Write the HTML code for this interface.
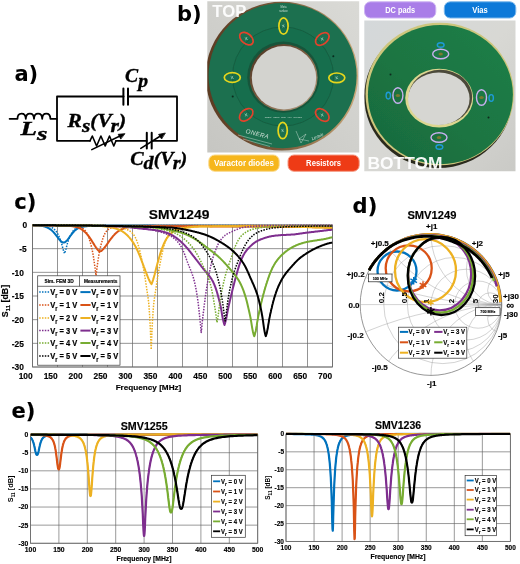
<!DOCTYPE html>
<html><head><meta charset="utf-8"><title>Figure</title>
<style>html,body{margin:0;padding:0;background:#fff}svg{display:block}</style>
</head><body>
<svg width="520" height="564" viewBox="0 0 520 564">
<defs><filter id="gblur" x="0" y="0" width="100%" height="100%" filterUnits="userSpaceOnUse"><feGaussianBlur stdDeviation="0.45"/></filter></defs>
<g filter="url(#gblur)">
<rect x="0" y="0" width="520" height="564" fill="#fff"/>
<defs>
<filter id="b03" x="-5%" y="-5%" width="110%" height="110%"><feGaussianBlur stdDeviation="0.35"/></filter>
<filter id="b06" x="-5%" y="-5%" width="110%" height="110%"><feGaussianBlur stdDeviation="0.6"/></filter>
<filter id="b1" x="-5%" y="-5%" width="110%" height="110%"><feGaussianBlur stdDeviation="1"/></filter>
<filter id="b2" x="-10%" y="-10%" width="120%" height="120%"><feGaussianBlur stdDeviation="2"/></filter>
<clipPath id="clipC"><rect x="32.5" y="224" width="300" height="143"/></clipPath>
<clipPath id="clipE1"><rect x="30.5" y="433" width="227.6" height="110.5"/></clipPath>
<clipPath id="clipE2"><rect x="286" y="432.5" width="224.4" height="109.5"/></clipPath>
<clipPath id="clipP1"><rect x="207.3" y="1.2" width="151.9" height="151.2"/></clipPath>
<clipPath id="clipP2"><rect x="364.3" y="20.5" width="151.2" height="150.8"/></clipPath>
<clipPath id="clipS"><circle cx="431" cy="304.6" r="70.8"/></clipPath>
</defs>
<g id="chartC">
<path d="M32.5,225.0 V367.0 M57.5,225.0 V367.0 M82.5,225.0 V367.0 M107.5,225.0 V367.0 M132.5,225.0 V367.0 M157.5,225.0 V367.0 M182.5,225.0 V367.0 M207.5,225.0 V367.0 M232.5,225.0 V367.0 M257.5,225.0 V367.0 M282.5,225.0 V367.0 M307.5,225.0 V367.0 M332.5,225.0 V367.0 M32.5,225.00 H332.5 M32.5,248.67 H332.5 M32.5,272.33 H332.5 M32.5,296.00 H332.5 M32.5,319.67 H332.5 M32.5,343.33 H332.5 M32.5,367.00 H332.5" stroke="#606060" stroke-width="0.8" fill="none" opacity="0.85"/>
<rect x="32.5" y="225.0" width="300.0" height="142.0" fill="none" stroke="#666" stroke-width="0.75"/>
<g clip-path="url(#clipC)">
<path d="M32.5,225.2 L33.0,225.2 L33.5,225.2 L34.0,225.2 L34.5,225.2 L35.0,225.2 L35.5,225.2 L36.0,225.3 L36.5,225.3 L37.0,225.3 L37.5,225.3 L38.0,225.3 L38.5,225.3 L39.0,225.4 L39.5,225.4 L40.0,225.4 L40.5,225.4 L41.0,225.5 L41.5,225.5 L42.0,225.5 L42.5,225.6 L43.0,225.6 L43.5,225.6 L44.0,225.7 L44.5,225.7 L45.0,225.8 L45.5,225.8 L46.0,225.9 L46.5,225.9 L47.0,226.0 L47.5,226.1 L48.0,226.2 L48.5,226.3 L49.0,226.4 L49.5,226.6 L50.0,226.7 L50.5,226.9 L51.0,227.1 L51.5,227.4 L52.0,227.6 L52.5,227.9 L53.0,228.3 L53.5,228.6 L54.0,229.0 L54.5,229.5 L55.0,230.0 L55.5,230.5 L56.0,231.1 L56.5,231.8 L57.0,232.6 L57.5,233.5 L58.0,234.4 L58.5,235.5 L59.0,236.5 L59.5,237.6 L60.0,238.8 L60.5,240.1 L61.0,241.5 L61.5,243.1 L62.0,245.0 L62.5,247.0 L63.0,248.9 L63.5,250.6 L64.0,252.1 L64.5,253.5 L65.0,252.1 L65.5,250.6 L66.0,248.9 L66.5,247.0 L67.0,245.0 L67.5,243.1 L68.0,241.5 L68.5,240.1 L69.0,238.8 L69.5,237.6 L70.0,236.5 L70.5,235.5 L71.0,234.4 L71.5,233.5 L72.0,232.6 L72.5,231.8 L73.0,231.1 L73.5,230.5 L74.0,230.0 L74.5,229.5 L75.0,229.1 L75.5,228.7 L76.0,228.3 L76.5,228.0 L77.0,227.8 L77.5,227.5 L78.0,227.3 L78.5,227.1 L79.0,227.0 L79.5,226.8 L80.0,226.7 L80.5,226.6 L81.0,226.5 L81.5,226.4 L82.0,226.3 L82.5,226.3 L83.0,226.2 L83.5,226.2 L84.0,226.1 L84.5,226.1 L85.0,226.0 L85.5,226.0 L86.0,226.0 L86.5,225.9 L87.0,225.9 L87.5,225.9 L88.0,225.9 L88.5,225.9 L89.0,225.8 L89.5,225.8 L90.0,225.8 L90.5,225.8 L91.0,225.8 L91.5,225.8 L92.0,225.8 L92.5,225.8 L93.0,225.8 L93.5,225.8 L94.0,225.8 L94.5,225.8 L95.0,225.8 L95.5,225.8 L96.0,225.8 L96.5,225.8 L97.0,225.8 L97.5,225.8 L98.0,225.8 L98.5,225.8 L99.0,225.8 L99.5,225.8 L100.0,225.8 L100.5,225.8 L101.0,225.8 L101.5,225.8 L102.0,225.8 L102.5,225.8 L103.0,225.8 L103.5,225.8 L104.0,225.8 L104.5,225.8 L105.0,225.8 L105.5,225.7 L106.0,225.7 L106.5,225.7 L107.0,225.7 L107.5,225.7 L108.0,225.7 L108.5,225.7 L109.0,225.7 L109.5,225.7 L110.0,225.7 L110.5,225.7 L111.0,225.7 L111.5,225.7 L112.0,225.7 L112.5,225.7 L113.0,225.7 L113.5,225.7 L114.0,225.7 L114.5,225.7 L115.0,225.7 L115.5,225.7 L116.0,225.7 L116.5,225.7 L117.0,225.7 L117.5,225.7 L118.0,225.7 L118.5,225.7 L119.0,225.7 L119.5,225.7 L120.0,225.7 L120.5,225.7 L121.0,225.7 L121.5,225.7 L122.0,225.7 L122.5,225.7 L123.0,225.7 L123.5,225.7 L124.0,225.7 L124.5,225.7 L125.0,225.7 L125.5,225.7 L126.0,225.7 L126.5,225.7 L127.0,225.7 L127.5,225.7 L128.0,225.7 L128.5,225.7 L129.0,225.7 L129.5,225.7 L130.0,225.7 L130.5,225.7 L131.0,225.7 L131.5,225.7 L132.0,225.7 L132.5,225.7 L133.0,225.7 L133.5,225.7 L134.0,225.7 L134.5,225.7 L135.0,225.7 L135.5,225.7 L136.0,225.7 L136.5,225.7 L137.0,225.7 L137.5,225.7 L138.0,225.7 L138.5,225.7 L139.0,225.7 L139.5,225.7 L140.0,225.7 L140.5,225.7 L141.0,225.7 L141.5,225.7 L142.0,225.7 L142.5,225.7 L143.0,225.7 L143.5,225.7 L144.0,225.6 L144.5,225.6 L145.0,225.6 L145.5,225.6 L146.0,225.6 L146.5,225.6 L147.0,225.6 L147.5,225.6 L148.0,225.6 L148.5,225.6 L149.0,225.6 L149.5,225.6 L150.0,225.6 L150.5,225.6 L151.0,225.6 L151.5,225.6 L152.0,225.6 L152.5,225.6 L153.0,225.6 L153.5,225.6 L154.0,225.6 L154.5,225.6 L155.0,225.6 L155.5,225.6 L156.0,225.6 L156.5,225.6 L157.0,225.6 L157.5,225.6 L158.0,225.6 L158.5,225.6 L159.0,225.6 L159.5,225.6 L160.0,225.6 L160.5,225.6 L161.0,225.6 L161.5,225.6 L162.0,225.6 L162.5,225.6 L163.0,225.6 L163.5,225.6 L164.0,225.6 L164.5,225.6 L165.0,225.6 L165.5,225.6 L166.0,225.6 L166.5,225.6 L167.0,225.6 L167.5,225.6 L168.0,225.6 L168.5,225.6 L169.0,225.6 L169.5,225.6 L170.0,225.6 L170.5,225.6 L171.0,225.6 L171.5,225.6 L172.0,225.6 L172.5,225.6 L173.0,225.6 L173.5,225.6 L174.0,225.6 L174.5,225.6 L175.0,225.6 L175.5,225.6 L176.0,225.6 L176.5,225.6 L177.0,225.6 L177.5,225.6 L178.0,225.6 L178.5,225.6 L179.0,225.6 L179.5,225.6 L180.0,225.6 L180.5,225.6 L181.0,225.6 L181.5,225.6 L182.0,225.6 L182.5,225.6 L183.0,225.6 L183.5,225.6 L184.0,225.6 L184.5,225.6 L185.0,225.6 L185.5,225.6 L186.0,225.6 L186.5,225.6 L187.0,225.6 L187.5,225.6 L188.0,225.6 L188.5,225.6 L189.0,225.6 L189.5,225.6 L190.0,225.6 L190.5,225.6 L191.0,225.6 L191.5,225.6 L192.0,225.6 L192.5,225.6 L193.0,225.6 L193.5,225.6 L194.0,225.6 L194.5,225.6 L195.0,225.6 L195.5,225.6 L196.0,225.6 L196.5,225.6 L197.0,225.6 L197.5,225.6 L198.0,225.6 L198.5,225.6 L199.0,225.6 L199.5,225.6 L200.0,225.6 L200.5,225.6 L201.0,225.6 L201.5,225.6 L202.0,225.6 L202.5,225.6 L203.0,225.6 L203.5,225.6 L204.0,225.6 L204.5,225.6 L205.0,225.6 L205.5,225.6 L206.0,225.6 L206.5,225.6 L207.0,225.5 L207.5,225.5 L208.0,225.5 L208.5,225.5 L209.0,225.5 L209.5,225.5 L210.0,225.5 L210.5,225.5 L211.0,225.5 L211.5,225.5 L212.0,225.5 L212.5,225.5 L213.0,225.5 L213.5,225.5 L214.0,225.5 L214.5,225.5 L215.0,225.5 L215.5,225.5 L216.0,225.5 L216.5,225.5 L217.0,225.5 L217.5,225.5 L218.0,225.5 L218.5,225.5 L219.0,225.5 L219.5,225.5 L220.0,225.5 L220.5,225.5 L221.0,225.5 L221.5,225.5 L222.0,225.5 L222.5,225.5 L223.0,225.5 L223.5,225.5 L224.0,225.5 L224.5,225.5 L225.0,225.5 L225.5,225.5 L226.0,225.5 L226.5,225.5 L227.0,225.5 L227.5,225.5 L228.0,225.5 L228.5,225.5 L229.0,225.5 L229.5,225.5 L230.0,225.5 L230.5,225.5 L231.0,225.5 L231.5,225.5 L232.0,225.5 L232.5,225.5 L233.0,225.5 L233.5,225.5 L234.0,225.5 L234.5,225.5 L235.0,225.5 L235.5,225.5 L236.0,225.5 L236.5,225.5 L237.0,225.5 L237.5,225.5 L238.0,225.5 L238.5,225.5 L239.0,225.5 L239.5,225.5 L240.0,225.5 L240.5,225.5 L241.0,225.5 L241.5,225.5 L242.0,225.5 L242.5,225.5 L243.0,225.5 L243.5,225.5 L244.0,225.5 L244.5,225.5 L245.0,225.5 L245.5,225.5 L246.0,225.5 L246.5,225.5 L247.0,225.5 L247.5,225.5 L248.0,225.5 L248.5,225.5 L249.0,225.5 L249.5,225.5 L250.0,225.5 L250.5,225.5 L251.0,225.5 L251.5,225.5 L252.0,225.5 L252.5,225.5 L253.0,225.5 L253.5,225.5 L254.0,225.5 L254.5,225.5 L255.0,225.5 L255.5,225.5 L256.0,225.5 L256.5,225.5 L257.0,225.5 L257.5,225.5 L258.0,225.5 L258.5,225.5 L259.0,225.5 L259.5,225.5 L260.0,225.5 L260.5,225.5 L261.0,225.5 L261.5,225.5 L262.0,225.5 L262.5,225.5 L263.0,225.5 L263.5,225.5 L264.0,225.5 L264.5,225.5 L265.0,225.5 L265.5,225.5 L266.0,225.5 L266.5,225.5 L267.0,225.5 L267.5,225.5 L268.0,225.5 L268.5,225.5 L269.0,225.5 L269.5,225.5 L270.0,225.5 L270.5,225.5 L271.0,225.5 L271.5,225.5 L272.0,225.5 L272.5,225.5 L273.0,225.5 L273.5,225.5 L274.0,225.5 L274.5,225.5 L275.0,225.5 L275.5,225.5 L276.0,225.5 L276.5,225.5 L277.0,225.5 L277.5,225.5 L278.0,225.5 L278.5,225.5 L279.0,225.5 L279.5,225.5 L280.0,225.5 L280.5,225.5 L281.0,225.5 L281.5,225.5 L282.0,225.5 L282.5,225.5 L283.0,225.5 L283.5,225.5 L284.0,225.5 L284.5,225.5 L285.0,225.5 L285.5,225.5 L286.0,225.5 L286.5,225.5 L287.0,225.5 L287.5,225.5 L288.0,225.5 L288.5,225.5 L289.0,225.5 L289.5,225.5 L290.0,225.5 L290.5,225.5 L291.0,225.5 L291.5,225.5 L292.0,225.5 L292.5,225.5 L293.0,225.5 L293.5,225.5 L294.0,225.5 L294.5,225.5 L295.0,225.5 L295.5,225.5 L296.0,225.5 L296.5,225.5 L297.0,225.5 L297.5,225.5 L298.0,225.5 L298.5,225.5 L299.0,225.5 L299.5,225.5 L300.0,225.5 L300.5,225.5 L301.0,225.5 L301.5,225.5 L302.0,225.5 L302.5,225.5 L303.0,225.5 L303.5,225.5 L304.0,225.5 L304.5,225.5 L305.0,225.5 L305.5,225.5 L306.0,225.5 L306.5,225.5 L307.0,225.5 L307.5,225.5 L308.0,225.5 L308.5,225.5 L309.0,225.5 L309.5,225.5 L310.0,225.5 L310.5,225.5 L311.0,225.5 L311.5,225.5 L312.0,225.5 L312.5,225.5 L313.0,225.5 L313.5,225.5 L314.0,225.5 L314.5,225.5 L315.0,225.5 L315.5,225.5 L316.0,225.5 L316.5,225.5 L317.0,225.5 L317.5,225.5 L318.0,225.5 L318.5,225.5 L319.0,225.5 L319.5,225.5 L320.0,225.5 L320.5,225.5 L321.0,225.5 L321.5,225.5 L322.0,225.5 L322.5,225.5 L323.0,225.5 L323.5,225.5 L324.0,225.5 L324.5,225.5 L325.0,225.5 L325.5,225.5 L326.0,225.5 L326.5,225.5 L327.0,225.5 L327.5,225.5 L328.0,225.5 L328.5,225.5 L329.0,225.5 L329.5,225.5 L330.0,225.5 L330.5,225.5 L331.0,225.5 L331.5,225.5 L332.0,225.5 L332.5,225.5" fill="none" stroke="#0072BD" stroke-width="1.5" stroke-linejoin="round" stroke-linecap="butt" stroke-dasharray="1.5 1.3" />
<path d="M32.5,225.3 L33.0,225.3 L33.5,225.3 L34.0,225.3 L34.5,225.3 L35.0,225.4 L35.5,225.4 L36.0,225.4 L36.5,225.4 L37.0,225.5 L37.5,225.5 L38.0,225.5 L38.5,225.6 L39.0,225.6 L39.5,225.7 L40.0,225.7 L40.5,225.8 L41.0,225.8 L41.5,225.9 L42.0,226.0 L42.5,226.0 L43.0,226.1 L43.5,226.2 L44.0,226.3 L44.5,226.5 L45.0,226.6 L45.5,226.8 L46.0,227.0 L46.5,227.2 L47.0,227.4 L47.5,227.7 L48.0,227.9 L48.5,228.2 L49.0,228.5 L49.5,228.8 L50.0,229.1 L50.5,229.4 L51.0,229.8 L51.5,230.2 L52.0,230.6 L52.5,231.1 L53.0,231.6 L53.5,232.2 L54.0,232.7 L54.5,233.3 L55.0,233.9 L55.5,234.5 L56.0,235.1 L56.5,235.8 L57.0,236.4 L57.5,237.1 L58.0,237.8 L58.5,238.5 L59.0,239.2 L59.5,239.8 L60.0,240.3 L60.5,240.9 L61.0,241.3 L61.5,241.7 L62.0,242.1 L62.5,242.3 L63.0,242.5 L63.5,242.6 L64.0,242.6 L64.5,242.4 L65.0,242.2 L65.5,241.8 L66.0,241.4 L66.5,240.9 L67.0,240.4 L67.5,239.8 L68.0,239.2 L68.5,238.5 L69.0,237.8 L69.5,237.1 L70.0,236.4 L70.5,235.7 L71.0,235.1 L71.5,234.4 L72.0,233.8 L72.5,233.2 L73.0,232.6 L73.5,232.0 L74.0,231.4 L74.5,230.9 L75.0,230.4 L75.5,230.0 L76.0,229.6 L76.5,229.3 L77.0,228.9 L77.5,228.6 L78.0,228.3 L78.5,228.1 L79.0,227.8 L79.5,227.6 L80.0,227.4 L80.5,227.3 L81.0,227.1 L81.5,227.0 L82.0,226.8 L82.5,226.7 L83.0,226.7 L83.5,226.6 L84.0,226.5 L84.5,226.4 L85.0,226.4 L85.5,226.3 L86.0,226.3 L86.5,226.2 L87.0,226.2 L87.5,226.1 L88.0,226.1 L88.5,226.1 L89.0,226.0 L89.5,226.0 L90.0,226.0 L90.5,226.0 L91.0,226.0 L91.5,226.0 L92.0,226.0 L92.5,226.0 L93.0,226.0 L93.5,226.0 L94.0,225.9 L94.5,225.9 L95.0,225.9 L95.5,225.9 L96.0,225.9 L96.5,225.9 L97.0,225.9 L97.5,225.9 L98.0,225.9 L98.5,225.9 L99.0,225.9 L99.5,225.9 L100.0,225.9 L100.5,225.9 L101.0,225.9 L101.5,225.9 L102.0,225.9 L102.5,225.9 L103.0,225.9 L103.5,225.9 L104.0,225.9 L104.5,225.8 L105.0,225.8 L105.5,225.8 L106.0,225.8 L106.5,225.8 L107.0,225.8 L107.5,225.8 L108.0,225.8 L108.5,225.8 L109.0,225.8 L109.5,225.8 L110.0,225.8 L110.5,225.8 L111.0,225.8 L111.5,225.8 L112.0,225.8 L112.5,225.8 L113.0,225.8 L113.5,225.8 L114.0,225.8 L114.5,225.8 L115.0,225.8 L115.5,225.8 L116.0,225.8 L116.5,225.8 L117.0,225.8 L117.5,225.8 L118.0,225.8 L118.5,225.8 L119.0,225.8 L119.5,225.8 L120.0,225.8 L120.5,225.8 L121.0,225.8 L121.5,225.8 L122.0,225.8 L122.5,225.8 L123.0,225.8 L123.5,225.8 L124.0,225.8 L124.5,225.8 L125.0,225.8 L125.5,225.8 L126.0,225.8 L126.5,225.8 L127.0,225.8 L127.5,225.8 L128.0,225.8 L128.5,225.8 L129.0,225.8 L129.5,225.8 L130.0,225.8 L130.5,225.8 L131.0,225.8 L131.5,225.8 L132.0,225.8 L132.5,225.8 L133.0,225.8 L133.5,225.8 L134.0,225.8 L134.5,225.8 L135.0,225.8 L135.5,225.8 L136.0,225.8 L136.5,225.8 L137.0,225.8 L137.5,225.8 L138.0,225.8 L138.5,225.8 L139.0,225.8 L139.5,225.8 L140.0,225.8 L140.5,225.8 L141.0,225.8 L141.5,225.8 L142.0,225.8 L142.5,225.8 L143.0,225.8 L143.5,225.8 L144.0,225.8 L144.5,225.8 L145.0,225.8 L145.5,225.8 L146.0,225.8 L146.5,225.8 L147.0,225.8 L147.5,225.8 L148.0,225.8 L148.5,225.8 L149.0,225.8 L149.5,225.8 L150.0,225.8 L150.5,225.8 L151.0,225.8 L151.5,225.8 L152.0,225.8 L152.5,225.8 L153.0,225.8 L153.5,225.8 L154.0,225.8 L154.5,225.8 L155.0,225.9 L155.5,225.9 L156.0,225.9 L156.5,225.9 L157.0,225.9 L157.5,225.9 L158.0,225.9 L158.5,225.9 L159.0,225.9 L159.5,225.9 L160.0,225.9 L160.5,225.9 L161.0,225.9 L161.5,225.9 L162.0,225.9 L162.5,225.9 L163.0,225.9 L163.5,225.9 L164.0,225.9 L164.5,225.9 L165.0,225.9 L165.5,225.9 L166.0,225.9 L166.5,225.9 L167.0,225.9 L167.5,225.9 L168.0,225.9 L168.5,225.9 L169.0,225.9 L169.5,225.9 L170.0,225.9 L170.5,225.9 L171.0,225.9 L171.5,225.9 L172.0,225.9 L172.5,225.9 L173.0,225.9 L173.5,225.9 L174.0,225.9 L174.5,225.9 L175.0,225.9 L175.5,225.9 L176.0,225.9 L176.5,225.9 L177.0,225.9 L177.5,225.9 L178.0,225.9 L178.5,225.9 L179.0,225.9 L179.5,225.9 L180.0,225.9 L180.5,225.9 L181.0,225.9 L181.5,225.9 L182.0,225.9 L182.5,225.9 L183.0,225.9 L183.5,225.9 L184.0,225.9 L184.5,225.9 L185.0,225.9 L185.5,225.9 L186.0,225.9 L186.5,226.0 L187.0,226.0 L187.5,226.0 L188.0,226.0 L188.5,226.0 L189.0,226.0 L189.5,226.0 L190.0,226.0 L190.5,226.0 L191.0,226.0 L191.5,226.0 L192.0,226.0 L192.5,226.0 L193.0,226.0 L193.5,226.0 L194.0,226.0 L194.5,226.0 L195.0,226.0 L195.5,226.0 L196.0,226.0 L196.5,226.0 L197.0,226.0 L197.5,226.0 L198.0,226.0 L198.5,226.0 L199.0,226.0 L199.5,226.0 L200.0,226.0 L200.5,226.0 L201.0,226.0 L201.5,226.0 L202.0,226.0 L202.5,226.0 L203.0,226.0 L203.5,226.0 L204.0,226.0 L204.5,226.0 L205.0,226.0 L205.5,226.0 L206.0,226.0 L206.5,226.0 L207.0,226.0 L207.5,226.0 L208.0,226.0 L208.5,226.0 L209.0,226.0 L209.5,226.0 L210.0,226.0 L210.5,226.0 L211.0,226.0 L211.5,226.0 L212.0,226.0 L212.5,226.1 L213.0,226.1 L213.5,226.1 L214.0,226.1 L214.5,226.1 L215.0,226.1 L215.5,226.1 L216.0,226.1 L216.5,226.1 L217.0,226.1 L217.5,226.1 L218.0,226.1 L218.5,226.1 L219.0,226.1 L219.5,226.1 L220.0,226.1 L220.5,226.1 L221.0,226.1 L221.5,226.1 L222.0,226.1 L222.5,226.1 L223.0,226.1 L223.5,226.1 L224.0,226.1 L224.5,226.1 L225.0,226.1 L225.5,226.1 L226.0,226.1 L226.5,226.1 L227.0,226.1 L227.5,226.1 L228.0,226.1 L228.5,226.1 L229.0,226.1 L229.5,226.1 L230.0,226.1 L230.5,226.1 L231.0,226.1 L231.5,226.1 L232.0,226.2 L232.5,226.2 L233.0,226.2 L233.5,226.2 L234.0,226.2 L234.5,226.2 L235.0,226.2 L235.5,226.2 L236.0,226.2 L236.5,226.2 L237.0,226.2 L237.5,226.2 L238.0,226.2 L238.5,226.2 L239.0,226.2 L239.5,226.2 L240.0,226.2 L240.5,226.2 L241.0,226.2 L241.5,226.2 L242.0,226.2 L242.5,226.2 L243.0,226.2 L243.5,226.2 L244.0,226.2 L244.5,226.2 L245.0,226.2 L245.5,226.2 L246.0,226.2 L246.5,226.2 L247.0,226.2 L247.5,226.2 L248.0,226.3 L248.5,226.3 L249.0,226.3 L249.5,226.3 L250.0,226.3 L250.5,226.3 L251.0,226.3 L251.5,226.3 L252.0,226.3 L252.5,226.3 L253.0,226.3 L253.5,226.3 L254.0,226.3 L254.5,226.3 L255.0,226.3 L255.5,226.3 L256.0,226.3 L256.5,226.3 L257.0,226.3 L257.5,226.3 L258.0,226.3 L258.5,226.3 L259.0,226.3 L259.5,226.3 L260.0,226.3 L260.5,226.3 L261.0,226.3 L261.5,226.3 L262.0,226.4 L262.5,226.4 L263.0,226.4 L263.5,226.4 L264.0,226.4 L264.5,226.4 L265.0,226.4 L265.5,226.4 L266.0,226.4 L266.5,226.4 L267.0,226.4 L267.5,226.4 L268.0,226.4 L268.5,226.4 L269.0,226.4 L269.5,226.4 L270.0,226.4 L270.5,226.4 L271.0,226.4 L271.5,226.4 L272.0,226.4 L272.5,226.4 L273.0,226.4 L273.5,226.4 L274.0,226.4 L274.5,226.4 L275.0,226.5 L275.5,226.5 L276.0,226.5 L276.5,226.5 L277.0,226.5 L277.5,226.5 L278.0,226.5 L278.5,226.5 L279.0,226.5 L279.5,226.5 L280.0,226.5 L280.5,226.5 L281.0,226.5 L281.5,226.5 L282.0,226.5 L282.5,226.5 L283.0,226.5 L283.5,226.5 L284.0,226.5 L284.5,226.5 L285.0,226.5 L285.5,226.5 L286.0,226.5 L286.5,226.6 L287.0,226.6 L287.5,226.6 L288.0,226.6 L288.5,226.6 L289.0,226.6 L289.5,226.6 L290.0,226.6 L290.5,226.6 L291.0,226.6 L291.5,226.6 L292.0,226.6 L292.5,226.6 L293.0,226.6 L293.5,226.6 L294.0,226.6 L294.5,226.6 L295.0,226.6 L295.5,226.6 L296.0,226.6 L296.5,226.6 L297.0,226.6 L297.5,226.6 L298.0,226.7 L298.5,226.7 L299.0,226.7 L299.5,226.7 L300.0,226.7 L300.5,226.7 L301.0,226.7 L301.5,226.7 L302.0,226.7 L302.5,226.7 L303.0,226.7 L303.5,226.7 L304.0,226.7 L304.5,226.7 L305.0,226.7 L305.5,226.7 L306.0,226.7 L306.5,226.7 L307.0,226.7 L307.5,226.7 L308.0,226.7 L308.5,226.8 L309.0,226.8 L309.5,226.8 L310.0,226.8 L310.5,226.8 L311.0,226.8 L311.5,226.8 L312.0,226.8 L312.5,226.8 L313.0,226.8 L313.5,226.8 L314.0,226.8 L314.5,226.8 L315.0,226.8 L315.5,226.8 L316.0,226.8 L316.5,226.8 L317.0,226.8 L317.5,226.8 L318.0,226.8 L318.5,226.9 L319.0,226.9 L319.5,226.9 L320.0,226.9 L320.5,226.9 L321.0,226.9 L321.5,226.9 L322.0,226.9 L322.5,226.9 L323.0,226.9 L323.5,226.9 L324.0,226.9 L324.5,226.9 L325.0,226.9 L325.5,226.9 L326.0,226.9 L326.5,226.9 L327.0,226.9 L327.5,226.9 L328.0,227.0 L328.5,227.0 L329.0,227.0 L329.5,227.0 L330.0,227.0 L330.5,227.0 L331.0,227.0 L331.5,227.0 L332.0,227.0 L332.5,227.0" fill="none" stroke="#0072BD" stroke-width="2.0" stroke-linejoin="round" stroke-linecap="butt" />
<path d="M32.5,225.2 L33.0,225.2 L33.5,225.2 L34.0,225.2 L34.5,225.2 L35.0,225.2 L35.5,225.2 L36.0,225.2 L36.5,225.2 L37.0,225.2 L37.5,225.2 L38.0,225.2 L38.5,225.2 L39.0,225.2 L39.5,225.2 L40.0,225.2 L40.5,225.2 L41.0,225.2 L41.5,225.2 L42.0,225.2 L42.5,225.2 L43.0,225.2 L43.5,225.2 L44.0,225.2 L44.5,225.3 L45.0,225.3 L45.5,225.3 L46.0,225.3 L46.5,225.3 L47.0,225.3 L47.5,225.3 L48.0,225.3 L48.5,225.3 L49.0,225.3 L49.5,225.3 L50.0,225.3 L50.5,225.3 L51.0,225.3 L51.5,225.3 L52.0,225.3 L52.5,225.4 L53.0,225.4 L53.5,225.4 L54.0,225.4 L54.5,225.4 L55.0,225.4 L55.5,225.4 L56.0,225.4 L56.5,225.4 L57.0,225.4 L57.5,225.4 L58.0,225.5 L58.5,225.5 L59.0,225.5 L59.5,225.5 L60.0,225.5 L60.5,225.5 L61.0,225.5 L61.5,225.5 L62.0,225.6 L62.5,225.6 L63.0,225.6 L63.5,225.6 L64.0,225.6 L64.5,225.6 L65.0,225.6 L65.5,225.7 L66.0,225.7 L66.5,225.7 L67.0,225.7 L67.5,225.7 L68.0,225.7 L68.5,225.8 L69.0,225.8 L69.5,225.8 L70.0,225.8 L70.5,225.8 L71.0,225.8 L71.5,225.9 L72.0,225.9 L72.5,225.9 L73.0,225.9 L73.5,226.0 L74.0,226.0 L74.5,226.0 L75.0,226.1 L75.5,226.1 L76.0,226.2 L76.5,226.3 L77.0,226.3 L77.5,226.4 L78.0,226.5 L78.5,226.6 L79.0,226.8 L79.5,226.9 L80.0,227.1 L80.5,227.2 L81.0,227.4 L81.5,227.7 L82.0,227.9 L82.5,228.2 L83.0,228.5 L83.5,228.9 L84.0,229.3 L84.5,229.8 L85.0,230.4 L85.5,231.0 L86.0,231.7 L86.5,232.5 L87.0,233.3 L87.5,234.3 L88.0,235.5 L88.5,236.7 L89.0,238.1 L89.5,239.7 L90.0,241.4 L90.5,243.1 L91.0,244.9 L91.5,246.9 L92.0,249.1 L92.5,251.5 L93.0,254.1 L93.5,257.2 L94.0,260.6 L94.5,264.1 L95.0,267.7 L95.5,271.6 L96.0,275.5 L96.5,271.6 L97.0,267.7 L97.5,264.1 L98.0,260.6 L98.5,257.2 L99.0,254.1 L99.5,251.5 L100.0,249.1 L100.5,246.9 L101.0,244.9 L101.5,243.1 L102.0,241.4 L102.5,239.7 L103.0,238.1 L103.5,236.7 L104.0,235.5 L104.5,234.4 L105.0,233.4 L105.5,232.6 L106.0,231.8 L106.5,231.2 L107.0,230.6 L107.5,230.1 L108.0,229.7 L108.5,229.3 L109.0,229.0 L109.5,228.7 L110.0,228.4 L110.5,228.2 L111.0,227.9 L111.5,227.8 L112.0,227.6 L112.5,227.4 L113.0,227.3 L113.5,227.2 L114.0,227.1 L114.5,227.0 L115.0,226.9 L115.5,226.8 L116.0,226.7 L116.5,226.7 L117.0,226.6 L117.5,226.5 L118.0,226.5 L118.5,226.4 L119.0,226.4 L119.5,226.3 L120.0,226.3 L120.5,226.2 L121.0,226.2 L121.5,226.2 L122.0,226.1 L122.5,226.1 L123.0,226.1 L123.5,226.1 L124.0,226.1 L124.5,226.0 L125.0,226.0 L125.5,226.0 L126.0,226.0 L126.5,226.0 L127.0,226.0 L127.5,226.0 L128.0,226.0 L128.5,226.0 L129.0,226.0 L129.5,226.0 L130.0,226.0 L130.5,226.0 L131.0,226.0 L131.5,226.0 L132.0,226.0 L132.5,226.0 L133.0,226.0 L133.5,226.0 L134.0,226.0 L134.5,226.0 L135.0,225.9 L135.5,225.9 L136.0,225.9 L136.5,225.9 L137.0,225.9 L137.5,225.9 L138.0,225.9 L138.5,225.9 L139.0,225.9 L139.5,225.9 L140.0,225.9 L140.5,225.9 L141.0,225.9 L141.5,225.9 L142.0,225.9 L142.5,225.9 L143.0,225.9 L143.5,225.9 L144.0,225.9 L144.5,225.9 L145.0,225.9 L145.5,225.9 L146.0,225.9 L146.5,225.9 L147.0,225.9 L147.5,225.9 L148.0,225.9 L148.5,225.9 L149.0,225.9 L149.5,225.9 L150.0,225.9 L150.5,225.9 L151.0,225.9 L151.5,225.9 L152.0,225.9 L152.5,225.9 L153.0,225.9 L153.5,225.9 L154.0,225.9 L154.5,225.9 L155.0,225.9 L155.5,225.9 L156.0,225.9 L156.5,225.9 L157.0,225.9 L157.5,225.9 L158.0,225.8 L158.5,225.8 L159.0,225.8 L159.5,225.8 L160.0,225.8 L160.5,225.8 L161.0,225.8 L161.5,225.8 L162.0,225.8 L162.5,225.8 L163.0,225.8 L163.5,225.8 L164.0,225.8 L164.5,225.8 L165.0,225.8 L165.5,225.8 L166.0,225.8 L166.5,225.8 L167.0,225.8 L167.5,225.8 L168.0,225.8 L168.5,225.8 L169.0,225.8 L169.5,225.8 L170.0,225.8 L170.5,225.8 L171.0,225.8 L171.5,225.8 L172.0,225.8 L172.5,225.8 L173.0,225.8 L173.5,225.8 L174.0,225.8 L174.5,225.8 L175.0,225.8 L175.5,225.8 L176.0,225.8 L176.5,225.8 L177.0,225.8 L177.5,225.8 L178.0,225.8 L178.5,225.8 L179.0,225.8 L179.5,225.8 L180.0,225.8 L180.5,225.8 L181.0,225.8 L181.5,225.8 L182.0,225.8 L182.5,225.8 L183.0,225.8 L183.5,225.8 L184.0,225.8 L184.5,225.8 L185.0,225.8 L185.5,225.8 L186.0,225.8 L186.5,225.8 L187.0,225.8 L187.5,225.8 L188.0,225.8 L188.5,225.7 L189.0,225.7 L189.5,225.7 L190.0,225.7 L190.5,225.7 L191.0,225.7 L191.5,225.7 L192.0,225.7 L192.5,225.7 L193.0,225.7 L193.5,225.7 L194.0,225.7 L194.5,225.7 L195.0,225.7 L195.5,225.7 L196.0,225.7 L196.5,225.7 L197.0,225.7 L197.5,225.7 L198.0,225.7 L198.5,225.7 L199.0,225.7 L199.5,225.7 L200.0,225.7 L200.5,225.7 L201.0,225.7 L201.5,225.7 L202.0,225.7 L202.5,225.7 L203.0,225.7 L203.5,225.7 L204.0,225.7 L204.5,225.7 L205.0,225.7 L205.5,225.7 L206.0,225.7 L206.5,225.7 L207.0,225.7 L207.5,225.7 L208.0,225.7 L208.5,225.7 L209.0,225.7 L209.5,225.7 L210.0,225.7 L210.5,225.7 L211.0,225.7 L211.5,225.7 L212.0,225.7 L212.5,225.7 L213.0,225.7 L213.5,225.7 L214.0,225.7 L214.5,225.7 L215.0,225.7 L215.5,225.7 L216.0,225.7 L216.5,225.7 L217.0,225.7 L217.5,225.7 L218.0,225.7 L218.5,225.7 L219.0,225.7 L219.5,225.7 L220.0,225.7 L220.5,225.7 L221.0,225.7 L221.5,225.7 L222.0,225.7 L222.5,225.7 L223.0,225.7 L223.5,225.7 L224.0,225.7 L224.5,225.7 L225.0,225.7 L225.5,225.7 L226.0,225.7 L226.5,225.7 L227.0,225.7 L227.5,225.7 L228.0,225.7 L228.5,225.7 L229.0,225.7 L229.5,225.7 L230.0,225.7 L230.5,225.7 L231.0,225.7 L231.5,225.7 L232.0,225.7 L232.5,225.7 L233.0,225.7 L233.5,225.7 L234.0,225.7 L234.5,225.7 L235.0,225.7 L235.5,225.7 L236.0,225.7 L236.5,225.7 L237.0,225.7 L237.5,225.7 L238.0,225.6 L238.5,225.6 L239.0,225.6 L239.5,225.6 L240.0,225.6 L240.5,225.6 L241.0,225.6 L241.5,225.6 L242.0,225.6 L242.5,225.6 L243.0,225.6 L243.5,225.6 L244.0,225.6 L244.5,225.6 L245.0,225.6 L245.5,225.6 L246.0,225.6 L246.5,225.6 L247.0,225.6 L247.5,225.6 L248.0,225.6 L248.5,225.6 L249.0,225.6 L249.5,225.6 L250.0,225.6 L250.5,225.6 L251.0,225.6 L251.5,225.6 L252.0,225.6 L252.5,225.6 L253.0,225.6 L253.5,225.6 L254.0,225.6 L254.5,225.6 L255.0,225.6 L255.5,225.6 L256.0,225.6 L256.5,225.6 L257.0,225.6 L257.5,225.6 L258.0,225.6 L258.5,225.6 L259.0,225.6 L259.5,225.6 L260.0,225.6 L260.5,225.6 L261.0,225.6 L261.5,225.6 L262.0,225.6 L262.5,225.6 L263.0,225.6 L263.5,225.6 L264.0,225.6 L264.5,225.6 L265.0,225.6 L265.5,225.6 L266.0,225.6 L266.5,225.6 L267.0,225.6 L267.5,225.6 L268.0,225.6 L268.5,225.6 L269.0,225.6 L269.5,225.6 L270.0,225.6 L270.5,225.6 L271.0,225.6 L271.5,225.6 L272.0,225.6 L272.5,225.6 L273.0,225.6 L273.5,225.6 L274.0,225.6 L274.5,225.6 L275.0,225.6 L275.5,225.6 L276.0,225.6 L276.5,225.6 L277.0,225.6 L277.5,225.6 L278.0,225.6 L278.5,225.6 L279.0,225.6 L279.5,225.6 L280.0,225.6 L280.5,225.6 L281.0,225.6 L281.5,225.6 L282.0,225.6 L282.5,225.6 L283.0,225.6 L283.5,225.6 L284.0,225.6 L284.5,225.6 L285.0,225.6 L285.5,225.6 L286.0,225.6 L286.5,225.6 L287.0,225.6 L287.5,225.6 L288.0,225.6 L288.5,225.6 L289.0,225.6 L289.5,225.6 L290.0,225.6 L290.5,225.6 L291.0,225.6 L291.5,225.6 L292.0,225.6 L292.5,225.6 L293.0,225.6 L293.5,225.6 L294.0,225.6 L294.5,225.6 L295.0,225.6 L295.5,225.6 L296.0,225.6 L296.5,225.6 L297.0,225.6 L297.5,225.6 L298.0,225.6 L298.5,225.6 L299.0,225.6 L299.5,225.6 L300.0,225.6 L300.5,225.6 L301.0,225.6 L301.5,225.6 L302.0,225.6 L302.5,225.6 L303.0,225.6 L303.5,225.6 L304.0,225.6 L304.5,225.6 L305.0,225.6 L305.5,225.6 L306.0,225.6 L306.5,225.6 L307.0,225.6 L307.5,225.6 L308.0,225.6 L308.5,225.6 L309.0,225.6 L309.5,225.6 L310.0,225.6 L310.5,225.6 L311.0,225.6 L311.5,225.6 L312.0,225.6 L312.5,225.6 L313.0,225.6 L313.5,225.6 L314.0,225.6 L314.5,225.6 L315.0,225.6 L315.5,225.6 L316.0,225.6 L316.5,225.6 L317.0,225.6 L317.5,225.6 L318.0,225.6 L318.5,225.6 L319.0,225.6 L319.5,225.6 L320.0,225.6 L320.5,225.6 L321.0,225.6 L321.5,225.6 L322.0,225.6 L322.5,225.6 L323.0,225.6 L323.5,225.6 L324.0,225.6 L324.5,225.6 L325.0,225.6 L325.5,225.6 L326.0,225.6 L326.5,225.6 L327.0,225.6 L327.5,225.6 L328.0,225.6 L328.5,225.6 L329.0,225.6 L329.5,225.6 L330.0,225.6 L330.5,225.6 L331.0,225.6 L331.5,225.6 L332.0,225.6 L332.5,225.6" fill="none" stroke="#D95319" stroke-width="1.5" stroke-linejoin="round" stroke-linecap="butt" stroke-dasharray="1.5 1.3" />
<path d="M32.5,225.3 L33.0,225.3 L33.5,225.3 L34.0,225.3 L34.5,225.3 L35.0,225.3 L35.5,225.3 L36.0,225.3 L36.5,225.3 L37.0,225.3 L37.5,225.3 L38.0,225.3 L38.5,225.3 L39.0,225.3 L39.5,225.3 L40.0,225.3 L40.5,225.3 L41.0,225.3 L41.5,225.3 L42.0,225.3 L42.5,225.3 L43.0,225.3 L43.5,225.4 L44.0,225.4 L44.5,225.4 L45.0,225.4 L45.5,225.4 L46.0,225.4 L46.5,225.4 L47.0,225.4 L47.5,225.4 L48.0,225.4 L48.5,225.4 L49.0,225.4 L49.5,225.4 L50.0,225.4 L50.5,225.4 L51.0,225.5 L51.5,225.5 L52.0,225.5 L52.5,225.5 L53.0,225.5 L53.5,225.5 L54.0,225.5 L54.5,225.5 L55.0,225.5 L55.5,225.5 L56.0,225.6 L56.5,225.6 L57.0,225.6 L57.5,225.6 L58.0,225.6 L58.5,225.6 L59.0,225.6 L59.5,225.6 L60.0,225.7 L60.5,225.7 L61.0,225.7 L61.5,225.7 L62.0,225.7 L62.5,225.7 L63.0,225.7 L63.5,225.8 L64.0,225.8 L64.5,225.8 L65.0,225.8 L65.5,225.8 L66.0,225.8 L66.5,225.9 L67.0,225.9 L67.5,225.9 L68.0,225.9 L68.5,225.9 L69.0,226.0 L69.5,226.0 L70.0,226.0 L70.5,226.1 L71.0,226.1 L71.5,226.1 L72.0,226.2 L72.5,226.3 L73.0,226.3 L73.5,226.4 L74.0,226.5 L74.5,226.6 L75.0,226.7 L75.5,226.8 L76.0,227.0 L76.5,227.1 L77.0,227.2 L77.5,227.4 L78.0,227.6 L78.5,227.7 L79.0,227.9 L79.5,228.2 L80.0,228.4 L80.5,228.7 L81.0,229.0 L81.5,229.3 L82.0,229.7 L82.5,230.0 L83.0,230.4 L83.5,230.8 L84.0,231.2 L84.5,231.6 L85.0,232.1 L85.5,232.6 L86.0,233.1 L86.5,233.6 L87.0,234.2 L87.5,234.8 L88.0,235.4 L88.5,236.0 L89.0,236.7 L89.5,237.4 L90.0,238.1 L90.5,238.8 L91.0,239.6 L91.5,240.4 L92.0,241.2 L92.5,242.0 L93.0,242.8 L93.5,243.6 L94.0,244.4 L94.5,245.2 L95.0,246.0 L95.5,246.7 L96.0,247.5 L96.5,248.2 L97.0,248.9 L97.5,249.5 L98.0,250.1 L98.5,250.6 L99.0,251.0 L99.5,251.2 L100.0,251.3 L100.5,251.3 L101.0,251.1 L101.5,250.8 L102.0,250.4 L102.5,249.9 L103.0,249.4 L103.5,248.8 L104.0,248.2 L104.5,247.6 L105.0,247.0 L105.5,246.3 L106.0,245.7 L106.5,245.0 L107.0,244.3 L107.5,243.6 L108.0,242.9 L108.5,242.1 L109.0,241.4 L109.5,240.7 L110.0,240.0 L110.5,239.4 L111.0,238.7 L111.5,238.1 L112.0,237.5 L112.5,236.8 L113.0,236.2 L113.5,235.6 L114.0,235.1 L114.5,234.5 L115.0,234.0 L115.5,233.5 L116.0,233.1 L116.5,232.6 L117.0,232.2 L117.5,231.8 L118.0,231.4 L118.5,231.1 L119.0,230.7 L119.5,230.4 L120.0,230.1 L120.5,229.8 L121.0,229.5 L121.5,229.3 L122.0,229.1 L122.5,228.9 L123.0,228.7 L123.5,228.5 L124.0,228.3 L124.5,228.2 L125.0,228.0 L125.5,227.9 L126.0,227.7 L126.5,227.6 L127.0,227.5 L127.5,227.4 L128.0,227.3 L128.5,227.2 L129.0,227.1 L129.5,227.1 L130.0,227.0 L130.5,227.0 L131.0,226.9 L131.5,226.9 L132.0,226.8 L132.5,226.8 L133.0,226.8 L133.5,226.7 L134.0,226.7 L134.5,226.7 L135.0,226.6 L135.5,226.6 L136.0,226.6 L136.5,226.5 L137.0,226.5 L137.5,226.5 L138.0,226.5 L138.5,226.4 L139.0,226.4 L139.5,226.4 L140.0,226.4 L140.5,226.4 L141.0,226.4 L141.5,226.3 L142.0,226.3 L142.5,226.3 L143.0,226.3 L143.5,226.3 L144.0,226.3 L144.5,226.3 L145.0,226.3 L145.5,226.3 L146.0,226.3 L146.5,226.3 L147.0,226.3 L147.5,226.3 L148.0,226.3 L148.5,226.3 L149.0,226.3 L149.5,226.3 L150.0,226.3 L150.5,226.3 L151.0,226.3 L151.5,226.3 L152.0,226.3 L152.5,226.3 L153.0,226.3 L153.5,226.3 L154.0,226.3 L154.5,226.3 L155.0,226.3 L155.5,226.3 L156.0,226.3 L156.5,226.3 L157.0,226.3 L157.5,226.3 L158.0,226.3 L158.5,226.3 L159.0,226.3 L159.5,226.3 L160.0,226.3 L160.5,226.3 L161.0,226.3 L161.5,226.3 L162.0,226.3 L162.5,226.3 L163.0,226.3 L163.5,226.3 L164.0,226.3 L164.5,226.3 L165.0,226.3 L165.5,226.3 L166.0,226.3 L166.5,226.3 L167.0,226.3 L167.5,226.3 L168.0,226.3 L168.5,226.3 L169.0,226.3 L169.5,226.3 L170.0,226.3 L170.5,226.3 L171.0,226.3 L171.5,226.3 L172.0,226.3 L172.5,226.3 L173.0,226.3 L173.5,226.3 L174.0,226.3 L174.5,226.3 L175.0,226.3 L175.5,226.3 L176.0,226.3 L176.5,226.3 L177.0,226.3 L177.5,226.3 L178.0,226.3 L178.5,226.3 L179.0,226.3 L179.5,226.3 L180.0,226.3 L180.5,226.3 L181.0,226.3 L181.5,226.3 L182.0,226.3 L182.5,226.3 L183.0,226.3 L183.5,226.3 L184.0,226.3 L184.5,226.3 L185.0,226.3 L185.5,226.3 L186.0,226.3 L186.5,226.3 L187.0,226.3 L187.5,226.3 L188.0,226.3 L188.5,226.3 L189.0,226.3 L189.5,226.3 L190.0,226.3 L190.5,226.3 L191.0,226.3 L191.5,226.3 L192.0,226.3 L192.5,226.3 L193.0,226.3 L193.5,226.3 L194.0,226.3 L194.5,226.3 L195.0,226.3 L195.5,226.3 L196.0,226.3 L196.5,226.3 L197.0,226.3 L197.5,226.3 L198.0,226.3 L198.5,226.3 L199.0,226.3 L199.5,226.3 L200.0,226.3 L200.5,226.3 L201.0,226.3 L201.5,226.3 L202.0,226.3 L202.5,226.3 L203.0,226.3 L203.5,226.3 L204.0,226.3 L204.5,226.3 L205.0,226.3 L205.5,226.3 L206.0,226.3 L206.5,226.3 L207.0,226.3 L207.5,226.3 L208.0,226.3 L208.5,226.3 L209.0,226.3 L209.5,226.3 L210.0,226.4 L210.5,226.4 L211.0,226.4 L211.5,226.4 L212.0,226.4 L212.5,226.4 L213.0,226.4 L213.5,226.4 L214.0,226.4 L214.5,226.4 L215.0,226.4 L215.5,226.4 L216.0,226.4 L216.5,226.4 L217.0,226.4 L217.5,226.4 L218.0,226.4 L218.5,226.4 L219.0,226.4 L219.5,226.4 L220.0,226.4 L220.5,226.4 L221.0,226.4 L221.5,226.4 L222.0,226.4 L222.5,226.4 L223.0,226.4 L223.5,226.4 L224.0,226.4 L224.5,226.4 L225.0,226.4 L225.5,226.4 L226.0,226.4 L226.5,226.4 L227.0,226.4 L227.5,226.4 L228.0,226.4 L228.5,226.4 L229.0,226.4 L229.5,226.4 L230.0,226.4 L230.5,226.4 L231.0,226.4 L231.5,226.4 L232.0,226.4 L232.5,226.4 L233.0,226.4 L233.5,226.4 L234.0,226.4 L234.5,226.4 L235.0,226.4 L235.5,226.4 L236.0,226.4 L236.5,226.4 L237.0,226.4 L237.5,226.4 L238.0,226.4 L238.5,226.4 L239.0,226.5 L239.5,226.5 L240.0,226.5 L240.5,226.5 L241.0,226.5 L241.5,226.5 L242.0,226.5 L242.5,226.5 L243.0,226.5 L243.5,226.5 L244.0,226.5 L244.5,226.5 L245.0,226.5 L245.5,226.5 L246.0,226.5 L246.5,226.5 L247.0,226.5 L247.5,226.5 L248.0,226.5 L248.5,226.5 L249.0,226.5 L249.5,226.5 L250.0,226.5 L250.5,226.5 L251.0,226.5 L251.5,226.5 L252.0,226.5 L252.5,226.5 L253.0,226.5 L253.5,226.5 L254.0,226.5 L254.5,226.5 L255.0,226.5 L255.5,226.5 L256.0,226.5 L256.5,226.6 L257.0,226.6 L257.5,226.6 L258.0,226.6 L258.5,226.6 L259.0,226.6 L259.5,226.6 L260.0,226.6 L260.5,226.6 L261.0,226.6 L261.5,226.6 L262.0,226.6 L262.5,226.6 L263.0,226.6 L263.5,226.6 L264.0,226.6 L264.5,226.6 L265.0,226.6 L265.5,226.6 L266.0,226.6 L266.5,226.6 L267.0,226.6 L267.5,226.6 L268.0,226.6 L268.5,226.6 L269.0,226.6 L269.5,226.7 L270.0,226.7 L270.5,226.7 L271.0,226.7 L271.5,226.7 L272.0,226.7 L272.5,226.7 L273.0,226.7 L273.5,226.7 L274.0,226.7 L274.5,226.7 L275.0,226.7 L275.5,226.7 L276.0,226.7 L276.5,226.7 L277.0,226.7 L277.5,226.7 L278.0,226.7 L278.5,226.7 L279.0,226.7 L279.5,226.7 L280.0,226.7 L280.5,226.8 L281.0,226.8 L281.5,226.8 L282.0,226.8 L282.5,226.8 L283.0,226.8 L283.5,226.8 L284.0,226.8 L284.5,226.8 L285.0,226.8 L285.5,226.8 L286.0,226.8 L286.5,226.8 L287.0,226.8 L287.5,226.8 L288.0,226.8 L288.5,226.8 L289.0,226.8 L289.5,226.8 L290.0,226.9 L290.5,226.9 L291.0,226.9 L291.5,226.9 L292.0,226.9 L292.5,226.9 L293.0,226.9 L293.5,226.9 L294.0,226.9 L294.5,226.9 L295.0,226.9 L295.5,226.9 L296.0,226.9 L296.5,226.9 L297.0,226.9 L297.5,226.9 L298.0,227.0 L298.5,227.0 L299.0,227.0 L299.5,227.0 L300.0,227.0 L300.5,227.0 L301.0,227.0 L301.5,227.0 L302.0,227.0 L302.5,227.0 L303.0,227.0 L303.5,227.0 L304.0,227.0 L304.5,227.0 L305.0,227.0 L305.5,227.1 L306.0,227.1 L306.5,227.1 L307.0,227.1 L307.5,227.1 L308.0,227.1 L308.5,227.1 L309.0,227.1 L309.5,227.1 L310.0,227.1 L310.5,227.1 L311.0,227.1 L311.5,227.1 L312.0,227.1 L312.5,227.2 L313.0,227.2 L313.5,227.2 L314.0,227.2 L314.5,227.2 L315.0,227.2 L315.5,227.2 L316.0,227.2 L316.5,227.2 L317.0,227.2 L317.5,227.2 L318.0,227.2 L318.5,227.3 L319.0,227.3 L319.5,227.3 L320.0,227.3 L320.5,227.3 L321.0,227.3 L321.5,227.3 L322.0,227.3 L322.5,227.3 L323.0,227.3 L323.5,227.3 L324.0,227.3 L324.5,227.4 L325.0,227.4 L325.5,227.4 L326.0,227.4 L326.5,227.4 L327.0,227.4 L327.5,227.4 L328.0,227.4 L328.5,227.4 L329.0,227.4 L329.5,227.4 L330.0,227.5 L330.5,227.5 L331.0,227.5 L331.5,227.5 L332.0,227.5 L332.5,227.5" fill="none" stroke="#D95319" stroke-width="2.0" stroke-linejoin="round" stroke-linecap="butt" />
<path d="M32.5,225.2 L33.0,225.2 L33.5,225.2 L34.0,225.2 L34.5,225.2 L35.0,225.2 L35.5,225.2 L36.0,225.2 L36.5,225.2 L37.0,225.2 L37.5,225.2 L38.0,225.2 L38.5,225.2 L39.0,225.2 L39.5,225.2 L40.0,225.2 L40.5,225.2 L41.0,225.2 L41.5,225.2 L42.0,225.2 L42.5,225.2 L43.0,225.2 L43.5,225.2 L44.0,225.2 L44.5,225.2 L45.0,225.2 L45.5,225.2 L46.0,225.2 L46.5,225.2 L47.0,225.2 L47.5,225.2 L48.0,225.2 L48.5,225.2 L49.0,225.2 L49.5,225.2 L50.0,225.2 L50.5,225.2 L51.0,225.2 L51.5,225.2 L52.0,225.2 L52.5,225.2 L53.0,225.2 L53.5,225.2 L54.0,225.2 L54.5,225.3 L55.0,225.3 L55.5,225.3 L56.0,225.3 L56.5,225.3 L57.0,225.3 L57.5,225.3 L58.0,225.3 L58.5,225.3 L59.0,225.3 L59.5,225.3 L60.0,225.3 L60.5,225.3 L61.0,225.3 L61.5,225.3 L62.0,225.3 L62.5,225.3 L63.0,225.3 L63.5,225.3 L64.0,225.3 L64.5,225.3 L65.0,225.3 L65.5,225.3 L66.0,225.3 L66.5,225.3 L67.0,225.3 L67.5,225.3 L68.0,225.3 L68.5,225.3 L69.0,225.3 L69.5,225.4 L70.0,225.4 L70.5,225.4 L71.0,225.4 L71.5,225.4 L72.0,225.4 L72.5,225.4 L73.0,225.4 L73.5,225.4 L74.0,225.4 L74.5,225.4 L75.0,225.4 L75.5,225.4 L76.0,225.4 L76.5,225.4 L77.0,225.4 L77.5,225.4 L78.0,225.4 L78.5,225.4 L79.0,225.5 L79.5,225.5 L80.0,225.5 L80.5,225.5 L81.0,225.5 L81.5,225.5 L82.0,225.5 L82.5,225.5 L83.0,225.5 L83.5,225.5 L84.0,225.5 L84.5,225.5 L85.0,225.5 L85.5,225.5 L86.0,225.5 L86.5,225.6 L87.0,225.6 L87.5,225.6 L88.0,225.6 L88.5,225.6 L89.0,225.6 L89.5,225.6 L90.0,225.6 L90.5,225.6 L91.0,225.6 L91.5,225.6 L92.0,225.6 L92.5,225.6 L93.0,225.7 L93.5,225.7 L94.0,225.7 L94.5,225.7 L95.0,225.7 L95.5,225.7 L96.0,225.7 L96.5,225.7 L97.0,225.7 L97.5,225.7 L98.0,225.7 L98.5,225.8 L99.0,225.8 L99.5,225.8 L100.0,225.8 L100.5,225.8 L101.0,225.8 L101.5,225.8 L102.0,225.8 L102.5,225.8 L103.0,225.8 L103.5,225.9 L104.0,225.9 L104.5,225.9 L105.0,225.9 L105.5,225.9 L106.0,225.9 L106.5,225.9 L107.0,225.9 L107.5,225.9 L108.0,226.0 L108.5,226.0 L109.0,226.0 L109.5,226.0 L110.0,226.0 L110.5,226.1 L111.0,226.1 L111.5,226.1 L112.0,226.1 L112.5,226.2 L113.0,226.2 L113.5,226.3 L114.0,226.3 L114.5,226.4 L115.0,226.4 L115.5,226.5 L116.0,226.5 L116.5,226.6 L117.0,226.7 L117.5,226.7 L118.0,226.8 L118.5,226.9 L119.0,227.0 L119.5,227.1 L120.0,227.2 L120.5,227.3 L121.0,227.4 L121.5,227.5 L122.0,227.6 L122.5,227.8 L123.0,227.9 L123.5,228.1 L124.0,228.2 L124.5,228.4 L125.0,228.6 L125.5,228.8 L126.0,229.0 L126.5,229.2 L127.0,229.5 L127.5,229.7 L128.0,230.0 L128.5,230.3 L129.0,230.6 L129.5,230.9 L130.0,231.2 L130.5,231.6 L131.0,232.0 L131.5,232.4 L132.0,232.8 L132.5,233.3 L133.0,233.9 L133.5,234.5 L134.0,235.2 L134.5,236.0 L135.0,236.9 L135.5,237.8 L136.0,238.9 L136.5,240.1 L137.0,241.4 L137.5,242.8 L138.0,244.3 L138.5,246.0 L139.0,247.8 L139.5,249.7 L140.0,251.8 L140.5,253.9 L141.0,256.2 L141.5,258.5 L142.0,260.9 L142.5,263.4 L143.0,266.0 L143.5,268.7 L144.0,271.5 L144.5,274.4 L145.0,277.5 L145.5,280.7 L146.0,284.0 L146.5,287.3 L147.0,290.7 L147.5,294.0 L148.0,297.3 L148.5,301.1 L149.0,306.3 L149.5,313.7 L150.0,322.3 L150.5,332.6 L151.0,344.5 L151.2,349.6 L151.7,337.0 L152.2,325.9 L152.7,317.5 L153.2,310.0 L153.7,304.1 L154.2,300.0 L154.7,296.6 L155.2,293.4 L155.7,290.1 L156.2,286.8 L156.7,283.4 L157.2,280.2 L157.7,276.9 L158.2,273.9 L158.7,271.0 L159.2,268.2 L159.7,265.5 L160.2,262.9 L160.7,260.3 L161.2,257.9 L161.7,255.5 L162.2,253.2 L162.7,251.0 L163.2,248.9 L163.7,246.9 L164.2,245.1 L164.7,243.4 L165.2,241.8 L165.7,240.4 L166.2,239.1 L166.7,237.9 L167.2,236.8 L167.7,235.8 L168.2,235.0 L168.7,234.2 L169.2,233.5 L169.7,232.9 L170.2,232.4 L170.7,231.9 L171.2,231.5 L171.7,231.1 L172.2,230.8 L172.7,230.5 L173.2,230.2 L173.7,229.9 L174.2,229.7 L174.7,229.5 L175.2,229.3 L175.7,229.1 L176.2,229.0 L176.7,228.8 L177.2,228.7 L177.7,228.6 L178.2,228.4 L178.7,228.3 L179.2,228.2 L179.7,228.1 L180.2,228.0 L180.7,227.9 L181.2,227.9 L181.7,227.8 L182.2,227.7 L182.7,227.6 L183.2,227.6 L183.7,227.5 L184.2,227.4 L184.7,227.4 L185.2,227.3 L185.7,227.3 L186.2,227.2 L186.7,227.1 L187.2,227.1 L187.7,227.0 L188.2,227.0 L188.7,226.9 L189.2,226.9 L189.7,226.8 L190.2,226.8 L190.7,226.8 L191.2,226.7 L191.7,226.7 L192.2,226.6 L192.7,226.6 L193.2,226.6 L193.7,226.5 L194.2,226.5 L194.7,226.5 L195.2,226.5 L195.7,226.4 L196.2,226.4 L196.7,226.4 L197.2,226.4 L197.7,226.4 L198.2,226.4 L198.7,226.3 L199.2,226.3 L199.7,226.3 L200.2,226.3 L200.7,226.3 L201.2,226.3 L201.7,226.3 L202.2,226.3 L202.7,226.3 L203.2,226.3 L203.7,226.3 L204.2,226.3 L204.7,226.3 L205.2,226.3 L205.7,226.2 L206.2,226.2 L206.7,226.2 L207.2,226.2 L207.7,226.2 L208.2,226.2 L208.7,226.2 L209.2,226.2 L209.7,226.2 L210.2,226.2 L210.7,226.2 L211.2,226.2 L211.7,226.2 L212.2,226.2 L212.7,226.2 L213.2,226.2 L213.7,226.2 L214.2,226.2 L214.7,226.2 L215.2,226.2 L215.7,226.2 L216.2,226.2 L216.7,226.2 L217.2,226.2 L217.7,226.2 L218.2,226.1 L218.7,226.1 L219.2,226.1 L219.7,226.1 L220.2,226.1 L220.7,226.1 L221.2,226.1 L221.7,226.1 L222.2,226.1 L222.7,226.1 L223.2,226.1 L223.7,226.1 L224.2,226.1 L224.7,226.1 L225.2,226.1 L225.7,226.1 L226.2,226.1 L226.7,226.1 L227.2,226.1 L227.7,226.1 L228.2,226.1 L228.7,226.1 L229.2,226.1 L229.7,226.1 L230.2,226.1 L230.7,226.1 L231.2,226.1 L231.7,226.1 L232.2,226.1 L232.7,226.1 L233.2,226.0 L233.7,226.0 L234.2,226.0 L234.7,226.0 L235.2,226.0 L235.7,226.0 L236.2,226.0 L236.7,226.0 L237.2,226.0 L237.7,226.0 L238.2,226.0 L238.7,226.0 L239.2,226.0 L239.7,226.0 L240.2,226.0 L240.7,226.0 L241.2,226.0 L241.7,226.0 L242.2,226.0 L242.7,226.0 L243.2,226.0 L243.7,226.0 L244.2,226.0 L244.7,226.0 L245.2,226.0 L245.7,226.0 L246.2,226.0 L246.7,226.0 L247.2,226.0 L247.7,226.0 L248.2,226.0 L248.7,226.0 L249.2,226.0 L249.7,226.0 L250.2,226.0 L250.7,226.0 L251.2,226.0 L251.7,226.0 L252.2,225.9 L252.7,225.9 L253.2,225.9 L253.7,225.9 L254.2,225.9 L254.7,225.9 L255.2,225.9 L255.7,225.9 L256.2,225.9 L256.7,225.9 L257.2,225.9 L257.7,225.9 L258.2,225.9 L258.7,225.9 L259.2,225.9 L259.7,225.9 L260.2,225.9 L260.7,225.9 L261.2,225.9 L261.7,225.9 L262.2,225.9 L262.7,225.9 L263.2,225.9 L263.7,225.9 L264.2,225.9 L264.7,225.9 L265.2,225.9 L265.7,225.9 L266.2,225.9 L266.7,225.9 L267.2,225.9 L267.7,225.9 L268.2,225.9 L268.7,225.9 L269.2,225.9 L269.7,225.9 L270.2,225.9 L270.7,225.9 L271.2,225.9 L271.7,225.9 L272.2,225.9 L272.7,225.9 L273.2,225.9 L273.7,225.9 L274.2,225.9 L274.7,225.9 L275.2,225.9 L275.7,225.9 L276.2,225.9 L276.7,225.9 L277.2,225.9 L277.7,225.9 L278.2,225.9 L278.7,225.9 L279.2,225.9 L279.7,225.9 L280.2,225.9 L280.7,225.9 L281.2,225.9 L281.7,225.9 L282.2,225.9 L282.7,225.9 L283.2,225.8 L283.7,225.8 L284.2,225.8 L284.7,225.8 L285.2,225.8 L285.7,225.8 L286.2,225.8 L286.7,225.8 L287.2,225.8 L287.7,225.8 L288.2,225.8 L288.7,225.8 L289.2,225.8 L289.7,225.8 L290.2,225.8 L290.7,225.8 L291.2,225.8 L291.7,225.8 L292.2,225.8 L292.7,225.8 L293.2,225.8 L293.7,225.8 L294.2,225.8 L294.7,225.8 L295.2,225.8 L295.7,225.8 L296.2,225.8 L296.7,225.8 L297.2,225.8 L297.7,225.8 L298.2,225.8 L298.7,225.8 L299.2,225.8 L299.7,225.8 L300.2,225.8 L300.7,225.8 L301.2,225.8 L301.7,225.8 L302.2,225.8 L302.7,225.8 L303.2,225.8 L303.7,225.8 L304.2,225.8 L304.7,225.8 L305.2,225.8 L305.7,225.8 L306.2,225.8 L306.7,225.8 L307.2,225.8 L307.7,225.8 L308.2,225.8 L308.7,225.8 L309.2,225.8 L309.7,225.8 L310.2,225.8 L310.7,225.8 L311.2,225.8 L311.7,225.8 L312.2,225.8 L312.7,225.8 L313.2,225.8 L313.7,225.8 L314.2,225.8 L314.7,225.8 L315.2,225.8 L315.7,225.8 L316.2,225.8 L316.7,225.8 L317.2,225.8 L317.7,225.8 L318.2,225.8 L318.7,225.8 L319.2,225.8 L319.7,225.8 L320.2,225.8 L320.7,225.8 L321.2,225.8 L321.7,225.8 L322.2,225.8 L322.7,225.8 L323.2,225.8 L323.7,225.8 L324.2,225.8 L324.7,225.8 L325.2,225.8 L325.7,225.8 L326.2,225.8 L326.7,225.8 L327.2,225.8 L327.7,225.8 L328.2,225.8 L328.7,225.8 L329.2,225.8 L329.7,225.8 L330.2,225.8 L330.7,225.8 L331.2,225.8 L331.7,225.8 L332.2,225.8 L332.5,225.8" fill="none" stroke="#EDB120" stroke-width="1.5" stroke-linejoin="round" stroke-linecap="butt" stroke-dasharray="1.5 1.3" />
<path d="M32.5,225.3 L33.0,225.3 L33.5,225.3 L34.0,225.3 L34.5,225.3 L35.0,225.3 L35.5,225.3 L36.0,225.3 L36.5,225.3 L37.0,225.3 L37.5,225.3 L38.0,225.3 L38.5,225.3 L39.0,225.3 L39.5,225.3 L40.0,225.3 L40.5,225.3 L41.0,225.3 L41.5,225.3 L42.0,225.3 L42.5,225.3 L43.0,225.3 L43.5,225.3 L44.0,225.3 L44.5,225.3 L45.0,225.3 L45.5,225.3 L46.0,225.3 L46.5,225.3 L47.0,225.3 L47.5,225.3 L48.0,225.3 L48.5,225.3 L49.0,225.3 L49.5,225.3 L50.0,225.3 L50.5,225.3 L51.0,225.3 L51.5,225.3 L52.0,225.3 L52.5,225.3 L53.0,225.4 L53.5,225.4 L54.0,225.4 L54.5,225.4 L55.0,225.4 L55.5,225.4 L56.0,225.4 L56.5,225.4 L57.0,225.4 L57.5,225.4 L58.0,225.4 L58.5,225.4 L59.0,225.4 L59.5,225.4 L60.0,225.4 L60.5,225.4 L61.0,225.4 L61.5,225.4 L62.0,225.4 L62.5,225.4 L63.0,225.4 L63.5,225.4 L64.0,225.4 L64.5,225.4 L65.0,225.4 L65.5,225.4 L66.0,225.4 L66.5,225.5 L67.0,225.5 L67.5,225.5 L68.0,225.5 L68.5,225.5 L69.0,225.5 L69.5,225.5 L70.0,225.5 L70.5,225.5 L71.0,225.5 L71.5,225.5 L72.0,225.5 L72.5,225.5 L73.0,225.5 L73.5,225.5 L74.0,225.5 L74.5,225.5 L75.0,225.5 L75.5,225.6 L76.0,225.6 L76.5,225.6 L77.0,225.6 L77.5,225.6 L78.0,225.6 L78.5,225.6 L79.0,225.6 L79.5,225.6 L80.0,225.6 L80.5,225.6 L81.0,225.6 L81.5,225.6 L82.0,225.6 L82.5,225.7 L83.0,225.7 L83.5,225.7 L84.0,225.7 L84.5,225.7 L85.0,225.7 L85.5,225.7 L86.0,225.7 L86.5,225.7 L87.0,225.7 L87.5,225.7 L88.0,225.7 L88.5,225.8 L89.0,225.8 L89.5,225.8 L90.0,225.8 L90.5,225.8 L91.0,225.8 L91.5,225.8 L92.0,225.8 L92.5,225.8 L93.0,225.8 L93.5,225.9 L94.0,225.9 L94.5,225.9 L95.0,225.9 L95.5,225.9 L96.0,225.9 L96.5,225.9 L97.0,225.9 L97.5,225.9 L98.0,226.0 L98.5,226.0 L99.0,226.0 L99.5,226.0 L100.0,226.0 L100.5,226.1 L101.0,226.1 L101.5,226.1 L102.0,226.1 L102.5,226.2 L103.0,226.2 L103.5,226.3 L104.0,226.3 L104.5,226.4 L105.0,226.4 L105.5,226.5 L106.0,226.5 L106.5,226.6 L107.0,226.7 L107.5,226.8 L108.0,226.8 L108.5,226.9 L109.0,227.0 L109.5,227.1 L110.0,227.2 L110.5,227.3 L111.0,227.4 L111.5,227.5 L112.0,227.6 L112.5,227.7 L113.0,227.8 L113.5,227.9 L114.0,228.0 L114.5,228.2 L115.0,228.3 L115.5,228.5 L116.0,228.6 L116.5,228.8 L117.0,228.9 L117.5,229.1 L118.0,229.3 L118.5,229.5 L119.0,229.7 L119.5,229.9 L120.0,230.2 L120.5,230.4 L121.0,230.7 L121.5,230.9 L122.0,231.2 L122.5,231.5 L123.0,231.8 L123.5,232.2 L124.0,232.5 L124.5,232.9 L125.0,233.3 L125.5,233.7 L126.0,234.1 L126.5,234.6 L127.0,235.0 L127.5,235.5 L128.0,236.0 L128.5,236.6 L129.0,237.1 L129.5,237.7 L130.0,238.3 L130.5,238.9 L131.0,239.5 L131.5,240.2 L132.0,240.9 L132.5,241.6 L133.0,242.3 L133.5,243.1 L134.0,243.9 L134.5,244.8 L135.0,245.6 L135.5,246.6 L136.0,247.5 L136.5,248.5 L137.0,249.5 L137.5,250.6 L138.0,251.7 L138.5,252.8 L139.0,254.0 L139.5,255.2 L140.0,256.4 L140.5,257.7 L141.0,259.0 L141.5,260.3 L142.0,261.7 L142.5,263.0 L143.0,264.4 L143.5,265.7 L144.0,267.1 L144.5,268.4 L145.0,269.7 L145.5,271.1 L146.0,272.4 L146.5,273.7 L147.0,275.0 L147.5,276.2 L148.0,277.5 L148.5,278.7 L149.0,279.8 L149.5,280.8 L150.0,281.8 L150.5,282.7 L151.0,283.5 L151.5,284.2 L152.0,283.0 L152.5,281.6 L153.0,280.1 L153.5,278.4 L154.0,276.7 L154.5,274.9 L155.0,272.9 L155.5,270.9 L156.0,269.0 L156.5,267.0 L157.0,265.2 L157.5,263.3 L158.0,261.5 L158.5,259.7 L159.0,257.9 L159.5,256.2 L160.0,254.5 L160.5,252.9 L161.0,251.3 L161.5,249.8 L162.0,248.4 L162.5,247.1 L163.0,245.8 L163.5,244.6 L164.0,243.5 L164.5,242.4 L165.0,241.4 L165.5,240.5 L166.0,239.6 L166.5,238.8 L167.0,238.0 L167.5,237.3 L168.0,236.7 L168.5,236.0 L169.0,235.5 L169.5,234.9 L170.0,234.4 L170.5,233.9 L171.0,233.5 L171.5,233.0 L172.0,232.6 L172.5,232.3 L173.0,231.9 L173.5,231.6 L174.0,231.3 L174.5,231.0 L175.0,230.8 L175.5,230.5 L176.0,230.3 L176.5,230.1 L177.0,229.9 L177.5,229.8 L178.0,229.6 L178.5,229.5 L179.0,229.3 L179.5,229.2 L180.0,229.1 L180.5,228.9 L181.0,228.8 L181.5,228.7 L182.0,228.6 L182.5,228.5 L183.0,228.4 L183.5,228.3 L184.0,228.2 L184.5,228.1 L185.0,228.0 L185.5,227.9 L186.0,227.8 L186.5,227.7 L187.0,227.7 L187.5,227.6 L188.0,227.5 L188.5,227.4 L189.0,227.4 L189.5,227.3 L190.0,227.2 L190.5,227.2 L191.0,227.1 L191.5,227.1 L192.0,227.0 L192.5,227.0 L193.0,226.9 L193.5,226.9 L194.0,226.8 L194.5,226.8 L195.0,226.8 L195.5,226.8 L196.0,226.7 L196.5,226.7 L197.0,226.7 L197.5,226.7 L198.0,226.7 L198.5,226.6 L199.0,226.6 L199.5,226.6 L200.0,226.6 L200.5,226.6 L201.0,226.6 L201.5,226.6 L202.0,226.5 L202.5,226.5 L203.0,226.5 L203.5,226.5 L204.0,226.5 L204.5,226.5 L205.0,226.5 L205.5,226.5 L206.0,226.5 L206.5,226.4 L207.0,226.4 L207.5,226.4 L208.0,226.4 L208.5,226.4 L209.0,226.4 L209.5,226.4 L210.0,226.4 L210.5,226.4 L211.0,226.4 L211.5,226.4 L212.0,226.4 L212.5,226.3 L213.0,226.3 L213.5,226.3 L214.0,226.3 L214.5,226.3 L215.0,226.3 L215.5,226.3 L216.0,226.3 L216.5,226.3 L217.0,226.3 L217.5,226.3 L218.0,226.3 L218.5,226.3 L219.0,226.3 L219.5,226.3 L220.0,226.3 L220.5,226.3 L221.0,226.3 L221.5,226.3 L222.0,226.3 L222.5,226.3 L223.0,226.3 L223.5,226.3 L224.0,226.3 L224.5,226.3 L225.0,226.3 L225.5,226.3 L226.0,226.3 L226.5,226.3 L227.0,226.3 L227.5,226.3 L228.0,226.3 L228.5,226.3 L229.0,226.3 L229.5,226.3 L230.0,226.3 L230.5,226.3 L231.0,226.3 L231.5,226.3 L232.0,226.3 L232.5,226.3 L233.0,226.3 L233.5,226.3 L234.0,226.3 L234.5,226.3 L235.0,226.3 L235.5,226.3 L236.0,226.3 L236.5,226.3 L237.0,226.3 L237.5,226.3 L238.0,226.3 L238.5,226.3 L239.0,226.3 L239.5,226.3 L240.0,226.3 L240.5,226.3 L241.0,226.3 L241.5,226.3 L242.0,226.3 L242.5,226.3 L243.0,226.3 L243.5,226.3 L244.0,226.3 L244.5,226.3 L245.0,226.3 L245.5,226.3 L246.0,226.3 L246.5,226.3 L247.0,226.3 L247.5,226.3 L248.0,226.3 L248.5,226.3 L249.0,226.3 L249.5,226.3 L250.0,226.4 L250.5,226.4 L251.0,226.4 L251.5,226.4 L252.0,226.4 L252.5,226.4 L253.0,226.4 L253.5,226.4 L254.0,226.4 L254.5,226.4 L255.0,226.4 L255.5,226.4 L256.0,226.4 L256.5,226.4 L257.0,226.4 L257.5,226.4 L258.0,226.4 L258.5,226.4 L259.0,226.4 L259.5,226.4 L260.0,226.4 L260.5,226.4 L261.0,226.4 L261.5,226.4 L262.0,226.4 L262.5,226.4 L263.0,226.4 L263.5,226.4 L264.0,226.4 L264.5,226.4 L265.0,226.4 L265.5,226.4 L266.0,226.5 L266.5,226.5 L267.0,226.5 L267.5,226.5 L268.0,226.5 L268.5,226.5 L269.0,226.5 L269.5,226.5 L270.0,226.5 L270.5,226.5 L271.0,226.5 L271.5,226.5 L272.0,226.5 L272.5,226.5 L273.0,226.5 L273.5,226.5 L274.0,226.5 L274.5,226.5 L275.0,226.5 L275.5,226.5 L276.0,226.6 L276.5,226.6 L277.0,226.6 L277.5,226.6 L278.0,226.6 L278.5,226.6 L279.0,226.6 L279.5,226.6 L280.0,226.6 L280.5,226.6 L281.0,226.6 L281.5,226.6 L282.0,226.6 L282.5,226.6 L283.0,226.6 L283.5,226.7 L284.0,226.7 L284.5,226.7 L285.0,226.7 L285.5,226.7 L286.0,226.7 L286.5,226.7 L287.0,226.7 L287.5,226.7 L288.0,226.7 L288.5,226.7 L289.0,226.7 L289.5,226.8 L290.0,226.8 L290.5,226.8 L291.0,226.8 L291.5,226.8 L292.0,226.8 L292.5,226.8 L293.0,226.8 L293.5,226.8 L294.0,226.8 L294.5,226.8 L295.0,226.9 L295.5,226.9 L296.0,226.9 L296.5,226.9 L297.0,226.9 L297.5,226.9 L298.0,226.9 L298.5,226.9 L299.0,226.9 L299.5,227.0 L300.0,227.0 L300.5,227.0 L301.0,227.0 L301.5,227.0 L302.0,227.0 L302.5,227.0 L303.0,227.0 L303.5,227.0 L304.0,227.1 L304.5,227.1 L305.0,227.1 L305.5,227.1 L306.0,227.1 L306.5,227.1 L307.0,227.1 L307.5,227.1 L308.0,227.2 L308.5,227.2 L309.0,227.2 L309.5,227.2 L310.0,227.2 L310.5,227.2 L311.0,227.2 L311.5,227.3 L312.0,227.3 L312.5,227.3 L313.0,227.3 L313.5,227.3 L314.0,227.3 L314.5,227.3 L315.0,227.4 L315.5,227.4 L316.0,227.4 L316.5,227.4 L317.0,227.4 L317.5,227.4 L318.0,227.5 L318.5,227.5 L319.0,227.5 L319.5,227.5 L320.0,227.5 L320.5,227.5 L321.0,227.6 L321.5,227.6 L322.0,227.6 L322.5,227.6 L323.0,227.6 L323.5,227.6 L324.0,227.7 L324.5,227.7 L325.0,227.7 L325.5,227.7 L326.0,227.7 L326.5,227.8 L327.0,227.8 L327.5,227.8 L328.0,227.8 L328.5,227.8 L329.0,227.9 L329.5,227.9 L330.0,227.9 L330.5,227.9 L331.0,227.9 L331.5,227.9 L332.0,227.9 L332.5,228.0" fill="none" stroke="#EDB120" stroke-width="2.0" stroke-linejoin="round" stroke-linecap="butt" />
<path d="M32.5,225.2 L33.0,225.2 L33.5,225.2 L34.0,225.2 L34.5,225.2 L35.0,225.2 L35.5,225.2 L36.0,225.2 L36.5,225.2 L37.0,225.2 L37.5,225.2 L38.0,225.2 L38.5,225.2 L39.0,225.2 L39.5,225.2 L40.0,225.2 L40.5,225.2 L41.0,225.2 L41.5,225.2 L42.0,225.2 L42.5,225.2 L43.0,225.2 L43.5,225.2 L44.0,225.2 L44.5,225.2 L45.0,225.2 L45.5,225.2 L46.0,225.2 L46.5,225.2 L47.0,225.2 L47.5,225.2 L48.0,225.2 L48.5,225.2 L49.0,225.2 L49.5,225.2 L50.0,225.2 L50.5,225.2 L51.0,225.2 L51.5,225.2 L52.0,225.2 L52.5,225.2 L53.0,225.2 L53.5,225.2 L54.0,225.3 L54.5,225.3 L55.0,225.3 L55.5,225.3 L56.0,225.3 L56.5,225.3 L57.0,225.3 L57.5,225.3 L58.0,225.3 L58.5,225.3 L59.0,225.3 L59.5,225.3 L60.0,225.3 L60.5,225.3 L61.0,225.3 L61.5,225.3 L62.0,225.3 L62.5,225.3 L63.0,225.3 L63.5,225.3 L64.0,225.3 L64.5,225.3 L65.0,225.3 L65.5,225.3 L66.0,225.3 L66.5,225.3 L67.0,225.3 L67.5,225.3 L68.0,225.3 L68.5,225.4 L69.0,225.4 L69.5,225.4 L70.0,225.4 L70.5,225.4 L71.0,225.4 L71.5,225.4 L72.0,225.4 L72.5,225.4 L73.0,225.4 L73.5,225.4 L74.0,225.4 L74.5,225.4 L75.0,225.4 L75.5,225.4 L76.0,225.4 L76.5,225.4 L77.0,225.4 L77.5,225.4 L78.0,225.4 L78.5,225.5 L79.0,225.5 L79.5,225.5 L80.0,225.5 L80.5,225.5 L81.0,225.5 L81.5,225.5 L82.0,225.5 L82.5,225.5 L83.0,225.5 L83.5,225.5 L84.0,225.5 L84.5,225.5 L85.0,225.5 L85.5,225.5 L86.0,225.5 L86.5,225.6 L87.0,225.6 L87.5,225.6 L88.0,225.6 L88.5,225.6 L89.0,225.6 L89.5,225.6 L90.0,225.6 L90.5,225.6 L91.0,225.6 L91.5,225.6 L92.0,225.6 L92.5,225.6 L93.0,225.7 L93.5,225.7 L94.0,225.7 L94.5,225.7 L95.0,225.7 L95.5,225.7 L96.0,225.7 L96.5,225.7 L97.0,225.7 L97.5,225.7 L98.0,225.7 L98.5,225.7 L99.0,225.8 L99.5,225.8 L100.0,225.8 L100.5,225.8 L101.0,225.8 L101.5,225.8 L102.0,225.8 L102.5,225.8 L103.0,225.8 L103.5,225.8 L104.0,225.9 L104.5,225.9 L105.0,225.9 L105.5,225.9 L106.0,225.9 L106.5,225.9 L107.0,225.9 L107.5,225.9 L108.0,225.9 L108.5,225.9 L109.0,226.0 L109.5,226.0 L110.0,226.0 L110.5,226.0 L111.0,226.0 L111.5,226.0 L112.0,226.0 L112.5,226.0 L113.0,226.0 L113.5,226.1 L114.0,226.1 L114.5,226.1 L115.0,226.1 L115.5,226.1 L116.0,226.1 L116.5,226.1 L117.0,226.1 L117.5,226.2 L118.0,226.2 L118.5,226.2 L119.0,226.2 L119.5,226.2 L120.0,226.2 L120.5,226.2 L121.0,226.2 L121.5,226.3 L122.0,226.3 L122.5,226.3 L123.0,226.3 L123.5,226.3 L124.0,226.3 L124.5,226.3 L125.0,226.4 L125.5,226.4 L126.0,226.4 L126.5,226.4 L127.0,226.4 L127.5,226.4 L128.0,226.4 L128.5,226.5 L129.0,226.5 L129.5,226.5 L130.0,226.5 L130.5,226.6 L131.0,226.6 L131.5,226.6 L132.0,226.6 L132.5,226.7 L133.0,226.7 L133.5,226.8 L134.0,226.8 L134.5,226.9 L135.0,226.9 L135.5,227.0 L136.0,227.0 L136.5,227.1 L137.0,227.2 L137.5,227.2 L138.0,227.3 L138.5,227.4 L139.0,227.4 L139.5,227.5 L140.0,227.6 L140.5,227.7 L141.0,227.8 L141.5,227.9 L142.0,227.9 L142.5,228.0 L143.0,228.1 L143.5,228.2 L144.0,228.3 L144.5,228.4 L145.0,228.5 L145.5,228.6 L146.0,228.7 L146.5,228.8 L147.0,228.9 L147.5,229.0 L148.0,229.1 L148.5,229.2 L149.0,229.3 L149.5,229.4 L150.0,229.5 L150.5,229.6 L151.0,229.7 L151.5,229.8 L152.0,229.9 L152.5,230.0 L153.0,230.1 L153.5,230.2 L154.0,230.3 L154.5,230.5 L155.0,230.6 L155.5,230.7 L156.0,230.8 L156.5,230.9 L157.0,231.0 L157.5,231.2 L158.0,231.3 L158.5,231.4 L159.0,231.6 L159.5,231.7 L160.0,231.8 L160.5,232.0 L161.0,232.1 L161.5,232.3 L162.0,232.4 L162.5,232.6 L163.0,232.8 L163.5,232.9 L164.0,233.1 L164.5,233.3 L165.0,233.5 L165.5,233.6 L166.0,233.8 L166.5,234.0 L167.0,234.2 L167.5,234.5 L168.0,234.7 L168.5,234.9 L169.0,235.1 L169.5,235.4 L170.0,235.7 L170.5,235.9 L171.0,236.2 L171.5,236.5 L172.0,236.8 L172.5,237.2 L173.0,237.5 L173.5,237.9 L174.0,238.3 L174.5,238.7 L175.0,239.1 L175.5,239.5 L176.0,240.0 L176.5,240.5 L177.0,241.0 L177.5,241.6 L178.0,242.2 L178.5,242.8 L179.0,243.4 L179.5,244.1 L180.0,244.8 L180.5,245.6 L181.0,246.4 L181.5,247.3 L182.0,248.3 L182.5,249.3 L183.0,250.4 L183.5,251.6 L184.0,252.8 L184.5,254.1 L185.0,255.4 L185.5,256.7 L186.0,258.1 L186.5,259.5 L187.0,260.8 L187.5,262.2 L188.0,263.5 L188.5,264.8 L189.0,266.0 L189.5,267.3 L190.0,268.5 L190.5,269.7 L191.0,270.9 L191.5,272.2 L192.0,273.5 L192.5,275.0 L193.0,276.5 L193.5,278.2 L194.0,280.0 L194.5,282.1 L195.0,284.3 L195.5,286.6 L196.0,289.0 L196.5,291.8 L197.0,294.8 L197.5,298.1 L198.0,301.8 L198.5,305.8 L199.0,310.3 L199.5,315.1 L200.0,320.0 L200.5,325.0 L201.0,330.0 L201.2,332.5 L201.8,327.2 L202.2,322.2 L202.8,317.7 L203.2,313.5 L203.8,309.5 L204.2,305.5 L204.8,301.5 L205.2,297.6 L205.8,294.0 L206.2,290.5 L206.8,287.3 L207.2,284.3 L207.8,281.3 L208.2,278.3 L208.8,275.6 L209.2,273.0 L209.8,270.6 L210.2,268.3 L210.8,266.1 L211.2,264.0 L211.8,262.1 L212.2,260.2 L212.8,258.4 L213.2,256.7 L213.8,255.1 L214.2,253.6 L214.8,252.2 L215.2,250.8 L215.8,249.5 L216.2,248.3 L216.8,247.1 L217.2,246.0 L217.8,245.0 L218.2,244.0 L218.8,243.1 L219.2,242.3 L219.8,241.4 L220.2,240.7 L220.8,240.0 L221.2,239.3 L221.8,238.6 L222.2,238.0 L222.8,237.5 L223.2,237.0 L223.8,236.5 L224.2,236.0 L224.8,235.6 L225.2,235.2 L225.8,234.9 L226.2,234.5 L226.8,234.2 L227.2,233.9 L227.8,233.6 L228.2,233.4 L228.8,233.1 L229.2,232.9 L229.8,232.6 L230.2,232.4 L230.8,232.2 L231.2,231.9 L231.8,231.7 L232.2,231.5 L232.8,231.2 L233.2,231.0 L233.8,230.8 L234.2,230.6 L234.8,230.3 L235.2,230.1 L235.8,229.9 L236.2,229.7 L236.8,229.5 L237.2,229.3 L237.8,229.1 L238.2,228.9 L238.8,228.7 L239.2,228.5 L239.8,228.3 L240.2,228.2 L240.8,228.0 L241.2,227.9 L241.8,227.7 L242.2,227.6 L242.8,227.5 L243.2,227.4 L243.8,227.3 L244.2,227.2 L244.8,227.1 L245.2,227.1 L245.8,227.0 L246.2,226.9 L246.8,226.9 L247.2,226.8 L247.8,226.8 L248.2,226.7 L248.8,226.7 L249.2,226.7 L249.8,226.6 L250.2,226.6 L250.8,226.6 L251.2,226.5 L251.8,226.5 L252.2,226.4 L252.8,226.4 L253.2,226.4 L253.8,226.4 L254.2,226.3 L254.8,226.3 L255.2,226.3 L255.8,226.2 L256.2,226.2 L256.8,226.2 L257.2,226.2 L257.8,226.1 L258.2,226.1 L258.8,226.1 L259.2,226.1 L259.8,226.1 L260.2,226.0 L260.8,226.0 L261.2,226.0 L261.8,226.0 L262.2,226.0 L262.8,226.0 L263.2,225.9 L263.8,225.9 L264.2,225.9 L264.8,225.9 L265.2,225.9 L265.8,225.9 L266.2,225.9 L266.8,225.9 L267.2,225.8 L267.8,225.8 L268.2,225.8 L268.8,225.8 L269.2,225.8 L269.8,225.8 L270.2,225.8 L270.8,225.8 L271.2,225.8 L271.8,225.8 L272.2,225.8 L272.8,225.8 L273.2,225.8 L273.8,225.8 L274.2,225.8 L274.8,225.8 L275.2,225.8 L275.8,225.7 L276.2,225.7 L276.8,225.7 L277.2,225.7 L277.8,225.7 L278.2,225.7 L278.8,225.7 L279.2,225.7 L279.8,225.7 L280.2,225.7 L280.8,225.7 L281.2,225.7 L281.8,225.7 L282.2,225.7 L282.8,225.7 L283.2,225.7 L283.8,225.7 L284.2,225.7 L284.8,225.7 L285.2,225.7 L285.8,225.7 L286.2,225.7 L286.8,225.7 L287.2,225.7 L287.8,225.7 L288.2,225.6 L288.8,225.6 L289.2,225.6 L289.8,225.6 L290.2,225.6 L290.8,225.6 L291.2,225.6 L291.8,225.6 L292.2,225.6 L292.8,225.6 L293.2,225.6 L293.8,225.6 L294.2,225.6 L294.8,225.6 L295.2,225.6 L295.8,225.6 L296.2,225.6 L296.8,225.6 L297.2,225.6 L297.8,225.6 L298.2,225.6 L298.8,225.6 L299.2,225.6 L299.8,225.6 L300.2,225.6 L300.8,225.6 L301.2,225.6 L301.8,225.6 L302.2,225.6 L302.8,225.6 L303.2,225.6 L303.8,225.6 L304.2,225.6 L304.8,225.6 L305.2,225.6 L305.8,225.6 L306.2,225.6 L306.8,225.5 L307.2,225.5 L307.8,225.5 L308.2,225.5 L308.8,225.5 L309.2,225.5 L309.8,225.5 L310.2,225.5 L310.8,225.5 L311.2,225.5 L311.8,225.5 L312.2,225.5 L312.8,225.5 L313.2,225.5 L313.8,225.5 L314.2,225.5 L314.8,225.5 L315.2,225.5 L315.8,225.5 L316.2,225.5 L316.8,225.5 L317.2,225.5 L317.8,225.5 L318.2,225.5 L318.8,225.5 L319.2,225.5 L319.8,225.5 L320.2,225.5 L320.8,225.5 L321.2,225.5 L321.8,225.5 L322.2,225.5 L322.8,225.5 L323.2,225.5 L323.8,225.5 L324.2,225.5 L324.8,225.5 L325.2,225.5 L325.8,225.5 L326.2,225.5 L326.8,225.5 L327.2,225.5 L327.8,225.5 L328.2,225.5 L328.8,225.5 L329.2,225.5 L329.8,225.5 L330.2,225.5 L330.8,225.5 L331.2,225.5 L331.8,225.5 L332.2,225.5 L332.5,225.5" fill="none" stroke="#7E2F8E" stroke-width="1.5" stroke-linejoin="round" stroke-linecap="butt" stroke-dasharray="1.5 1.3" />
<path d="M32.5,225.3 L33.0,225.3 L33.5,225.3 L34.0,225.3 L34.5,225.3 L35.0,225.3 L35.5,225.3 L36.0,225.3 L36.5,225.3 L37.0,225.3 L37.5,225.3 L38.0,225.3 L38.5,225.3 L39.0,225.3 L39.5,225.3 L40.0,225.3 L40.5,225.3 L41.0,225.3 L41.5,225.3 L42.0,225.3 L42.5,225.3 L43.0,225.3 L43.5,225.3 L44.0,225.3 L44.5,225.3 L45.0,225.3 L45.5,225.3 L46.0,225.3 L46.5,225.3 L47.0,225.3 L47.5,225.3 L48.0,225.3 L48.5,225.3 L49.0,225.3 L49.5,225.3 L50.0,225.3 L50.5,225.3 L51.0,225.4 L51.5,225.4 L52.0,225.4 L52.5,225.4 L53.0,225.4 L53.5,225.4 L54.0,225.4 L54.5,225.4 L55.0,225.4 L55.5,225.4 L56.0,225.4 L56.5,225.4 L57.0,225.4 L57.5,225.4 L58.0,225.4 L58.5,225.4 L59.0,225.4 L59.5,225.4 L60.0,225.4 L60.5,225.4 L61.0,225.4 L61.5,225.4 L62.0,225.4 L62.5,225.4 L63.0,225.4 L63.5,225.4 L64.0,225.4 L64.5,225.5 L65.0,225.5 L65.5,225.5 L66.0,225.5 L66.5,225.5 L67.0,225.5 L67.5,225.5 L68.0,225.5 L68.5,225.5 L69.0,225.5 L69.5,225.5 L70.0,225.5 L70.5,225.5 L71.0,225.5 L71.5,225.5 L72.0,225.5 L72.5,225.5 L73.0,225.5 L73.5,225.6 L74.0,225.6 L74.5,225.6 L75.0,225.6 L75.5,225.6 L76.0,225.6 L76.5,225.6 L77.0,225.6 L77.5,225.6 L78.0,225.6 L78.5,225.6 L79.0,225.6 L79.5,225.6 L80.0,225.6 L80.5,225.6 L81.0,225.7 L81.5,225.7 L82.0,225.7 L82.5,225.7 L83.0,225.7 L83.5,225.7 L84.0,225.7 L84.5,225.7 L85.0,225.7 L85.5,225.7 L86.0,225.7 L86.5,225.7 L87.0,225.8 L87.5,225.8 L88.0,225.8 L88.5,225.8 L89.0,225.8 L89.5,225.8 L90.0,225.8 L90.5,225.8 L91.0,225.8 L91.5,225.8 L92.0,225.8 L92.5,225.8 L93.0,225.9 L93.5,225.9 L94.0,225.9 L94.5,225.9 L95.0,225.9 L95.5,225.9 L96.0,225.9 L96.5,225.9 L97.0,225.9 L97.5,225.9 L98.0,226.0 L98.5,226.0 L99.0,226.0 L99.5,226.0 L100.0,226.0 L100.5,226.0 L101.0,226.0 L101.5,226.0 L102.0,226.0 L102.5,226.1 L103.0,226.1 L103.5,226.1 L104.0,226.1 L104.5,226.1 L105.0,226.1 L105.5,226.1 L106.0,226.1 L106.5,226.1 L107.0,226.2 L107.5,226.2 L108.0,226.2 L108.5,226.2 L109.0,226.2 L109.5,226.2 L110.0,226.2 L110.5,226.2 L111.0,226.3 L111.5,226.3 L112.0,226.3 L112.5,226.3 L113.0,226.3 L113.5,226.3 L114.0,226.3 L114.5,226.3 L115.0,226.4 L115.5,226.4 L116.0,226.4 L116.5,226.4 L117.0,226.4 L117.5,226.4 L118.0,226.4 L118.5,226.5 L119.0,226.5 L119.5,226.5 L120.0,226.5 L120.5,226.5 L121.0,226.6 L121.5,226.6 L122.0,226.6 L122.5,226.6 L123.0,226.7 L123.5,226.7 L124.0,226.7 L124.5,226.8 L125.0,226.8 L125.5,226.9 L126.0,226.9 L126.5,227.0 L127.0,227.0 L127.5,227.0 L128.0,227.1 L128.5,227.2 L129.0,227.2 L129.5,227.3 L130.0,227.3 L130.5,227.4 L131.0,227.4 L131.5,227.5 L132.0,227.5 L132.5,227.6 L133.0,227.7 L133.5,227.7 L134.0,227.8 L134.5,227.9 L135.0,227.9 L135.5,228.0 L136.0,228.0 L136.5,228.1 L137.0,228.1 L137.5,228.2 L138.0,228.3 L138.5,228.3 L139.0,228.4 L139.5,228.4 L140.0,228.5 L140.5,228.5 L141.0,228.6 L141.5,228.6 L142.0,228.7 L142.5,228.7 L143.0,228.8 L143.5,228.9 L144.0,228.9 L144.5,229.0 L145.0,229.0 L145.5,229.0 L146.0,229.1 L146.5,229.1 L147.0,229.2 L147.5,229.3 L148.0,229.3 L148.5,229.4 L149.0,229.4 L149.5,229.5 L150.0,229.5 L150.5,229.6 L151.0,229.6 L151.5,229.7 L152.0,229.7 L152.5,229.8 L153.0,229.9 L153.5,229.9 L154.0,230.0 L154.5,230.1 L155.0,230.1 L155.5,230.2 L156.0,230.3 L156.5,230.4 L157.0,230.5 L157.5,230.5 L158.0,230.6 L158.5,230.7 L159.0,230.8 L159.5,230.9 L160.0,231.0 L160.5,231.1 L161.0,231.2 L161.5,231.4 L162.0,231.5 L162.5,231.6 L163.0,231.7 L163.5,231.9 L164.0,232.0 L164.5,232.2 L165.0,232.3 L165.5,232.5 L166.0,232.6 L166.5,232.8 L167.0,233.0 L167.5,233.1 L168.0,233.3 L168.5,233.5 L169.0,233.7 L169.5,233.9 L170.0,234.1 L170.5,234.4 L171.0,234.6 L171.5,234.9 L172.0,235.1 L172.5,235.4 L173.0,235.7 L173.5,236.0 L174.0,236.3 L174.5,236.6 L175.0,237.0 L175.5,237.3 L176.0,237.7 L176.5,238.0 L177.0,238.4 L177.5,238.8 L178.0,239.2 L178.5,239.6 L179.0,240.0 L179.5,240.4 L180.0,240.9 L180.5,241.3 L181.0,241.7 L181.5,242.2 L182.0,242.7 L182.5,243.1 L183.0,243.6 L183.5,244.1 L184.0,244.6 L184.5,245.1 L185.0,245.7 L185.5,246.2 L186.0,246.8 L186.5,247.4 L187.0,247.9 L187.5,248.5 L188.0,249.1 L188.5,249.7 L189.0,250.3 L189.5,251.0 L190.0,251.6 L190.5,252.2 L191.0,252.9 L191.5,253.5 L192.0,254.1 L192.5,254.8 L193.0,255.4 L193.5,256.1 L194.0,256.7 L194.5,257.4 L195.0,258.0 L195.5,258.6 L196.0,259.3 L196.5,259.9 L197.0,260.6 L197.5,261.2 L198.0,261.9 L198.5,262.5 L199.0,263.2 L199.5,263.8 L200.0,264.5 L200.5,265.2 L201.0,265.8 L201.5,266.5 L202.0,267.1 L202.5,267.7 L203.0,268.4 L203.5,269.0 L204.0,269.6 L204.5,270.2 L205.0,270.8 L205.5,271.4 L206.0,272.0 L206.5,272.6 L207.0,273.2 L207.5,273.8 L208.0,274.4 L208.5,275.0 L209.0,275.6 L209.5,276.2 L210.0,276.9 L210.5,277.6 L211.0,278.3 L211.5,279.1 L212.0,280.0 L212.5,280.8 L213.0,281.8 L213.5,282.8 L214.0,283.9 L214.5,285.1 L215.0,286.3 L215.5,287.6 L216.0,289.1 L216.5,290.6 L217.0,292.2 L217.5,293.9 L218.0,295.8 L218.5,297.7 L219.0,299.6 L219.5,301.6 L220.0,303.6 L220.5,305.8 L221.0,308.3 L221.5,311.2 L222.0,314.3 L222.5,317.1 L223.0,319.6 L223.5,321.8 L224.0,323.6 L224.5,325.0 L225.0,323.4 L225.5,321.6 L226.0,319.5 L226.5,317.2 L227.0,314.6 L227.5,311.9 L228.0,309.2 L228.5,306.7 L229.0,304.5 L229.5,302.4 L230.0,300.3 L230.5,298.2 L231.0,296.0 L231.5,293.9 L232.0,291.9 L232.5,289.8 L233.0,287.8 L233.5,285.9 L234.0,283.9 L234.5,282.0 L235.0,280.1 L235.5,278.2 L236.0,276.4 L236.5,274.5 L237.0,272.7 L237.5,271.0 L238.0,269.3 L238.5,267.6 L239.0,266.0 L239.5,264.5 L240.0,263.1 L240.5,261.7 L241.0,260.4 L241.5,259.2 L242.0,258.1 L242.5,257.0 L243.0,256.0 L243.5,255.0 L244.0,254.2 L244.5,253.3 L245.0,252.5 L245.5,251.8 L246.0,251.1 L246.5,250.5 L247.0,249.8 L247.5,249.2 L248.0,248.7 L248.5,248.1 L249.0,247.6 L249.5,247.1 L250.0,246.6 L250.5,246.1 L251.0,245.6 L251.5,245.2 L252.0,244.7 L252.5,244.3 L253.0,243.9 L253.5,243.5 L254.0,243.1 L254.5,242.7 L255.0,242.4 L255.5,242.1 L256.0,241.7 L256.5,241.4 L257.0,241.2 L257.5,240.9 L258.0,240.6 L258.5,240.4 L259.0,240.2 L259.5,239.9 L260.0,239.7 L260.5,239.5 L261.0,239.3 L261.5,239.1 L262.0,238.9 L262.5,238.8 L263.0,238.6 L263.5,238.4 L264.0,238.2 L264.5,238.1 L265.0,237.9 L265.5,237.7 L266.0,237.6 L266.5,237.4 L267.0,237.3 L267.5,237.1 L268.0,237.0 L268.5,236.9 L269.0,236.7 L269.5,236.6 L270.0,236.5 L270.5,236.4 L271.0,236.3 L271.5,236.2 L272.0,236.1 L272.5,236.0 L273.0,236.0 L273.5,235.9 L274.0,235.8 L274.5,235.8 L275.0,235.7 L275.5,235.6 L276.0,235.6 L276.5,235.5 L277.0,235.5 L277.5,235.4 L278.0,235.4 L278.5,235.3 L279.0,235.3 L279.5,235.3 L280.0,235.2 L280.5,235.2 L281.0,235.1 L281.5,235.1 L282.0,235.1 L282.5,235.0 L283.0,235.0 L283.5,235.0 L284.0,235.0 L284.5,234.9 L285.0,234.9 L285.5,234.9 L286.0,234.9 L286.5,234.8 L287.0,234.8 L287.5,234.8 L288.0,234.8 L288.5,234.7 L289.0,234.7 L289.5,234.7 L290.0,234.7 L290.5,234.7 L291.0,234.6 L291.5,234.6 L292.0,234.6 L292.5,234.5 L293.0,234.5 L293.5,234.4 L294.0,234.4 L294.5,234.4 L295.0,234.3 L295.5,234.2 L296.0,234.2 L296.5,234.1 L297.0,234.1 L297.5,234.0 L298.0,233.9 L298.5,233.8 L299.0,233.8 L299.5,233.7 L300.0,233.6 L300.5,233.5 L301.0,233.5 L301.5,233.4 L302.0,233.3 L302.5,233.2 L303.0,233.2 L303.5,233.1 L304.0,233.0 L304.5,233.0 L305.0,232.9 L305.5,232.8 L306.0,232.8 L306.5,232.7 L307.0,232.6 L307.5,232.6 L308.0,232.5 L308.5,232.5 L309.0,232.4 L309.5,232.3 L310.0,232.3 L310.5,232.2 L311.0,232.2 L311.5,232.1 L312.0,232.1 L312.5,232.0 L313.0,231.9 L313.5,231.9 L314.0,231.8 L314.5,231.8 L315.0,231.7 L315.5,231.6 L316.0,231.6 L316.5,231.5 L317.0,231.5 L317.5,231.4 L318.0,231.3 L318.5,231.3 L319.0,231.2 L319.5,231.2 L320.0,231.1 L320.5,231.0 L321.0,231.0 L321.5,230.9 L322.0,230.9 L322.5,230.8 L323.0,230.7 L323.5,230.7 L324.0,230.6 L324.5,230.6 L325.0,230.5 L325.5,230.4 L326.0,230.4 L326.5,230.3 L327.0,230.3 L327.5,230.2 L328.0,230.1 L328.5,230.1 L329.0,230.0 L329.5,230.0 L330.0,229.9 L330.5,229.9 L331.0,229.8 L331.5,229.8 L332.0,229.8 L332.5,229.7" fill="none" stroke="#7E2F8E" stroke-width="2.0" stroke-linejoin="round" stroke-linecap="butt" />
<path d="M32.5,225.2 L33.0,225.2 L33.5,225.2 L34.0,225.2 L34.5,225.2 L35.0,225.2 L35.5,225.2 L36.0,225.2 L36.5,225.2 L37.0,225.2 L37.5,225.2 L38.0,225.2 L38.5,225.2 L39.0,225.2 L39.5,225.2 L40.0,225.2 L40.5,225.2 L41.0,225.2 L41.5,225.2 L42.0,225.2 L42.5,225.2 L43.0,225.2 L43.5,225.2 L44.0,225.2 L44.5,225.2 L45.0,225.2 L45.5,225.2 L46.0,225.2 L46.5,225.2 L47.0,225.2 L47.5,225.2 L48.0,225.2 L48.5,225.2 L49.0,225.2 L49.5,225.2 L50.0,225.2 L50.5,225.2 L51.0,225.2 L51.5,225.2 L52.0,225.2 L52.5,225.2 L53.0,225.2 L53.5,225.2 L54.0,225.2 L54.5,225.2 L55.0,225.2 L55.5,225.2 L56.0,225.3 L56.5,225.3 L57.0,225.3 L57.5,225.3 L58.0,225.3 L58.5,225.3 L59.0,225.3 L59.5,225.3 L60.0,225.3 L60.5,225.3 L61.0,225.3 L61.5,225.3 L62.0,225.3 L62.5,225.3 L63.0,225.3 L63.5,225.3 L64.0,225.3 L64.5,225.3 L65.0,225.3 L65.5,225.3 L66.0,225.3 L66.5,225.3 L67.0,225.3 L67.5,225.3 L68.0,225.3 L68.5,225.3 L69.0,225.3 L69.5,225.3 L70.0,225.3 L70.5,225.3 L71.0,225.3 L71.5,225.3 L72.0,225.3 L72.5,225.4 L73.0,225.4 L73.5,225.4 L74.0,225.4 L74.5,225.4 L75.0,225.4 L75.5,225.4 L76.0,225.4 L76.5,225.4 L77.0,225.4 L77.5,225.4 L78.0,225.4 L78.5,225.4 L79.0,225.4 L79.5,225.4 L80.0,225.4 L80.5,225.4 L81.0,225.4 L81.5,225.4 L82.0,225.4 L82.5,225.4 L83.0,225.5 L83.5,225.5 L84.0,225.5 L84.5,225.5 L85.0,225.5 L85.5,225.5 L86.0,225.5 L86.5,225.5 L87.0,225.5 L87.5,225.5 L88.0,225.5 L88.5,225.5 L89.0,225.5 L89.5,225.5 L90.0,225.5 L90.5,225.5 L91.0,225.5 L91.5,225.5 L92.0,225.6 L92.5,225.6 L93.0,225.6 L93.5,225.6 L94.0,225.6 L94.5,225.6 L95.0,225.6 L95.5,225.6 L96.0,225.6 L96.5,225.6 L97.0,225.6 L97.5,225.6 L98.0,225.6 L98.5,225.6 L99.0,225.7 L99.5,225.7 L100.0,225.7 L100.5,225.7 L101.0,225.7 L101.5,225.7 L102.0,225.7 L102.5,225.7 L103.0,225.7 L103.5,225.7 L104.0,225.7 L104.5,225.7 L105.0,225.7 L105.5,225.8 L106.0,225.8 L106.5,225.8 L107.0,225.8 L107.5,225.8 L108.0,225.8 L108.5,225.8 L109.0,225.8 L109.5,225.8 L110.0,225.8 L110.5,225.8 L111.0,225.8 L111.5,225.9 L112.0,225.9 L112.5,225.9 L113.0,225.9 L113.5,225.9 L114.0,225.9 L114.5,225.9 L115.0,225.9 L115.5,225.9 L116.0,225.9 L116.5,226.0 L117.0,226.0 L117.5,226.0 L118.0,226.0 L118.5,226.0 L119.0,226.0 L119.5,226.0 L120.0,226.0 L120.5,226.0 L121.0,226.0 L121.5,226.1 L122.0,226.1 L122.5,226.1 L123.0,226.1 L123.5,226.1 L124.0,226.1 L124.5,226.1 L125.0,226.1 L125.5,226.1 L126.0,226.2 L126.5,226.2 L127.0,226.2 L127.5,226.2 L128.0,226.2 L128.5,226.2 L129.0,226.2 L129.5,226.2 L130.0,226.2 L130.5,226.3 L131.0,226.3 L131.5,226.3 L132.0,226.3 L132.5,226.3 L133.0,226.3 L133.5,226.3 L134.0,226.3 L134.5,226.4 L135.0,226.4 L135.5,226.4 L136.0,226.4 L136.5,226.4 L137.0,226.4 L137.5,226.4 L138.0,226.5 L138.5,226.5 L139.0,226.5 L139.5,226.5 L140.0,226.5 L140.5,226.5 L141.0,226.6 L141.5,226.6 L142.0,226.6 L142.5,226.6 L143.0,226.7 L143.5,226.7 L144.0,226.8 L144.5,226.8 L145.0,226.8 L145.5,226.9 L146.0,226.9 L146.5,227.0 L147.0,227.0 L147.5,227.1 L148.0,227.2 L148.5,227.2 L149.0,227.3 L149.5,227.3 L150.0,227.4 L150.5,227.5 L151.0,227.5 L151.5,227.6 L152.0,227.7 L152.5,227.8 L153.0,227.8 L153.5,227.9 L154.0,228.0 L154.5,228.1 L155.0,228.2 L155.5,228.2 L156.0,228.3 L156.5,228.4 L157.0,228.5 L157.5,228.6 L158.0,228.7 L158.5,228.7 L159.0,228.8 L159.5,228.9 L160.0,229.0 L160.5,229.1 L161.0,229.2 L161.5,229.3 L162.0,229.4 L162.5,229.5 L163.0,229.6 L163.5,229.7 L164.0,229.8 L164.5,229.9 L165.0,230.0 L165.5,230.1 L166.0,230.3 L166.5,230.4 L167.0,230.5 L167.5,230.6 L168.0,230.8 L168.5,230.9 L169.0,231.0 L169.5,231.2 L170.0,231.3 L170.5,231.5 L171.0,231.7 L171.5,231.8 L172.0,232.0 L172.5,232.2 L173.0,232.3 L173.5,232.5 L174.0,232.7 L174.5,232.9 L175.0,233.1 L175.5,233.4 L176.0,233.6 L176.5,233.8 L177.0,234.1 L177.5,234.3 L178.0,234.6 L178.5,234.9 L179.0,235.2 L179.5,235.5 L180.0,235.8 L180.5,236.2 L181.0,236.5 L181.5,236.9 L182.0,237.2 L182.5,237.6 L183.0,238.0 L183.5,238.4 L184.0,238.8 L184.5,239.2 L185.0,239.6 L185.5,240.0 L186.0,240.5 L186.5,240.9 L187.0,241.4 L187.5,241.9 L188.0,242.4 L188.5,242.9 L189.0,243.4 L189.5,243.9 L190.0,244.4 L190.5,245.0 L191.0,245.6 L191.5,246.2 L192.0,246.8 L192.5,247.4 L193.0,248.1 L193.5,248.7 L194.0,249.4 L194.5,250.1 L195.0,250.9 L195.5,251.6 L196.0,252.4 L196.5,253.2 L197.0,254.1 L197.5,255.0 L198.0,255.9 L198.5,256.8 L199.0,257.8 L199.5,258.7 L200.0,259.7 L200.5,260.7 L201.0,261.7 L201.5,262.7 L202.0,263.7 L202.5,264.8 L203.0,265.8 L203.5,266.8 L204.0,267.8 L204.5,268.8 L205.0,269.8 L205.5,270.8 L206.0,271.9 L206.5,272.9 L207.0,274.1 L207.5,275.3 L208.0,276.5 L208.5,277.9 L209.0,279.4 L209.5,281.0 L210.0,282.8 L210.5,284.8 L211.0,286.9 L211.5,289.0 L212.0,291.2 L212.5,293.7 L213.0,296.4 L213.5,299.2 L214.0,302.2 L214.5,305.3 L215.0,308.5 L215.5,311.7 L216.0,315.0 L216.5,318.7 L217.0,322.5 L217.5,319.8 L218.0,316.7 L218.5,313.1 L219.0,309.0 L219.5,305.2 L220.0,301.7 L220.5,298.4 L221.0,295.4 L221.5,292.6 L222.0,290.1 L222.5,287.7 L223.0,285.4 L223.5,283.0 L224.0,280.8 L224.5,278.8 L225.0,276.8 L225.5,275.0 L226.0,273.3 L226.5,271.6 L227.0,270.1 L227.5,268.6 L228.0,267.1 L228.5,265.6 L229.0,264.2 L229.5,262.8 L230.0,261.3 L230.5,259.9 L231.0,258.4 L231.5,256.9 L232.0,255.4 L232.5,253.9 L233.0,252.5 L233.5,251.1 L234.0,249.7 L234.5,248.3 L235.0,247.0 L235.5,245.8 L236.0,244.6 L236.5,243.6 L237.0,242.5 L237.5,241.6 L238.0,240.7 L238.5,239.8 L239.0,239.0 L239.5,238.3 L240.0,237.6 L240.5,236.9 L241.0,236.3 L241.5,235.8 L242.0,235.3 L242.5,234.8 L243.0,234.3 L243.5,233.9 L244.0,233.5 L244.5,233.1 L245.0,232.8 L245.5,232.4 L246.0,232.1 L246.5,231.8 L247.0,231.5 L247.5,231.3 L248.0,231.0 L248.5,230.8 L249.0,230.6 L249.5,230.4 L250.0,230.2 L250.5,230.0 L251.0,229.8 L251.5,229.7 L252.0,229.5 L252.5,229.3 L253.0,229.2 L253.5,229.1 L254.0,228.9 L254.5,228.8 L255.0,228.7 L255.5,228.6 L256.0,228.5 L256.5,228.4 L257.0,228.3 L257.5,228.2 L258.0,228.1 L258.5,228.0 L259.0,227.9 L259.5,227.8 L260.0,227.8 L260.5,227.7 L261.0,227.6 L261.5,227.6 L262.0,227.5 L262.5,227.4 L263.0,227.4 L263.5,227.3 L264.0,227.3 L264.5,227.2 L265.0,227.2 L265.5,227.1 L266.0,227.1 L266.5,227.0 L267.0,227.0 L267.5,227.0 L268.0,226.9 L268.5,226.9 L269.0,226.8 L269.5,226.8 L270.0,226.8 L270.5,226.7 L271.0,226.7 L271.5,226.7 L272.0,226.6 L272.5,226.6 L273.0,226.6 L273.5,226.5 L274.0,226.5 L274.5,226.5 L275.0,226.5 L275.5,226.4 L276.0,226.4 L276.5,226.4 L277.0,226.4 L277.5,226.4 L278.0,226.4 L278.5,226.3 L279.0,226.3 L279.5,226.3 L280.0,226.3 L280.5,226.3 L281.0,226.3 L281.5,226.3 L282.0,226.3 L282.5,226.3 L283.0,226.3 L283.5,226.3 L284.0,226.3 L284.5,226.2 L285.0,226.2 L285.5,226.2 L286.0,226.2 L286.5,226.2 L287.0,226.2 L287.5,226.2 L288.0,226.2 L288.5,226.2 L289.0,226.2 L289.5,226.2 L290.0,226.2 L290.5,226.2 L291.0,226.2 L291.5,226.2 L292.0,226.2 L292.5,226.2 L293.0,226.2 L293.5,226.2 L294.0,226.2 L294.5,226.2 L295.0,226.1 L295.5,226.1 L296.0,226.1 L296.5,226.1 L297.0,226.1 L297.5,226.1 L298.0,226.1 L298.5,226.1 L299.0,226.1 L299.5,226.1 L300.0,226.1 L300.5,226.1 L301.0,226.1 L301.5,226.1 L302.0,226.1 L302.5,226.1 L303.0,226.1 L303.5,226.1 L304.0,226.1 L304.5,226.1 L305.0,226.1 L305.5,226.1 L306.0,226.1 L306.5,226.1 L307.0,226.1 L307.5,226.1 L308.0,226.1 L308.5,226.1 L309.0,226.1 L309.5,226.1 L310.0,226.1 L310.5,226.0 L311.0,226.0 L311.5,226.0 L312.0,226.0 L312.5,226.0 L313.0,226.0 L313.5,226.0 L314.0,226.0 L314.5,226.0 L315.0,226.0 L315.5,226.0 L316.0,226.0 L316.5,226.0 L317.0,226.0 L317.5,226.0 L318.0,226.0 L318.5,226.0 L319.0,226.0 L319.5,226.0 L320.0,226.0 L320.5,226.0 L321.0,226.0 L321.5,226.0 L322.0,226.0 L322.5,226.0 L323.0,226.0 L323.5,226.0 L324.0,226.0 L324.5,226.0 L325.0,226.0 L325.5,226.0 L326.0,226.0 L326.5,226.0 L327.0,226.0 L327.5,226.0 L328.0,226.0 L328.5,226.0 L329.0,226.0 L329.5,226.0 L330.0,226.0 L330.5,226.0 L331.0,226.0 L331.5,226.0 L332.0,226.0 L332.5,226.0" fill="none" stroke="#77AC30" stroke-width="1.5" stroke-linejoin="round" stroke-linecap="butt" stroke-dasharray="1.5 1.3" />
<path d="M32.5,225.3 L33.0,225.3 L33.5,225.3 L34.0,225.3 L34.5,225.3 L35.0,225.3 L35.5,225.3 L36.0,225.3 L36.5,225.3 L37.0,225.3 L37.5,225.3 L38.0,225.3 L38.5,225.3 L39.0,225.3 L39.5,225.3 L40.0,225.3 L40.5,225.3 L41.0,225.3 L41.5,225.3 L42.0,225.3 L42.5,225.3 L43.0,225.3 L43.5,225.3 L44.0,225.3 L44.5,225.3 L45.0,225.3 L45.5,225.3 L46.0,225.3 L46.5,225.3 L47.0,225.3 L47.5,225.3 L48.0,225.3 L48.5,225.3 L49.0,225.3 L49.5,225.3 L50.0,225.3 L50.5,225.3 L51.0,225.3 L51.5,225.3 L52.0,225.3 L52.5,225.3 L53.0,225.3 L53.5,225.3 L54.0,225.3 L54.5,225.3 L55.0,225.3 L55.5,225.4 L56.0,225.4 L56.5,225.4 L57.0,225.4 L57.5,225.4 L58.0,225.4 L58.5,225.4 L59.0,225.4 L59.5,225.4 L60.0,225.4 L60.5,225.4 L61.0,225.4 L61.5,225.4 L62.0,225.4 L62.5,225.4 L63.0,225.4 L63.5,225.4 L64.0,225.4 L64.5,225.4 L65.0,225.4 L65.5,225.4 L66.0,225.4 L66.5,225.4 L67.0,225.4 L67.5,225.4 L68.0,225.4 L68.5,225.4 L69.0,225.4 L69.5,225.4 L70.0,225.4 L70.5,225.4 L71.0,225.5 L71.5,225.5 L72.0,225.5 L72.5,225.5 L73.0,225.5 L73.5,225.5 L74.0,225.5 L74.5,225.5 L75.0,225.5 L75.5,225.5 L76.0,225.5 L76.5,225.5 L77.0,225.5 L77.5,225.5 L78.0,225.5 L78.5,225.5 L79.0,225.5 L79.5,225.5 L80.0,225.5 L80.5,225.5 L81.0,225.5 L81.5,225.6 L82.0,225.6 L82.5,225.6 L83.0,225.6 L83.5,225.6 L84.0,225.6 L84.5,225.6 L85.0,225.6 L85.5,225.6 L86.0,225.6 L86.5,225.6 L87.0,225.6 L87.5,225.6 L88.0,225.6 L88.5,225.6 L89.0,225.6 L89.5,225.6 L90.0,225.7 L90.5,225.7 L91.0,225.7 L91.5,225.7 L92.0,225.7 L92.5,225.7 L93.0,225.7 L93.5,225.7 L94.0,225.7 L94.5,225.7 L95.0,225.7 L95.5,225.7 L96.0,225.7 L96.5,225.7 L97.0,225.8 L97.5,225.8 L98.0,225.8 L98.5,225.8 L99.0,225.8 L99.5,225.8 L100.0,225.8 L100.5,225.8 L101.0,225.8 L101.5,225.8 L102.0,225.8 L102.5,225.8 L103.0,225.8 L103.5,225.9 L104.0,225.9 L104.5,225.9 L105.0,225.9 L105.5,225.9 L106.0,225.9 L106.5,225.9 L107.0,225.9 L107.5,225.9 L108.0,225.9 L108.5,225.9 L109.0,226.0 L109.5,226.0 L110.0,226.0 L110.5,226.0 L111.0,226.0 L111.5,226.0 L112.0,226.0 L112.5,226.0 L113.0,226.0 L113.5,226.0 L114.0,226.1 L114.5,226.1 L115.0,226.1 L115.5,226.1 L116.0,226.1 L116.5,226.1 L117.0,226.1 L117.5,226.1 L118.0,226.1 L118.5,226.1 L119.0,226.2 L119.5,226.2 L120.0,226.2 L120.5,226.2 L121.0,226.2 L121.5,226.2 L122.0,226.2 L122.5,226.2 L123.0,226.2 L123.5,226.3 L124.0,226.3 L124.5,226.3 L125.0,226.3 L125.5,226.3 L126.0,226.3 L126.5,226.3 L127.0,226.3 L127.5,226.4 L128.0,226.4 L128.5,226.4 L129.0,226.4 L129.5,226.4 L130.0,226.4 L130.5,226.4 L131.0,226.4 L131.5,226.5 L132.0,226.5 L132.5,226.5 L133.0,226.5 L133.5,226.5 L134.0,226.5 L134.5,226.5 L135.0,226.6 L135.5,226.6 L136.0,226.6 L136.5,226.6 L137.0,226.6 L137.5,226.6 L138.0,226.6 L138.5,226.6 L139.0,226.7 L139.5,226.7 L140.0,226.7 L140.5,226.7 L141.0,226.7 L141.5,226.7 L142.0,226.8 L142.5,226.8 L143.0,226.8 L143.5,226.8 L144.0,226.8 L144.5,226.8 L145.0,226.8 L145.5,226.9 L146.0,226.9 L146.5,226.9 L147.0,226.9 L147.5,226.9 L148.0,226.9 L148.5,227.0 L149.0,227.0 L149.5,227.0 L150.0,227.0 L150.5,227.1 L151.0,227.1 L151.5,227.1 L152.0,227.1 L152.5,227.2 L153.0,227.2 L153.5,227.3 L154.0,227.3 L154.5,227.4 L155.0,227.4 L155.5,227.5 L156.0,227.5 L156.5,227.6 L157.0,227.7 L157.5,227.7 L158.0,227.8 L158.5,227.9 L159.0,228.0 L159.5,228.1 L160.0,228.1 L160.5,228.2 L161.0,228.3 L161.5,228.4 L162.0,228.5 L162.5,228.6 L163.0,228.7 L163.5,228.8 L164.0,228.9 L164.5,228.9 L165.0,229.0 L165.5,229.1 L166.0,229.2 L166.5,229.3 L167.0,229.4 L167.5,229.5 L168.0,229.6 L168.5,229.7 L169.0,229.8 L169.5,229.9 L170.0,230.0 L170.5,230.1 L171.0,230.2 L171.5,230.3 L172.0,230.4 L172.5,230.5 L173.0,230.6 L173.5,230.7 L174.0,230.8 L174.5,230.9 L175.0,231.0 L175.5,231.2 L176.0,231.3 L176.5,231.4 L177.0,231.5 L177.5,231.6 L178.0,231.8 L178.5,231.9 L179.0,232.0 L179.5,232.2 L180.0,232.3 L180.5,232.4 L181.0,232.6 L181.5,232.8 L182.0,232.9 L182.5,233.1 L183.0,233.2 L183.5,233.4 L184.0,233.6 L184.5,233.8 L185.0,234.0 L185.5,234.2 L186.0,234.4 L186.5,234.6 L187.0,234.8 L187.5,235.1 L188.0,235.3 L188.5,235.5 L189.0,235.8 L189.5,236.0 L190.0,236.3 L190.5,236.5 L191.0,236.8 L191.5,237.1 L192.0,237.4 L192.5,237.6 L193.0,237.9 L193.5,238.2 L194.0,238.5 L194.5,238.8 L195.0,239.1 L195.5,239.4 L196.0,239.7 L196.5,240.0 L197.0,240.3 L197.5,240.6 L198.0,241.0 L198.5,241.3 L199.0,241.7 L199.5,242.0 L200.0,242.4 L200.5,242.7 L201.0,243.1 L201.5,243.4 L202.0,243.8 L202.5,244.2 L203.0,244.6 L203.5,244.9 L204.0,245.3 L204.5,245.7 L205.0,246.1 L205.5,246.5 L206.0,246.8 L206.5,247.2 L207.0,247.6 L207.5,248.0 L208.0,248.4 L208.5,248.7 L209.0,249.1 L209.5,249.5 L210.0,249.9 L210.5,250.3 L211.0,250.6 L211.5,251.0 L212.0,251.4 L212.5,251.8 L213.0,252.2 L213.5,252.6 L214.0,253.0 L214.5,253.4 L215.0,253.8 L215.5,254.2 L216.0,254.6 L216.5,255.0 L217.0,255.4 L217.5,255.9 L218.0,256.3 L218.5,256.7 L219.0,257.2 L219.5,257.6 L220.0,258.1 L220.5,258.6 L221.0,259.1 L221.5,259.6 L222.0,260.1 L222.5,260.6 L223.0,261.1 L223.5,261.6 L224.0,262.2 L224.5,262.7 L225.0,263.2 L225.5,263.8 L226.0,264.4 L226.5,264.9 L227.0,265.5 L227.5,266.1 L228.0,266.7 L228.5,267.2 L229.0,267.8 L229.5,268.4 L230.0,269.0 L230.5,269.6 L231.0,270.2 L231.5,270.8 L232.0,271.4 L232.5,272.0 L233.0,272.6 L233.5,273.2 L234.0,273.8 L234.5,274.4 L235.0,275.1 L235.5,275.7 L236.0,276.4 L236.5,277.1 L237.0,277.8 L237.5,278.5 L238.0,279.3 L238.5,280.1 L239.0,280.9 L239.5,281.8 L240.0,282.7 L240.5,283.7 L241.0,284.7 L241.5,285.8 L242.0,286.9 L242.5,288.1 L243.0,289.4 L243.5,290.7 L244.0,292.1 L244.5,293.6 L245.0,295.1 L245.5,296.8 L246.0,298.5 L246.5,300.3 L247.0,302.3 L247.5,304.3 L248.0,306.4 L248.5,308.6 L249.0,310.7 L249.5,313.0 L250.0,315.4 L250.5,317.8 L251.0,320.6 L251.5,323.6 L252.0,326.8 L252.5,329.6 L253.0,332.0 L253.5,334.1 L254.0,335.6 L254.2,336.3 L254.8,334.9 L255.2,333.1 L255.8,330.9 L256.2,328.3 L256.8,325.2 L257.2,322.1 L257.8,319.2 L258.2,316.6 L258.8,314.1 L259.2,311.8 L259.8,309.5 L260.2,307.3 L260.8,305.1 L261.2,302.9 L261.8,300.8 L262.2,298.7 L262.8,296.8 L263.2,294.9 L263.8,293.0 L264.2,291.2 L264.8,289.4 L265.2,287.7 L265.8,286.0 L266.2,284.4 L266.8,282.8 L267.2,281.3 L267.8,279.8 L268.2,278.3 L268.8,276.9 L269.2,275.5 L269.8,274.2 L270.2,272.9 L270.8,271.7 L271.2,270.5 L271.8,269.4 L272.2,268.3 L272.8,267.3 L273.2,266.4 L273.8,265.4 L274.2,264.6 L274.8,263.7 L275.2,262.9 L275.8,262.2 L276.2,261.5 L276.8,260.8 L277.2,260.1 L277.8,259.5 L278.2,258.9 L278.8,258.3 L279.2,257.7 L279.8,257.1 L280.2,256.6 L280.8,256.1 L281.2,255.6 L281.8,255.1 L282.2,254.6 L282.8,254.2 L283.2,253.7 L283.8,253.3 L284.2,252.8 L284.8,252.4 L285.2,252.0 L285.8,251.6 L286.2,251.2 L286.8,250.8 L287.2,250.5 L287.8,250.1 L288.2,249.7 L288.8,249.4 L289.2,249.1 L289.8,248.7 L290.2,248.4 L290.8,248.1 L291.2,247.8 L291.8,247.5 L292.2,247.3 L292.8,247.0 L293.2,246.7 L293.8,246.5 L294.2,246.2 L294.8,246.0 L295.2,245.8 L295.8,245.5 L296.2,245.3 L296.8,245.1 L297.2,244.9 L297.8,244.7 L298.2,244.5 L298.8,244.3 L299.2,244.1 L299.8,244.0 L300.2,243.8 L300.8,243.6 L301.2,243.5 L301.8,243.3 L302.2,243.2 L302.8,243.0 L303.2,242.9 L303.8,242.7 L304.2,242.6 L304.8,242.5 L305.2,242.4 L305.8,242.2 L306.2,242.1 L306.8,242.0 L307.2,241.9 L307.8,241.8 L308.2,241.7 L308.8,241.6 L309.2,241.5 L309.8,241.4 L310.2,241.3 L310.8,241.3 L311.2,241.2 L311.8,241.1 L312.2,241.0 L312.8,240.9 L313.2,240.8 L313.8,240.8 L314.2,240.7 L314.8,240.6 L315.2,240.5 L315.8,240.4 L316.2,240.4 L316.8,240.3 L317.2,240.2 L317.8,240.1 L318.2,240.1 L318.8,240.0 L319.2,239.9 L319.8,239.8 L320.2,239.8 L320.8,239.7 L321.2,239.6 L321.8,239.5 L322.2,239.4 L322.8,239.4 L323.2,239.3 L323.8,239.2 L324.2,239.1 L324.8,239.0 L325.2,238.9 L325.8,238.8 L326.2,238.7 L326.8,238.6 L327.2,238.4 L327.8,238.3 L328.2,238.2 L328.8,238.1 L329.2,238.0 L329.8,237.8 L330.2,237.7 L330.8,237.6 L331.2,237.5 L331.8,237.4 L332.2,237.3 L332.5,237.3" fill="none" stroke="#77AC30" stroke-width="2.0" stroke-linejoin="round" stroke-linecap="butt" />
<path d="M32.5,225.2 L33.0,225.2 L33.5,225.2 L34.0,225.2 L34.5,225.2 L35.0,225.2 L35.5,225.2 L36.0,225.2 L36.5,225.2 L37.0,225.2 L37.5,225.2 L38.0,225.2 L38.5,225.2 L39.0,225.2 L39.5,225.2 L40.0,225.2 L40.5,225.2 L41.0,225.2 L41.5,225.2 L42.0,225.2 L42.5,225.2 L43.0,225.2 L43.5,225.2 L44.0,225.2 L44.5,225.2 L45.0,225.2 L45.5,225.2 L46.0,225.2 L46.5,225.2 L47.0,225.2 L47.5,225.2 L48.0,225.2 L48.5,225.2 L49.0,225.2 L49.5,225.2 L50.0,225.2 L50.5,225.2 L51.0,225.2 L51.5,225.2 L52.0,225.2 L52.5,225.2 L53.0,225.2 L53.5,225.2 L54.0,225.2 L54.5,225.2 L55.0,225.2 L55.5,225.2 L56.0,225.2 L56.5,225.2 L57.0,225.2 L57.5,225.2 L58.0,225.2 L58.5,225.2 L59.0,225.3 L59.5,225.3 L60.0,225.3 L60.5,225.3 L61.0,225.3 L61.5,225.3 L62.0,225.3 L62.5,225.3 L63.0,225.3 L63.5,225.3 L64.0,225.3 L64.5,225.3 L65.0,225.3 L65.5,225.3 L66.0,225.3 L66.5,225.3 L67.0,225.3 L67.5,225.3 L68.0,225.3 L68.5,225.3 L69.0,225.3 L69.5,225.3 L70.0,225.3 L70.5,225.3 L71.0,225.3 L71.5,225.3 L72.0,225.3 L72.5,225.3 L73.0,225.3 L73.5,225.3 L74.0,225.3 L74.5,225.3 L75.0,225.3 L75.5,225.3 L76.0,225.3 L76.5,225.3 L77.0,225.4 L77.5,225.4 L78.0,225.4 L78.5,225.4 L79.0,225.4 L79.5,225.4 L80.0,225.4 L80.5,225.4 L81.0,225.4 L81.5,225.4 L82.0,225.4 L82.5,225.4 L83.0,225.4 L83.5,225.4 L84.0,225.4 L84.5,225.4 L85.0,225.4 L85.5,225.4 L86.0,225.4 L86.5,225.4 L87.0,225.4 L87.5,225.4 L88.0,225.4 L88.5,225.5 L89.0,225.5 L89.5,225.5 L90.0,225.5 L90.5,225.5 L91.0,225.5 L91.5,225.5 L92.0,225.5 L92.5,225.5 L93.0,225.5 L93.5,225.5 L94.0,225.5 L94.5,225.5 L95.0,225.5 L95.5,225.5 L96.0,225.5 L96.5,225.5 L97.0,225.5 L97.5,225.5 L98.0,225.6 L98.5,225.6 L99.0,225.6 L99.5,225.6 L100.0,225.6 L100.5,225.6 L101.0,225.6 L101.5,225.6 L102.0,225.6 L102.5,225.6 L103.0,225.6 L103.5,225.6 L104.0,225.6 L104.5,225.6 L105.0,225.6 L105.5,225.6 L106.0,225.7 L106.5,225.7 L107.0,225.7 L107.5,225.7 L108.0,225.7 L108.5,225.7 L109.0,225.7 L109.5,225.7 L110.0,225.7 L110.5,225.7 L111.0,225.7 L111.5,225.7 L112.0,225.7 L112.5,225.7 L113.0,225.8 L113.5,225.8 L114.0,225.8 L114.5,225.8 L115.0,225.8 L115.5,225.8 L116.0,225.8 L116.5,225.8 L117.0,225.8 L117.5,225.8 L118.0,225.8 L118.5,225.8 L119.0,225.9 L119.5,225.9 L120.0,225.9 L120.5,225.9 L121.0,225.9 L121.5,225.9 L122.0,225.9 L122.5,225.9 L123.0,225.9 L123.5,225.9 L124.0,225.9 L124.5,225.9 L125.0,226.0 L125.5,226.0 L126.0,226.0 L126.5,226.0 L127.0,226.0 L127.5,226.0 L128.0,226.0 L128.5,226.0 L129.0,226.0 L129.5,226.0 L130.0,226.1 L130.5,226.1 L131.0,226.1 L131.5,226.1 L132.0,226.1 L132.5,226.1 L133.0,226.1 L133.5,226.1 L134.0,226.1 L134.5,226.1 L135.0,226.2 L135.5,226.2 L136.0,226.2 L136.5,226.2 L137.0,226.2 L137.5,226.2 L138.0,226.2 L138.5,226.2 L139.0,226.2 L139.5,226.3 L140.0,226.3 L140.5,226.3 L141.0,226.3 L141.5,226.3 L142.0,226.3 L142.5,226.3 L143.0,226.3 L143.5,226.3 L144.0,226.4 L144.5,226.4 L145.0,226.4 L145.5,226.4 L146.0,226.4 L146.5,226.4 L147.0,226.4 L147.5,226.4 L148.0,226.5 L148.5,226.5 L149.0,226.5 L149.5,226.5 L150.0,226.5 L150.5,226.5 L151.0,226.6 L151.5,226.6 L152.0,226.6 L152.5,226.7 L153.0,226.7 L153.5,226.7 L154.0,226.8 L154.5,226.8 L155.0,226.8 L155.5,226.9 L156.0,226.9 L156.5,227.0 L157.0,227.1 L157.5,227.1 L158.0,227.2 L158.5,227.2 L159.0,227.3 L159.5,227.4 L160.0,227.4 L160.5,227.5 L161.0,227.6 L161.5,227.6 L162.0,227.7 L162.5,227.8 L163.0,227.9 L163.5,227.9 L164.0,228.0 L164.5,228.1 L165.0,228.2 L165.5,228.3 L166.0,228.3 L166.5,228.4 L167.0,228.5 L167.5,228.6 L168.0,228.7 L168.5,228.8 L169.0,228.8 L169.5,228.9 L170.0,229.0 L170.5,229.1 L171.0,229.2 L171.5,229.3 L172.0,229.4 L172.5,229.4 L173.0,229.5 L173.5,229.6 L174.0,229.7 L174.5,229.8 L175.0,229.9 L175.5,230.0 L176.0,230.1 L176.5,230.2 L177.0,230.4 L177.5,230.5 L178.0,230.6 L178.5,230.7 L179.0,230.8 L179.5,231.0 L180.0,231.1 L180.5,231.2 L181.0,231.4 L181.5,231.5 L182.0,231.7 L182.5,231.8 L183.0,232.0 L183.5,232.2 L184.0,232.3 L184.5,232.5 L185.0,232.7 L185.5,232.9 L186.0,233.1 L186.5,233.3 L187.0,233.5 L187.5,233.8 L188.0,234.0 L188.5,234.2 L189.0,234.5 L189.5,234.7 L190.0,235.0 L190.5,235.3 L191.0,235.6 L191.5,235.8 L192.0,236.2 L192.5,236.5 L193.0,236.8 L193.5,237.1 L194.0,237.5 L194.5,237.8 L195.0,238.2 L195.5,238.6 L196.0,239.0 L196.5,239.4 L197.0,239.9 L197.5,240.3 L198.0,240.8 L198.5,241.3 L199.0,241.8 L199.5,242.4 L200.0,242.9 L200.5,243.5 L201.0,244.1 L201.5,244.7 L202.0,245.4 L202.5,246.0 L203.0,246.7 L203.5,247.3 L204.0,248.0 L204.5,248.7 L205.0,249.4 L205.5,250.2 L206.0,250.9 L206.5,251.7 L207.0,252.4 L207.5,253.2 L208.0,254.1 L208.5,254.9 L209.0,255.8 L209.5,256.6 L210.0,257.6 L210.5,258.5 L211.0,259.5 L211.5,260.5 L212.0,261.5 L212.5,262.6 L213.0,263.8 L213.5,264.9 L214.0,266.2 L214.5,267.5 L215.0,268.8 L215.5,270.2 L216.0,271.8 L216.5,273.4 L217.0,275.1 L217.5,276.9 L218.0,278.8 L218.5,280.9 L219.0,283.1 L219.5,285.2 L220.0,287.5 L220.5,290.0 L221.0,292.5 L221.5,295.3 L222.0,298.4 L222.5,301.8 L223.0,305.3 L223.5,309.0 L224.0,313.0 L224.5,317.0 L225.0,321.0 L225.5,318.2 L226.0,315.0 L226.5,311.1 L227.0,307.0 L227.5,303.3 L228.0,299.9 L228.5,296.7 L229.0,293.7 L229.5,290.9 L230.0,288.4 L230.5,286.0 L231.0,283.8 L231.5,281.6 L232.0,279.4 L232.5,277.5 L233.0,275.7 L233.5,274.0 L234.0,272.4 L234.5,270.8 L235.0,269.4 L235.5,268.0 L236.0,266.6 L236.5,265.3 L237.0,264.0 L237.5,262.7 L238.0,261.4 L238.5,260.1 L239.0,258.8 L239.5,257.6 L240.0,256.3 L240.5,255.1 L241.0,253.9 L241.5,252.7 L242.0,251.6 L242.5,250.5 L243.0,249.4 L243.5,248.3 L244.0,247.3 L244.5,246.3 L245.0,245.4 L245.5,244.5 L246.0,243.7 L246.5,242.9 L247.0,242.1 L247.5,241.4 L248.0,240.7 L248.5,240.0 L249.0,239.4 L249.5,238.8 L250.0,238.3 L250.5,237.7 L251.0,237.2 L251.5,236.7 L252.0,236.3 L252.5,235.8 L253.0,235.4 L253.5,235.0 L254.0,234.6 L254.5,234.2 L255.0,233.9 L255.5,233.6 L256.0,233.3 L256.5,233.0 L257.0,232.7 L257.5,232.4 L258.0,232.2 L258.5,232.0 L259.0,231.8 L259.5,231.6 L260.0,231.4 L260.5,231.2 L261.0,231.0 L261.5,230.8 L262.0,230.6 L262.5,230.5 L263.0,230.3 L263.5,230.2 L264.0,230.0 L264.5,229.8 L265.0,229.7 L265.5,229.6 L266.0,229.4 L266.5,229.3 L267.0,229.1 L267.5,229.0 L268.0,228.9 L268.5,228.8 L269.0,228.7 L269.5,228.6 L270.0,228.5 L270.5,228.4 L271.0,228.3 L271.5,228.2 L272.0,228.1 L272.5,228.0 L273.0,228.0 L273.5,227.9 L274.0,227.8 L274.5,227.8 L275.0,227.7 L275.5,227.7 L276.0,227.6 L276.5,227.6 L277.0,227.5 L277.5,227.5 L278.0,227.4 L278.5,227.4 L279.0,227.3 L279.5,227.3 L280.0,227.2 L280.5,227.2 L281.0,227.2 L281.5,227.1 L282.0,227.1 L282.5,227.0 L283.0,227.0 L283.5,227.0 L284.0,226.9 L284.5,226.9 L285.0,226.9 L285.5,226.8 L286.0,226.8 L286.5,226.8 L287.0,226.8 L287.5,226.7 L288.0,226.7 L288.5,226.7 L289.0,226.7 L289.5,226.6 L290.0,226.6 L290.5,226.6 L291.0,226.6 L291.5,226.6 L292.0,226.6 L292.5,226.5 L293.0,226.5 L293.5,226.5 L294.0,226.5 L294.5,226.5 L295.0,226.5 L295.5,226.5 L296.0,226.4 L296.5,226.4 L297.0,226.4 L297.5,226.4 L298.0,226.4 L298.5,226.4 L299.0,226.4 L299.5,226.4 L300.0,226.4 L300.5,226.3 L301.0,226.3 L301.5,226.3 L302.0,226.3 L302.5,226.3 L303.0,226.3 L303.5,226.3 L304.0,226.3 L304.5,226.3 L305.0,226.3 L305.5,226.3 L306.0,226.2 L306.5,226.2 L307.0,226.2 L307.5,226.2 L308.0,226.2 L308.5,226.2 L309.0,226.2 L309.5,226.2 L310.0,226.2 L310.5,226.2 L311.0,226.2 L311.5,226.2 L312.0,226.2 L312.5,226.1 L313.0,226.1 L313.5,226.1 L314.0,226.1 L314.5,226.1 L315.0,226.1 L315.5,226.1 L316.0,226.1 L316.5,226.1 L317.0,226.1 L317.5,226.1 L318.0,226.1 L318.5,226.1 L319.0,226.1 L319.5,226.1 L320.0,226.1 L320.5,226.1 L321.0,226.1 L321.5,226.0 L322.0,226.0 L322.5,226.0 L323.0,226.0 L323.5,226.0 L324.0,226.0 L324.5,226.0 L325.0,226.0 L325.5,226.0 L326.0,226.0 L326.5,226.0 L327.0,226.0 L327.5,226.0 L328.0,226.0 L328.5,226.0 L329.0,226.0 L329.5,226.0 L330.0,226.0 L330.5,226.0 L331.0,226.0 L331.5,226.0 L332.0,226.0 L332.5,226.0" fill="none" stroke="#000000" stroke-width="1.5" stroke-linejoin="round" stroke-linecap="butt" stroke-dasharray="1.5 1.3" />
<path d="M32.5,225.3 L33.0,225.3 L33.5,225.3 L34.0,225.3 L34.5,225.3 L35.0,225.3 L35.5,225.3 L36.0,225.3 L36.5,225.3 L37.0,225.3 L37.5,225.3 L38.0,225.3 L38.5,225.3 L39.0,225.3 L39.5,225.3 L40.0,225.3 L40.5,225.3 L41.0,225.3 L41.5,225.3 L42.0,225.3 L42.5,225.3 L43.0,225.3 L43.5,225.3 L44.0,225.3 L44.5,225.3 L45.0,225.3 L45.5,225.3 L46.0,225.3 L46.5,225.3 L47.0,225.3 L47.5,225.3 L48.0,225.3 L48.5,225.3 L49.0,225.3 L49.5,225.3 L50.0,225.3 L50.5,225.3 L51.0,225.3 L51.5,225.3 L52.0,225.3 L52.5,225.3 L53.0,225.3 L53.5,225.3 L54.0,225.3 L54.5,225.3 L55.0,225.3 L55.5,225.3 L56.0,225.4 L56.5,225.4 L57.0,225.4 L57.5,225.4 L58.0,225.4 L58.5,225.4 L59.0,225.4 L59.5,225.4 L60.0,225.4 L60.5,225.4 L61.0,225.4 L61.5,225.4 L62.0,225.4 L62.5,225.4 L63.0,225.4 L63.5,225.4 L64.0,225.4 L64.5,225.4 L65.0,225.4 L65.5,225.4 L66.0,225.4 L66.5,225.4 L67.0,225.4 L67.5,225.4 L68.0,225.4 L68.5,225.4 L69.0,225.4 L69.5,225.4 L70.0,225.4 L70.5,225.4 L71.0,225.4 L71.5,225.4 L72.0,225.4 L72.5,225.5 L73.0,225.5 L73.5,225.5 L74.0,225.5 L74.5,225.5 L75.0,225.5 L75.5,225.5 L76.0,225.5 L76.5,225.5 L77.0,225.5 L77.5,225.5 L78.0,225.5 L78.5,225.5 L79.0,225.5 L79.5,225.5 L80.0,225.5 L80.5,225.5 L81.0,225.5 L81.5,225.5 L82.0,225.5 L82.5,225.5 L83.0,225.5 L83.5,225.6 L84.0,225.6 L84.5,225.6 L85.0,225.6 L85.5,225.6 L86.0,225.6 L86.5,225.6 L87.0,225.6 L87.5,225.6 L88.0,225.6 L88.5,225.6 L89.0,225.6 L89.5,225.6 L90.0,225.6 L90.5,225.6 L91.0,225.6 L91.5,225.6 L92.0,225.7 L92.5,225.7 L93.0,225.7 L93.5,225.7 L94.0,225.7 L94.5,225.7 L95.0,225.7 L95.5,225.7 L96.0,225.7 L96.5,225.7 L97.0,225.7 L97.5,225.7 L98.0,225.7 L98.5,225.7 L99.0,225.7 L99.5,225.8 L100.0,225.8 L100.5,225.8 L101.0,225.8 L101.5,225.8 L102.0,225.8 L102.5,225.8 L103.0,225.8 L103.5,225.8 L104.0,225.8 L104.5,225.8 L105.0,225.8 L105.5,225.8 L106.0,225.9 L106.5,225.9 L107.0,225.9 L107.5,225.9 L108.0,225.9 L108.5,225.9 L109.0,225.9 L109.5,225.9 L110.0,225.9 L110.5,225.9 L111.0,225.9 L111.5,225.9 L112.0,226.0 L112.5,226.0 L113.0,226.0 L113.5,226.0 L114.0,226.0 L114.5,226.0 L115.0,226.0 L115.5,226.0 L116.0,226.0 L116.5,226.0 L117.0,226.0 L117.5,226.1 L118.0,226.1 L118.5,226.1 L119.0,226.1 L119.5,226.1 L120.0,226.1 L120.5,226.1 L121.0,226.1 L121.5,226.1 L122.0,226.1 L122.5,226.2 L123.0,226.2 L123.5,226.2 L124.0,226.2 L124.5,226.2 L125.0,226.2 L125.5,226.2 L126.0,226.2 L126.5,226.2 L127.0,226.3 L127.5,226.3 L128.0,226.3 L128.5,226.3 L129.0,226.3 L129.5,226.3 L130.0,226.3 L130.5,226.3 L131.0,226.3 L131.5,226.4 L132.0,226.4 L132.5,226.4 L133.0,226.4 L133.5,226.4 L134.0,226.4 L134.5,226.4 L135.0,226.4 L135.5,226.5 L136.0,226.5 L136.5,226.5 L137.0,226.5 L137.5,226.5 L138.0,226.5 L138.5,226.5 L139.0,226.5 L139.5,226.6 L140.0,226.6 L140.5,226.6 L141.0,226.6 L141.5,226.6 L142.0,226.6 L142.5,226.6 L143.0,226.6 L143.5,226.7 L144.0,226.7 L144.5,226.7 L145.0,226.7 L145.5,226.7 L146.0,226.7 L146.5,226.7 L147.0,226.8 L147.5,226.8 L148.0,226.8 L148.5,226.8 L149.0,226.8 L149.5,226.8 L150.0,226.8 L150.5,226.9 L151.0,226.9 L151.5,226.9 L152.0,226.9 L152.5,226.9 L153.0,226.9 L153.5,227.0 L154.0,227.0 L154.5,227.0 L155.0,227.0 L155.5,227.0 L156.0,227.0 L156.5,227.0 L157.0,227.1 L157.5,227.1 L158.0,227.1 L158.5,227.1 L159.0,227.1 L159.5,227.1 L160.0,227.2 L160.5,227.2 L161.0,227.2 L161.5,227.2 L162.0,227.2 L162.5,227.2 L163.0,227.3 L163.5,227.3 L164.0,227.3 L164.5,227.3 L165.0,227.3 L165.5,227.3 L166.0,227.4 L166.5,227.4 L167.0,227.4 L167.5,227.4 L168.0,227.4 L168.5,227.5 L169.0,227.5 L169.5,227.5 L170.0,227.5 L170.5,227.6 L171.0,227.6 L171.5,227.6 L172.0,227.6 L172.5,227.7 L173.0,227.7 L173.5,227.8 L174.0,227.8 L174.5,227.9 L175.0,227.9 L175.5,228.0 L176.0,228.0 L176.5,228.1 L177.0,228.2 L177.5,228.2 L178.0,228.3 L178.5,228.4 L179.0,228.5 L179.5,228.5 L180.0,228.6 L180.5,228.7 L181.0,228.8 L181.5,228.9 L182.0,229.0 L182.5,229.1 L183.0,229.2 L183.5,229.3 L184.0,229.4 L184.5,229.5 L185.0,229.6 L185.5,229.7 L186.0,229.8 L186.5,229.9 L187.0,230.0 L187.5,230.1 L188.0,230.2 L188.5,230.3 L189.0,230.4 L189.5,230.5 L190.0,230.6 L190.5,230.7 L191.0,230.8 L191.5,231.0 L192.0,231.1 L192.5,231.2 L193.0,231.3 L193.5,231.4 L194.0,231.5 L194.5,231.6 L195.0,231.8 L195.5,231.9 L196.0,232.0 L196.5,232.1 L197.0,232.3 L197.5,232.4 L198.0,232.5 L198.5,232.6 L199.0,232.8 L199.5,232.9 L200.0,233.1 L200.5,233.2 L201.0,233.4 L201.5,233.5 L202.0,233.7 L202.5,233.8 L203.0,234.0 L203.5,234.1 L204.0,234.3 L204.5,234.5 L205.0,234.6 L205.5,234.8 L206.0,235.0 L206.5,235.2 L207.0,235.4 L207.5,235.6 L208.0,235.8 L208.5,236.0 L209.0,236.2 L209.5,236.4 L210.0,236.6 L210.5,236.8 L211.0,237.0 L211.5,237.3 L212.0,237.5 L212.5,237.7 L213.0,238.0 L213.5,238.2 L214.0,238.5 L214.5,238.7 L215.0,239.0 L215.5,239.3 L216.0,239.5 L216.5,239.8 L217.0,240.1 L217.5,240.4 L218.0,240.6 L218.5,240.9 L219.0,241.2 L219.5,241.5 L220.0,241.8 L220.5,242.1 L221.0,242.4 L221.5,242.7 L222.0,243.0 L222.5,243.3 L223.0,243.6 L223.5,243.9 L224.0,244.2 L224.5,244.6 L225.0,244.9 L225.5,245.2 L226.0,245.6 L226.5,245.9 L227.0,246.3 L227.5,246.6 L228.0,247.0 L228.5,247.4 L229.0,247.7 L229.5,248.1 L230.0,248.5 L230.5,248.9 L231.0,249.3 L231.5,249.7 L232.0,250.2 L232.5,250.6 L233.0,251.1 L233.5,251.5 L234.0,252.0 L234.5,252.5 L235.0,253.0 L235.5,253.5 L236.0,254.0 L236.5,254.5 L237.0,255.0 L237.5,255.6 L238.0,256.1 L238.5,256.7 L239.0,257.3 L239.5,257.9 L240.0,258.5 L240.5,259.2 L241.0,259.8 L241.5,260.5 L242.0,261.2 L242.5,262.0 L243.0,262.7 L243.5,263.5 L244.0,264.3 L244.5,265.2 L245.0,266.1 L245.5,267.0 L246.0,268.0 L246.5,269.0 L247.0,270.1 L247.5,271.2 L248.0,272.3 L248.5,273.4 L249.0,274.5 L249.5,275.7 L250.0,276.8 L250.5,278.0 L251.0,279.1 L251.5,280.2 L252.0,281.4 L252.5,282.5 L253.0,283.6 L253.5,284.7 L254.0,285.9 L254.5,287.1 L255.0,288.3 L255.5,289.5 L256.0,290.9 L256.5,292.3 L257.0,293.7 L257.5,295.3 L258.0,297.0 L258.5,298.8 L259.0,300.8 L259.5,302.9 L260.0,305.0 L260.5,307.1 L261.0,309.4 L261.5,311.9 L262.0,314.7 L262.5,317.7 L263.0,320.9 L263.5,324.6 L264.0,328.1 L264.5,331.1 L265.0,333.6 L265.5,335.5 L265.8,336.2 L266.2,334.9 L266.8,333.1 L267.2,330.9 L267.8,328.3 L268.2,325.3 L268.8,322.1 L269.2,319.2 L269.8,316.6 L270.2,314.2 L270.8,311.9 L271.2,309.7 L271.8,307.7 L272.2,305.6 L272.8,303.5 L273.2,301.6 L273.8,299.8 L274.2,298.0 L274.8,296.4 L275.2,294.8 L275.8,293.3 L276.2,291.8 L276.8,290.5 L277.2,289.2 L277.8,287.9 L278.2,286.7 L278.8,285.6 L279.2,284.5 L279.8,283.4 L280.2,282.4 L280.8,281.4 L281.2,280.5 L281.8,279.6 L282.2,278.7 L282.8,277.9 L283.2,277.1 L283.8,276.3 L284.2,275.6 L284.8,274.9 L285.2,274.2 L285.8,273.5 L286.2,272.8 L286.8,272.2 L287.2,271.6 L287.8,271.0 L288.2,270.4 L288.8,269.8 L289.2,269.2 L289.8,268.6 L290.2,268.0 L290.8,267.5 L291.2,266.9 L291.8,266.4 L292.2,265.8 L292.8,265.3 L293.2,264.7 L293.8,264.2 L294.2,263.6 L294.8,263.1 L295.2,262.5 L295.8,262.0 L296.2,261.5 L296.8,261.0 L297.2,260.5 L297.8,260.0 L298.2,259.5 L298.8,259.1 L299.2,258.6 L299.8,258.2 L300.2,257.8 L300.8,257.4 L301.2,257.0 L301.8,256.6 L302.2,256.3 L302.8,255.9 L303.2,255.6 L303.8,255.2 L304.2,254.9 L304.8,254.5 L305.2,254.2 L305.8,253.9 L306.2,253.6 L306.8,253.2 L307.2,252.9 L307.8,252.6 L308.2,252.3 L308.8,252.0 L309.2,251.7 L309.8,251.4 L310.2,251.1 L310.8,250.8 L311.2,250.5 L311.8,250.3 L312.2,250.0 L312.8,249.7 L313.2,249.4 L313.8,249.2 L314.2,248.9 L314.8,248.7 L315.2,248.4 L315.8,248.2 L316.2,248.0 L316.8,247.7 L317.2,247.5 L317.8,247.3 L318.2,247.1 L318.8,246.8 L319.2,246.6 L319.8,246.4 L320.2,246.2 L320.8,246.0 L321.2,245.8 L321.8,245.6 L322.2,245.4 L322.8,245.2 L323.2,245.1 L323.8,244.9 L324.2,244.7 L324.8,244.5 L325.2,244.4 L325.8,244.2 L326.2,244.0 L326.8,243.9 L327.2,243.7 L327.8,243.6 L328.2,243.4 L328.8,243.3 L329.2,243.2 L329.8,243.1 L330.2,242.9 L330.8,242.8 L331.2,242.7 L331.8,242.7 L332.2,242.6 L332.5,242.5" fill="none" stroke="#000000" stroke-width="2.0" stroke-linejoin="round" stroke-linecap="butt" />
</g>
<text x="25.70" y="378.50" font-size="8.4" font-weight="bold" fill="#000" text-anchor="middle" font-family="Liberation Sans, sans-serif" stroke="#000" stroke-width="0.15" >100</text>
<text x="50.65" y="378.50" font-size="8.4" font-weight="bold" fill="#000" text-anchor="middle" font-family="Liberation Sans, sans-serif" stroke="#000" stroke-width="0.15" >150</text>
<text x="75.60" y="378.50" font-size="8.4" font-weight="bold" fill="#000" text-anchor="middle" font-family="Liberation Sans, sans-serif" stroke="#000" stroke-width="0.15" >200</text>
<text x="100.55" y="378.50" font-size="8.4" font-weight="bold" fill="#000" text-anchor="middle" font-family="Liberation Sans, sans-serif" stroke="#000" stroke-width="0.15" >250</text>
<text x="125.50" y="378.50" font-size="8.4" font-weight="bold" fill="#000" text-anchor="middle" font-family="Liberation Sans, sans-serif" stroke="#000" stroke-width="0.15" >300</text>
<text x="150.45" y="378.50" font-size="8.4" font-weight="bold" fill="#000" text-anchor="middle" font-family="Liberation Sans, sans-serif" stroke="#000" stroke-width="0.15" >350</text>
<text x="175.40" y="378.50" font-size="8.4" font-weight="bold" fill="#000" text-anchor="middle" font-family="Liberation Sans, sans-serif" stroke="#000" stroke-width="0.15" >400</text>
<text x="200.35" y="378.50" font-size="8.4" font-weight="bold" fill="#000" text-anchor="middle" font-family="Liberation Sans, sans-serif" stroke="#000" stroke-width="0.15" >450</text>
<text x="225.30" y="378.50" font-size="8.4" font-weight="bold" fill="#000" text-anchor="middle" font-family="Liberation Sans, sans-serif" stroke="#000" stroke-width="0.15" >500</text>
<text x="250.25" y="378.50" font-size="8.4" font-weight="bold" fill="#000" text-anchor="middle" font-family="Liberation Sans, sans-serif" stroke="#000" stroke-width="0.15" >550</text>
<text x="275.20" y="378.50" font-size="8.4" font-weight="bold" fill="#000" text-anchor="middle" font-family="Liberation Sans, sans-serif" stroke="#000" stroke-width="0.15" >600</text>
<text x="300.15" y="378.50" font-size="8.4" font-weight="bold" fill="#000" text-anchor="middle" font-family="Liberation Sans, sans-serif" stroke="#000" stroke-width="0.15" >650</text>
<text x="325.10" y="378.50" font-size="8.4" font-weight="bold" fill="#000" text-anchor="middle" font-family="Liberation Sans, sans-serif" stroke="#000" stroke-width="0.15" >700</text>
<text x="27.10" y="228.45" font-size="8.4" font-weight="bold" fill="#000" text-anchor="end" font-family="Liberation Sans, sans-serif" stroke="#000" stroke-width="0.15" >0</text>
<text x="26.70" y="252.12" font-size="8.4" font-weight="bold" fill="#000" text-anchor="end" font-family="Liberation Sans, sans-serif" stroke="#000" stroke-width="0.15" >-5</text>
<text x="23.90" y="275.78" font-size="8.4" font-weight="bold" fill="#000" text-anchor="end" font-family="Liberation Sans, sans-serif" stroke="#000" stroke-width="0.15" >-10</text>
<text x="23.90" y="299.45" font-size="8.4" font-weight="bold" fill="#000" text-anchor="end" font-family="Liberation Sans, sans-serif" stroke="#000" stroke-width="0.15" >-15</text>
<text x="23.90" y="323.12" font-size="8.4" font-weight="bold" fill="#000" text-anchor="end" font-family="Liberation Sans, sans-serif" stroke="#000" stroke-width="0.15" >-20</text>
<text x="23.90" y="346.78" font-size="8.4" font-weight="bold" fill="#000" text-anchor="end" font-family="Liberation Sans, sans-serif" stroke="#000" stroke-width="0.15" >-25</text>
<text x="23.90" y="370.45" font-size="8.4" font-weight="bold" fill="#000" text-anchor="end" font-family="Liberation Sans, sans-serif" stroke="#000" stroke-width="0.15" >-30</text>
<text x="148.50" y="389.80" font-size="8" font-weight="bold" fill="#000" text-anchor="middle" font-family="Liberation Sans, sans-serif" stroke="#000" stroke-width="0.15" textLength="65.7" lengthAdjust="spacingAndGlyphs" >Frequency [MHz]</text>
<text transform="translate(7.7,301) rotate(-90)" font-size="8.8" font-weight="bold" text-anchor="middle" font-family="Liberation Sans, sans-serif" stroke="#000" stroke-width="0.15">S<tspan font-size="6" dy="2.6">11</tspan><tspan dy="-2.6"> [dB]</tspan></text>
<text x="179.10" y="219.00" font-size="13" font-weight="bold" fill="#000" text-anchor="middle" font-family="Liberation Sans, sans-serif" stroke="#000" stroke-width="0.15" textLength="60.6" lengthAdjust="spacingAndGlyphs" >SMV1249</text>
<text x="14.20" y="209.30" font-size="21" font-weight="bold" fill="#000" text-anchor="start" font-family="DejaVu Sans, Liberation Sans, sans-serif" stroke="#000" stroke-width="0.15" >c)</text>
<rect x="37.7" y="275.8" width="82.3" height="89.4" fill="#fff" stroke="#333" stroke-width="0.7"/>
<path d="M37.7,286.3 H120 M79.5,275.8 V286.3" stroke="#333" stroke-width="0.7" fill="none"/>
<text x="59.10" y="282.90" font-size="5" font-weight="bold" fill="#000" text-anchor="middle" font-family="Liberation Sans, sans-serif" stroke="#000" stroke-width="0.15" textLength="29.4" lengthAdjust="spacingAndGlyphs" >Sim. FEM 3D</text>
<text x="100.70" y="282.90" font-size="5" font-weight="bold" fill="#000" text-anchor="middle" font-family="Liberation Sans, sans-serif" stroke="#000" stroke-width="0.15" textLength="33.6" lengthAdjust="spacingAndGlyphs" >Measurements</text>
<path d="M39.2,292.1 H49.4" stroke="#0072BD" stroke-width="1.5" stroke-dasharray="1.5 1.3"/>
<path d="M80.4,292.1 H90.6" stroke="#0072BD" stroke-width="2"/>
<text x="50.2" y="295.2" font-size="8.6" font-weight="bold" font-family="Liberation Sans, sans-serif" textLength="27" lengthAdjust="spacingAndGlyphs" stroke="#000" stroke-width="0.2">V<tspan font-size="6.4" dy="2.6">r</tspan><tspan dy="-2.6"> = 0 V</tspan></text>
<text x="91.3" y="295.2" font-size="8.6" font-weight="bold" font-family="Liberation Sans, sans-serif" textLength="27" lengthAdjust="spacingAndGlyphs" stroke="#000" stroke-width="0.2">V<tspan font-size="6.4" dy="2.6">r</tspan><tspan dy="-2.6"> = 0 V</tspan></text>
<path d="M39.2,305 H49.4" stroke="#D95319" stroke-width="1.5" stroke-dasharray="1.5 1.3"/>
<path d="M80.4,305 H90.6" stroke="#D95319" stroke-width="2"/>
<text x="50.2" y="308.1" font-size="8.6" font-weight="bold" font-family="Liberation Sans, sans-serif" textLength="27" lengthAdjust="spacingAndGlyphs" stroke="#000" stroke-width="0.2">V<tspan font-size="6.4" dy="2.6">r</tspan><tspan dy="-2.6"> = 1 V</tspan></text>
<text x="91.3" y="308.1" font-size="8.6" font-weight="bold" font-family="Liberation Sans, sans-serif" textLength="27" lengthAdjust="spacingAndGlyphs" stroke="#000" stroke-width="0.2">V<tspan font-size="6.4" dy="2.6">r</tspan><tspan dy="-2.6"> = 1 V</tspan></text>
<path d="M39.2,318 H49.4" stroke="#EDB120" stroke-width="1.5" stroke-dasharray="1.5 1.3"/>
<path d="M80.4,318 H90.6" stroke="#EDB120" stroke-width="2"/>
<text x="50.2" y="321.1" font-size="8.6" font-weight="bold" font-family="Liberation Sans, sans-serif" textLength="27" lengthAdjust="spacingAndGlyphs" stroke="#000" stroke-width="0.2">V<tspan font-size="6.4" dy="2.6">r</tspan><tspan dy="-2.6"> = 2 V</tspan></text>
<text x="91.3" y="321.1" font-size="8.6" font-weight="bold" font-family="Liberation Sans, sans-serif" textLength="27" lengthAdjust="spacingAndGlyphs" stroke="#000" stroke-width="0.2">V<tspan font-size="6.4" dy="2.6">r</tspan><tspan dy="-2.6"> = 2 V</tspan></text>
<path d="M39.2,330.6 H49.4" stroke="#7E2F8E" stroke-width="1.5" stroke-dasharray="1.5 1.3"/>
<path d="M80.4,330.6 H90.6" stroke="#7E2F8E" stroke-width="2"/>
<text x="50.2" y="333.7" font-size="8.6" font-weight="bold" font-family="Liberation Sans, sans-serif" textLength="27" lengthAdjust="spacingAndGlyphs" stroke="#000" stroke-width="0.2">V<tspan font-size="6.4" dy="2.6">r</tspan><tspan dy="-2.6"> = 3 V</tspan></text>
<text x="91.3" y="333.7" font-size="8.6" font-weight="bold" font-family="Liberation Sans, sans-serif" textLength="27" lengthAdjust="spacingAndGlyphs" stroke="#000" stroke-width="0.2">V<tspan font-size="6.4" dy="2.6">r</tspan><tspan dy="-2.6"> = 3 V</tspan></text>
<path d="M39.2,343 H49.4" stroke="#77AC30" stroke-width="1.5" stroke-dasharray="1.5 1.3"/>
<path d="M80.4,343 H90.6" stroke="#77AC30" stroke-width="2"/>
<text x="50.2" y="346.1" font-size="8.6" font-weight="bold" font-family="Liberation Sans, sans-serif" textLength="27" lengthAdjust="spacingAndGlyphs" stroke="#000" stroke-width="0.2">V<tspan font-size="6.4" dy="2.6">r</tspan><tspan dy="-2.6"> = 4 V</tspan></text>
<text x="91.3" y="346.1" font-size="8.6" font-weight="bold" font-family="Liberation Sans, sans-serif" textLength="27" lengthAdjust="spacingAndGlyphs" stroke="#000" stroke-width="0.2">V<tspan font-size="6.4" dy="2.6">r</tspan><tspan dy="-2.6"> = 4 V</tspan></text>
<path d="M39.2,356 H49.4" stroke="#000000" stroke-width="1.5" stroke-dasharray="1.5 1.3"/>
<path d="M80.4,356 H90.6" stroke="#000000" stroke-width="2"/>
<text x="50.2" y="359.1" font-size="8.6" font-weight="bold" font-family="Liberation Sans, sans-serif" textLength="27" lengthAdjust="spacingAndGlyphs" stroke="#000" stroke-width="0.2">V<tspan font-size="6.4" dy="2.6">r</tspan><tspan dy="-2.6"> = 5 V</tspan></text>
<text x="91.3" y="359.1" font-size="8.6" font-weight="bold" font-family="Liberation Sans, sans-serif" textLength="27" lengthAdjust="spacingAndGlyphs" stroke="#000" stroke-width="0.2">V<tspan font-size="6.4" dy="2.6">r</tspan><tspan dy="-2.6"> = 5 V</tspan></text>
</g>
<g id="chartE1">
<path d="M30.50,434.6 V543.26 M58.90,434.6 V543.26 M87.30,434.6 V543.26 M115.70,434.6 V543.26 M144.10,434.6 V543.26 M172.50,434.6 V543.26 M200.90,434.6 V543.26 M229.30,434.6 V543.26 M257.70,434.6 V543.26 M30.5,434.60 H257.70 M30.5,452.71 H257.70 M30.5,470.82 H257.70 M30.5,488.93 H257.70 M30.5,507.04 H257.70 M30.5,525.15 H257.70 M30.5,543.26 H257.70" stroke="#606060" stroke-width="0.75" fill="none" opacity="0.85"/>
<rect x="30.5" y="434.6" width="227.20" height="108.66" fill="none" stroke="#666" stroke-width="0.75"/>
<g clip-path="url(#clipE1)">
<path d="M30.5,437.4 L30.8,437.6 L31.0,437.9 L31.2,438.1 L31.5,438.5 L31.8,438.8 L32.0,439.2 L32.2,439.7 L32.5,440.2 L32.8,440.8 L33.0,441.4 L33.2,442.1 L33.5,442.9 L33.8,443.8 L34.0,444.7 L34.2,445.8 L34.5,446.9 L34.8,448.1 L35.0,449.3 L35.2,450.5 L35.5,451.6 L35.8,452.6 L36.0,453.5 L36.2,454.2 L36.5,454.6 L36.8,454.8 L37.0,454.9 L37.2,454.8 L37.5,454.6 L37.8,454.2 L38.0,453.5 L38.2,452.6 L38.5,451.6 L38.8,450.5 L39.0,449.3 L39.2,448.1 L39.5,446.9 L39.8,445.8 L40.0,444.7 L40.2,443.8 L40.5,442.9 L40.8,442.1 L41.0,441.4 L41.2,440.8 L41.5,440.2 L41.8,439.7 L42.0,439.2 L42.2,438.8 L42.5,438.5 L42.8,438.1 L43.0,437.9 L43.2,437.6 L43.5,437.4 L43.8,437.2 L44.0,437.0 L44.2,436.8 L44.5,436.6 L44.8,436.5 L45.0,436.4 L45.2,436.3 L45.5,436.1 L45.8,436.0 L46.0,436.0 L46.2,435.9 L46.5,435.8 L46.8,435.7 L47.0,435.7 L47.2,435.6 L47.5,435.6 L47.8,435.5 L48.0,435.5 L48.2,435.4 L48.5,435.4 L48.8,435.3 L49.0,435.3 L49.2,435.3 L49.5,435.2 L49.8,435.2 L50.0,435.2 L50.2,435.2 L50.5,435.1 L50.8,435.1 L51.0,435.1 L51.2,435.1 L51.5,435.0 L51.8,435.0 L52.0,435.0 L52.2,435.0 L52.5,435.0 L52.8,435.0 L53.0,435.0 L53.2,434.9 L53.5,434.9 L53.8,434.9 L54.0,434.9 L54.2,434.9 L54.5,434.9 L54.8,434.9 L55.0,434.9 L55.2,434.9 L55.5,434.8 L55.8,434.8 L56.0,434.8 L56.2,434.8 L56.5,434.8 L56.8,434.8 L57.0,434.8 L57.2,434.8 L57.5,434.8 L57.8,434.8 L58.0,434.8 L58.2,434.8 L58.5,434.8 L58.8,434.8 L59.0,434.8 L59.2,434.8 L59.5,434.8 L59.8,434.8 L60.0,434.7 L60.2,434.7 L60.5,434.7 L60.8,434.7 L61.0,434.7 L61.2,434.7 L61.5,434.7 L61.8,434.7 L62.0,434.7 L62.2,434.7 L62.5,434.7 L62.8,434.7 L63.0,434.7 L63.2,434.7 L63.5,434.7 L63.8,434.7 L64.0,434.7 L64.2,434.7 L64.5,434.7 L64.8,434.7 L65.0,434.7 L65.2,434.7 L65.5,434.7 L65.8,434.7 L66.0,434.7 L66.2,434.7 L66.5,434.7 L66.8,434.7 L68.5,434.7 L70.5,434.7 L72.5,434.7 L74.5,434.6 L76.5,434.6 L78.5,434.6 L80.5,434.6 L82.5,434.6 L84.5,434.6 L86.5,434.6 L88.5,434.6 L90.5,434.6 L92.5,434.6 L94.5,434.6 L96.5,434.6 L98.5,434.6 L100.5,434.6 L102.5,434.6 L104.5,434.6 L106.5,434.6 L108.5,434.6 L110.5,434.6 L112.5,434.6 L114.5,434.6 L116.5,434.6 L118.5,434.6 L120.5,434.6 L122.5,434.6 L124.5,434.6 L126.5,434.6 L128.5,434.6 L130.5,434.6 L132.5,434.6 L134.5,434.6 L136.5,434.6 L138.5,434.6 L140.5,434.6 L142.5,434.6 L144.5,434.6 L146.5,434.6 L148.5,434.6 L150.5,434.6 L152.5,434.6 L154.5,434.6 L156.5,434.6 L158.5,434.6 L160.5,434.6 L162.5,434.6 L164.5,434.6 L166.5,434.6 L168.5,434.6 L170.5,434.6 L172.5,434.6 L174.5,434.6 L176.5,434.6 L178.5,434.6 L180.5,434.6 L182.5,434.6 L184.5,434.6 L186.5,434.6 L188.5,434.6 L190.5,434.6 L192.5,434.6 L194.5,434.6 L196.5,434.6 L198.5,434.6 L200.5,434.6 L202.5,434.6 L204.5,434.6 L206.5,434.6 L208.5,434.6 L210.5,434.6 L212.5,434.6 L214.5,434.6 L216.5,434.6 L218.5,434.6 L220.5,434.6 L222.5,434.6 L224.5,434.6 L226.5,434.6 L228.5,434.6 L230.5,434.6 L232.5,434.6 L234.5,434.6 L236.5,434.6 L238.5,434.6 L240.5,434.6 L242.5,434.6 L244.5,434.6 L246.5,434.6 L248.5,434.6 L250.5,434.6 L252.5,434.6 L254.5,434.6 L256.5,434.6 L257.5,434.6" fill="none" stroke="#0072BD" stroke-width="2.2" stroke-linejoin="round" stroke-linecap="butt" />
<path d="M30.5,434.8 L30.8,434.8 L31.0,434.8 L31.2,434.8 L31.5,434.8 L31.8,434.8 L32.0,434.8 L32.2,434.8 L32.5,434.8 L32.8,434.8 L33.0,434.8 L33.2,434.8 L33.5,434.8 L33.8,434.8 L34.0,434.8 L34.2,434.8 L34.5,434.8 L34.8,434.8 L35.0,434.8 L35.2,434.8 L35.5,434.8 L35.8,434.9 L36.0,434.9 L36.2,434.9 L36.5,434.9 L36.8,434.9 L37.0,434.9 L37.2,434.9 L37.5,434.9 L37.8,434.9 L38.0,434.9 L38.2,434.9 L38.5,434.9 L38.8,435.0 L39.0,435.0 L39.2,435.0 L39.5,435.0 L39.8,435.0 L40.0,435.0 L40.2,435.0 L40.5,435.0 L40.8,435.1 L41.0,435.1 L41.2,435.1 L41.5,435.1 L41.8,435.1 L42.0,435.1 L42.2,435.2 L42.5,435.2 L42.8,435.2 L43.0,435.2 L43.2,435.3 L43.5,435.3 L43.8,435.3 L44.0,435.3 L44.2,435.4 L44.5,435.4 L44.8,435.4 L45.0,435.5 L45.2,435.5 L45.5,435.6 L45.8,435.6 L46.0,435.6 L46.2,435.7 L46.5,435.7 L46.8,435.8 L47.0,435.9 L47.2,435.9 L47.5,436.0 L47.8,436.1 L48.0,436.2 L48.2,436.2 L48.5,436.3 L48.8,436.4 L49.0,436.5 L49.2,436.7 L49.5,436.8 L49.8,436.9 L50.0,437.1 L50.2,437.2 L50.5,437.4 L50.8,437.6 L51.0,437.8 L51.2,438.1 L51.5,438.3 L51.8,438.6 L52.0,438.9 L52.2,439.3 L52.5,439.7 L52.8,440.1 L53.0,440.6 L53.2,441.1 L53.5,441.7 L53.8,442.3 L54.0,443.1 L54.2,443.9 L54.5,444.8 L54.8,445.8 L55.0,446.9 L55.2,448.2 L55.5,449.6 L55.8,451.1 L56.0,452.8 L56.2,454.6 L56.5,456.6 L56.8,458.6 L57.0,460.7 L57.2,462.8 L57.5,464.8 L57.8,466.5 L58.0,467.9 L58.2,468.8 L58.5,469.3 L58.8,469.4 L59.0,469.3 L59.2,468.8 L59.5,467.9 L59.8,466.5 L60.0,464.8 L60.2,462.8 L60.5,460.7 L60.8,458.6 L61.0,456.6 L61.2,454.6 L61.5,452.8 L61.8,451.1 L62.0,449.6 L62.2,448.2 L62.5,446.9 L62.8,445.8 L63.0,444.8 L63.2,443.9 L63.5,443.1 L63.8,442.3 L64.0,441.7 L64.2,441.1 L64.5,440.6 L64.8,440.1 L65.0,439.7 L65.2,439.3 L65.5,438.9 L65.8,438.6 L66.0,438.3 L66.2,438.1 L66.5,437.8 L66.8,437.6 L67.0,437.4 L67.2,437.2 L67.5,437.1 L67.8,436.9 L68.0,436.8 L68.2,436.7 L68.5,436.5 L68.8,436.4 L69.0,436.3 L69.2,436.2 L69.5,436.2 L69.8,436.1 L70.0,436.0 L70.2,435.9 L70.5,435.9 L70.8,435.8 L71.0,435.7 L71.2,435.7 L71.5,435.6 L71.8,435.6 L72.0,435.6 L72.2,435.5 L72.5,435.5 L72.8,435.4 L73.0,435.4 L73.2,435.4 L73.5,435.3 L73.8,435.3 L74.0,435.3 L74.2,435.3 L74.5,435.2 L74.8,435.2 L75.0,435.2 L75.2,435.2 L75.5,435.1 L75.8,435.1 L76.0,435.1 L76.2,435.1 L76.5,435.1 L76.8,435.1 L77.0,435.0 L77.2,435.0 L77.5,435.0 L77.8,435.0 L78.0,435.0 L78.2,435.0 L78.5,435.0 L78.8,435.0 L79.0,434.9 L79.2,434.9 L79.5,434.9 L79.8,434.9 L80.0,434.9 L80.2,434.9 L80.5,434.9 L80.8,434.9 L81.0,434.9 L81.2,434.9 L81.5,434.9 L81.8,434.9 L82.0,434.8 L82.2,434.8 L82.5,434.8 L82.8,434.8 L83.0,434.8 L83.2,434.8 L83.5,434.8 L83.8,434.8 L84.0,434.8 L84.2,434.8 L84.5,434.8 L84.8,434.8 L85.0,434.8 L85.2,434.8 L85.5,434.8 L85.8,434.8 L86.0,434.8 L86.2,434.8 L86.5,434.8 L86.8,434.8 L87.0,434.8 L87.2,434.8 L87.5,434.7 L87.8,434.7 L88.0,434.7 L88.2,434.7 L88.5,434.7 L90.5,434.7 L92.5,434.7 L94.5,434.7 L96.5,434.7 L98.5,434.7 L100.5,434.7 L102.5,434.7 L104.5,434.6 L106.5,434.6 L108.5,434.6 L110.5,434.6 L112.5,434.6 L114.5,434.6 L116.5,434.6 L118.5,434.6 L120.5,434.6 L122.5,434.6 L124.5,434.6 L126.5,434.6 L128.5,434.6 L130.5,434.6 L132.5,434.6 L134.5,434.6 L136.5,434.6 L138.5,434.6 L140.5,434.6 L142.5,434.6 L144.5,434.6 L146.5,434.6 L148.5,434.6 L150.5,434.6 L152.5,434.6 L154.5,434.6 L156.5,434.6 L158.5,434.6 L160.5,434.6 L162.5,434.6 L164.5,434.6 L166.5,434.6 L168.5,434.6 L170.5,434.6 L172.5,434.6 L174.5,434.6 L176.5,434.6 L178.5,434.6 L180.5,434.6 L182.5,434.6 L184.5,434.6 L186.5,434.6 L188.5,434.6 L190.5,434.6 L192.5,434.6 L194.5,434.6 L196.5,434.6 L198.5,434.6 L200.5,434.6 L202.5,434.6 L204.5,434.6 L206.5,434.6 L208.5,434.6 L210.5,434.6 L212.5,434.6 L214.5,434.6 L216.5,434.6 L218.5,434.6 L220.5,434.6 L222.5,434.6 L224.5,434.6 L226.5,434.6 L228.5,434.6 L230.5,434.6 L232.5,434.6 L234.5,434.6 L236.5,434.6 L238.5,434.6 L240.5,434.6 L242.5,434.6 L244.5,434.6 L246.5,434.6 L248.5,434.6 L250.5,434.6 L252.5,434.6 L254.5,434.6 L256.5,434.6 L257.5,434.6" fill="none" stroke="#D95319" stroke-width="2.2" stroke-linejoin="round" stroke-linecap="butt" />
<path d="M30.5,434.5 L32.5,434.5 L34.5,434.5 L36.5,434.5 L38.5,434.5 L40.5,434.5 L42.5,434.5 L44.5,434.5 L46.5,434.5 L48.5,434.5 L50.5,434.6 L52.5,434.6 L54.5,434.6 L56.5,434.6 L58.5,434.7 L60.5,434.7 L60.8,434.7 L61.0,434.7 L61.2,434.8 L61.5,434.8 L61.8,434.8 L62.0,434.8 L62.2,434.8 L62.5,434.8 L62.8,434.8 L63.0,434.8 L63.2,434.8 L63.5,434.8 L63.8,434.8 L64.0,434.8 L64.2,434.9 L64.5,434.9 L64.8,434.9 L65.0,434.9 L65.2,434.9 L65.5,434.9 L65.8,434.9 L66.0,434.9 L66.2,435.0 L66.5,435.0 L66.8,435.0 L67.0,435.0 L67.2,435.0 L67.5,435.0 L67.8,435.0 L68.0,435.1 L68.2,435.1 L68.5,435.1 L68.8,435.1 L69.0,435.1 L69.2,435.2 L69.5,435.2 L69.8,435.2 L70.0,435.2 L70.2,435.3 L70.5,435.3 L70.8,435.3 L71.0,435.3 L71.2,435.4 L71.5,435.4 L71.8,435.4 L72.0,435.5 L72.2,435.5 L72.5,435.5 L72.8,435.6 L73.0,435.6 L73.2,435.7 L73.5,435.7 L73.8,435.7 L74.0,435.8 L74.2,435.8 L74.5,435.9 L74.8,436.0 L75.0,436.0 L75.2,436.1 L75.5,436.1 L75.8,436.2 L76.0,436.3 L76.2,436.4 L76.5,436.4 L76.8,436.5 L77.0,436.6 L77.2,436.7 L77.5,436.8 L77.8,436.9 L78.0,437.0 L78.2,437.2 L78.5,437.3 L78.8,437.4 L79.0,437.6 L79.2,437.7 L79.5,437.9 L79.8,438.1 L80.0,438.3 L80.2,438.5 L80.5,438.7 L80.8,438.9 L81.0,439.2 L81.2,439.5 L81.5,439.8 L81.8,440.1 L82.0,440.4 L82.2,440.8 L82.5,441.2 L82.8,441.6 L83.0,442.1 L83.2,442.6 L83.5,443.2 L83.8,443.8 L84.0,444.4 L84.2,445.1 L84.5,445.9 L84.8,446.8 L85.0,447.7 L85.2,448.7 L85.5,449.8 L85.8,451.1 L86.0,452.4 L86.2,453.8 L86.5,455.4 L86.8,457.2 L87.0,459.1 L87.2,461.2 L87.5,463.5 L87.8,466.1 L88.0,468.8 L88.2,471.8 L88.5,475.0 L88.8,478.5 L89.0,482.1 L89.2,485.7 L89.5,489.2 L89.8,492.3 L90.0,494.5 L90.2,495.7 L90.5,496.0 L90.8,495.7 L91.0,494.5 L91.2,492.3 L91.5,489.2 L91.8,485.7 L92.0,482.1 L92.2,478.5 L92.5,475.0 L92.8,471.8 L93.0,468.8 L93.2,466.1 L93.5,463.5 L93.8,461.2 L94.0,459.1 L94.2,457.2 L94.5,455.4 L94.8,453.8 L95.0,452.4 L95.2,451.1 L95.5,449.8 L95.8,448.7 L96.0,447.7 L96.2,446.8 L96.5,445.9 L96.8,445.1 L97.0,444.4 L97.2,443.8 L97.5,443.2 L97.8,442.6 L98.0,442.1 L98.2,441.6 L98.5,441.2 L98.8,440.8 L99.0,440.4 L99.2,440.1 L99.5,439.8 L99.8,439.5 L100.0,439.2 L100.2,438.9 L100.5,438.7 L100.8,438.5 L101.0,438.3 L101.2,438.1 L101.5,437.9 L101.8,437.7 L102.0,437.6 L102.2,437.4 L102.5,437.3 L102.8,437.2 L103.0,437.0 L103.2,436.9 L103.5,436.8 L103.8,436.7 L104.0,436.6 L104.2,436.5 L104.5,436.4 L104.8,436.4 L105.0,436.3 L105.2,436.2 L105.5,436.1 L105.8,436.1 L106.0,436.0 L106.2,436.0 L106.5,435.9 L106.8,435.8 L107.0,435.8 L107.2,435.7 L107.5,435.7 L107.8,435.7 L108.0,435.6 L108.2,435.6 L108.5,435.5 L108.8,435.5 L109.0,435.5 L109.2,435.4 L109.5,435.4 L109.8,435.4 L110.0,435.3 L110.2,435.3 L110.5,435.3 L110.8,435.3 L111.0,435.2 L111.2,435.2 L111.5,435.2 L111.8,435.2 L112.0,435.1 L112.2,435.1 L112.5,435.1 L112.8,435.1 L113.0,435.1 L113.2,435.0 L113.5,435.0 L113.8,435.0 L114.0,435.0 L114.2,435.0 L114.5,435.0 L114.8,435.0 L115.0,434.9 L115.2,434.9 L115.5,434.9 L115.8,434.9 L116.0,434.9 L116.2,434.9 L116.5,434.9 L116.8,434.9 L117.0,434.8 L117.2,434.8 L117.5,434.8 L117.8,434.8 L118.0,434.8 L118.2,434.8 L118.5,434.8 L118.8,434.8 L119.0,434.8 L119.2,434.8 L119.5,434.8 L119.8,434.8 L120.0,434.7 L120.2,434.7 L120.5,434.7 L122.5,434.7 L124.5,434.6 L126.5,434.6 L128.5,434.6 L130.5,434.6 L132.5,434.5 L134.5,434.5 L136.5,434.5 L138.5,434.5 L140.5,434.5 L142.5,434.5 L144.5,434.5 L146.5,434.5 L148.5,434.5 L150.5,434.5 L152.5,434.5 L154.5,434.5 L156.5,434.4 L158.5,434.4 L160.5,434.4 L162.5,434.4 L164.5,434.4 L166.5,434.4 L168.5,434.4 L170.5,434.4 L172.5,434.4 L174.5,434.4 L176.5,434.4 L178.5,434.4 L180.5,434.4 L182.5,434.4 L184.5,434.4 L186.5,434.4 L188.5,434.4 L190.5,434.4 L192.5,434.4 L194.5,434.4 L196.5,434.4 L198.5,434.4 L200.5,434.4 L202.5,434.4 L204.5,434.4 L206.5,434.4 L208.5,434.4 L210.5,434.4 L212.5,434.4 L214.5,434.4 L216.5,434.4 L218.5,434.4 L220.5,434.4 L222.5,434.4 L224.5,434.4 L226.5,434.4 L228.5,434.4 L230.5,434.4 L232.5,434.4 L234.5,434.4 L236.5,434.4 L238.5,434.4 L240.5,434.4 L242.5,434.4 L244.5,434.4 L246.5,434.4 L248.5,434.4 L250.5,434.4 L252.5,434.4 L254.5,434.4 L256.5,434.4 L257.5,434.4" fill="none" stroke="#EDB120" stroke-width="2.2" stroke-linejoin="round" stroke-linecap="butt" />
<path d="M30.5,434.7 L32.5,434.7 L34.5,434.7 L36.5,434.7 L38.5,434.7 L40.5,434.7 L42.5,434.7 L44.5,434.7 L46.5,434.7 L48.5,434.7 L50.5,434.7 L52.5,434.7 L54.5,434.7 L56.5,434.7 L58.5,434.7 L60.5,434.7 L62.5,434.7 L64.5,434.8 L66.5,434.8 L68.5,434.8 L70.5,434.8 L72.5,434.8 L74.5,434.8 L76.5,434.8 L78.5,434.8 L80.5,434.9 L82.5,434.9 L84.5,434.9 L86.5,434.9 L88.5,435.0 L90.5,435.0 L92.5,435.0 L94.5,435.1 L96.5,435.1 L98.5,435.2 L100.5,435.3 L102.5,435.3 L104.5,435.4 L106.5,435.5 L108.5,435.7 L110.5,435.8 L112.5,436.0 L114.2,436.2 L114.5,436.2 L114.8,436.3 L115.0,436.3 L115.2,436.3 L115.5,436.4 L115.8,436.4 L116.0,436.4 L116.2,436.5 L116.5,436.5 L116.8,436.6 L117.0,436.6 L117.2,436.6 L117.5,436.7 L117.8,436.7 L118.0,436.8 L118.2,436.8 L118.5,436.9 L118.8,436.9 L119.0,437.0 L119.2,437.0 L119.5,437.1 L119.8,437.2 L120.0,437.2 L120.2,437.3 L120.5,437.3 L120.8,437.4 L121.0,437.5 L121.2,437.5 L121.5,437.6 L121.8,437.7 L122.0,437.8 L122.2,437.9 L122.5,437.9 L122.8,438.0 L123.0,438.1 L123.2,438.2 L123.5,438.3 L123.8,438.4 L124.0,438.5 L124.2,438.6 L124.5,438.7 L124.8,438.8 L125.0,439.0 L125.2,439.1 L125.5,439.2 L125.8,439.3 L126.0,439.5 L126.2,439.6 L126.5,439.8 L126.8,439.9 L127.0,440.1 L127.2,440.3 L127.5,440.5 L127.8,440.6 L128.0,440.8 L128.2,441.0 L128.5,441.2 L128.8,441.5 L129.0,441.7 L129.2,441.9 L129.5,442.2 L129.8,442.4 L130.0,442.7 L130.2,443.0 L130.5,443.3 L130.8,443.6 L131.0,443.9 L131.2,444.2 L131.5,444.6 L131.8,444.9 L132.0,445.3 L132.2,445.7 L132.5,446.1 L132.8,446.6 L133.0,447.0 L133.2,447.5 L133.5,448.0 L133.8,448.6 L134.0,449.1 L134.2,449.7 L134.5,450.3 L134.8,451.0 L135.0,451.7 L135.2,452.4 L135.5,453.1 L135.8,453.9 L136.0,454.8 L136.2,455.6 L136.5,456.6 L136.8,457.5 L137.0,458.6 L137.2,459.7 L137.5,460.8 L137.8,462.0 L138.0,463.3 L138.2,464.6 L138.5,466.1 L138.8,467.6 L139.0,469.2 L139.2,470.9 L139.5,472.7 L139.8,474.7 L140.0,476.7 L140.2,479.0 L140.5,481.3 L140.8,483.9 L141.0,486.7 L141.2,489.6 L141.5,492.9 L141.8,496.4 L142.0,500.3 L142.2,504.6 L142.5,509.2 L142.8,514.3 L143.0,519.8 L143.2,525.4 L143.5,530.6 L143.8,534.4 L144.0,535.9 L144.2,535.8 L144.5,533.8 L144.8,529.7 L145.0,524.3 L145.2,518.7 L145.5,513.3 L145.8,508.3 L146.0,503.7 L146.2,499.5 L146.5,495.7 L146.8,492.2 L147.0,489.0 L147.2,486.1 L147.5,483.4 L147.8,480.8 L148.0,478.5 L148.2,476.3 L148.5,474.3 L148.8,472.4 L149.0,470.6 L149.2,468.9 L149.5,467.3 L149.8,465.8 L150.0,464.4 L150.2,463.0 L150.5,461.8 L150.8,460.6 L151.0,459.4 L151.2,458.4 L151.5,457.3 L151.8,456.4 L152.0,455.5 L152.2,454.6 L152.5,453.8 L152.8,453.0 L153.0,452.2 L153.2,451.5 L153.5,450.9 L153.8,450.2 L154.0,449.6 L154.2,449.0 L154.5,448.5 L154.8,447.9 L155.0,447.4 L155.2,447.0 L155.5,446.5 L155.8,446.1 L156.0,445.6 L156.2,445.2 L156.5,444.9 L156.8,444.5 L157.0,444.2 L157.2,443.8 L157.5,443.5 L157.8,443.2 L158.0,442.9 L158.2,442.6 L158.5,442.4 L158.8,442.1 L159.0,441.9 L159.2,441.6 L159.5,441.4 L159.8,441.2 L160.0,441.0 L160.2,440.8 L160.5,440.6 L160.8,440.4 L161.0,440.2 L161.2,440.1 L161.5,439.9 L161.8,439.8 L162.0,439.6 L162.2,439.5 L162.5,439.3 L162.8,439.2 L163.0,439.1 L163.2,438.9 L163.5,438.8 L163.8,438.7 L164.0,438.6 L164.2,438.5 L164.5,438.4 L164.8,438.3 L165.0,438.2 L165.2,438.1 L165.5,438.0 L165.8,437.9 L166.0,437.8 L166.2,437.8 L166.5,437.7 L166.8,437.6 L167.0,437.5 L167.2,437.5 L167.5,437.4 L167.8,437.3 L168.0,437.3 L168.2,437.2 L168.5,437.1 L168.8,437.1 L169.0,437.0 L169.2,437.0 L169.5,436.9 L169.8,436.9 L170.0,436.8 L170.2,436.8 L170.5,436.7 L170.8,436.7 L171.0,436.6 L171.2,436.6 L171.5,436.6 L171.8,436.5 L172.0,436.5 L172.2,436.4 L172.5,436.4 L172.8,436.4 L173.0,436.3 L173.2,436.3 L173.5,436.3 L173.8,436.2 L174.0,436.2 L174.5,436.1 L176.5,435.9 L178.5,435.7 L180.5,435.6 L182.5,435.5 L184.5,435.4 L186.5,435.3 L188.5,435.2 L190.5,435.2 L192.5,435.1 L194.5,435.1 L196.5,435.0 L198.5,435.0 L200.5,435.0 L202.5,434.9 L204.5,434.9 L206.5,434.9 L208.5,434.9 L210.5,434.8 L212.5,434.8 L214.5,434.8 L216.5,434.8 L218.5,434.8 L220.5,434.8 L222.5,434.8 L224.5,434.7 L226.5,434.7 L228.5,434.7 L230.5,434.7 L232.5,434.7 L234.5,434.7 L236.5,434.7 L238.5,434.7 L240.5,434.7 L242.5,434.7 L244.5,434.7 L246.5,434.7 L248.5,434.7 L250.5,434.7 L252.5,434.7 L254.5,434.7 L256.5,434.7 L257.5,434.7" fill="none" stroke="#7E2F8E" stroke-width="2.2" stroke-linejoin="round" stroke-linecap="butt" />
<path d="M30.5,434.7 L32.5,434.7 L34.5,434.7 L36.5,434.7 L38.5,434.7 L40.5,434.7 L42.5,434.7 L44.5,434.7 L46.5,434.7 L48.5,434.7 L50.5,434.7 L52.5,434.7 L54.5,434.7 L56.5,434.8 L58.5,434.8 L60.5,434.8 L62.5,434.8 L64.5,434.8 L66.5,434.8 L68.5,434.8 L70.5,434.8 L72.5,434.8 L74.5,434.8 L76.5,434.8 L78.5,434.9 L80.5,434.9 L82.5,434.9 L84.5,434.9 L86.5,434.9 L88.5,434.9 L90.5,435.0 L92.5,435.0 L94.5,435.0 L96.5,435.0 L98.5,435.1 L100.5,435.1 L102.5,435.1 L104.5,435.2 L106.5,435.2 L108.5,435.3 L110.5,435.3 L112.5,435.4 L114.5,435.4 L116.5,435.5 L118.5,435.6 L120.5,435.7 L122.5,435.8 L124.5,435.9 L126.5,436.1 L128.5,436.2 L130.5,436.4 L132.5,436.7 L134.5,436.9 L136.5,437.2 L138.5,437.6 L140.5,438.1 L141.2,438.3 L141.5,438.3 L141.8,438.4 L142.0,438.5 L142.2,438.6 L142.5,438.6 L142.8,438.7 L143.0,438.8 L143.2,438.9 L143.5,438.9 L143.8,439.0 L144.0,439.1 L144.2,439.2 L144.5,439.3 L144.8,439.4 L145.0,439.5 L145.2,439.6 L145.5,439.7 L145.8,439.8 L146.0,439.9 L146.2,440.0 L146.5,440.1 L146.8,440.3 L147.0,440.4 L147.2,440.5 L147.5,440.6 L147.8,440.8 L148.0,440.9 L148.2,441.0 L148.5,441.2 L148.8,441.3 L149.0,441.5 L149.2,441.6 L149.5,441.8 L149.8,442.0 L150.0,442.1 L150.2,442.3 L150.5,442.5 L150.8,442.7 L151.0,442.9 L151.2,443.1 L151.5,443.3 L151.8,443.5 L152.0,443.7 L152.2,443.9 L152.5,444.2 L152.8,444.4 L153.0,444.7 L153.2,444.9 L153.5,445.2 L153.8,445.4 L154.0,445.7 L154.2,446.0 L154.5,446.3 L154.8,446.6 L155.0,446.9 L155.2,447.3 L155.5,447.6 L155.8,448.0 L156.0,448.3 L156.2,448.7 L156.5,449.1 L156.8,449.5 L157.0,449.9 L157.2,450.3 L157.5,450.8 L157.8,451.3 L158.0,451.7 L158.2,452.2 L158.5,452.7 L158.8,453.3 L159.0,453.8 L159.2,454.4 L159.5,455.0 L159.8,455.6 L160.0,456.2 L160.2,456.9 L160.5,457.5 L160.8,458.2 L161.0,459.0 L161.2,459.7 L161.5,460.5 L161.8,461.3 L162.0,462.1 L162.2,463.0 L162.5,463.9 L162.8,464.8 L163.0,465.8 L163.2,466.8 L163.5,467.9 L163.8,469.0 L164.0,470.1 L164.2,471.3 L164.5,472.5 L164.8,473.8 L165.0,475.1 L165.2,476.5 L165.5,477.9 L165.8,479.4 L166.0,481.0 L166.2,482.6 L166.5,484.3 L166.8,486.1 L167.0,487.9 L167.2,489.8 L167.5,491.7 L167.8,493.7 L168.0,495.8 L168.2,497.9 L168.5,500.0 L168.8,502.0 L169.0,504.1 L169.2,506.0 L169.5,507.8 L169.8,509.3 L170.0,510.6 L170.2,511.5 L170.5,512.1 L170.8,512.4 L171.0,512.5 L171.2,512.4 L171.5,512.1 L171.8,511.5 L172.0,510.6 L172.2,509.3 L172.5,507.8 L172.8,506.0 L173.0,504.1 L173.2,502.0 L173.5,500.0 L173.8,497.9 L174.0,495.8 L174.2,493.7 L174.5,491.7 L174.8,489.8 L175.0,487.9 L175.2,486.1 L175.5,484.3 L175.8,482.6 L176.0,481.0 L176.2,479.4 L176.5,477.9 L176.8,476.5 L177.0,475.1 L177.2,473.8 L177.5,472.5 L177.8,471.3 L178.0,470.1 L178.2,469.0 L178.5,467.9 L178.8,466.8 L179.0,465.8 L179.2,464.8 L179.5,463.9 L179.8,463.0 L180.0,462.1 L180.2,461.3 L180.5,460.5 L180.8,459.7 L181.0,459.0 L181.2,458.2 L181.5,457.5 L181.8,456.9 L182.0,456.2 L182.2,455.6 L182.5,455.0 L182.8,454.4 L183.0,453.8 L183.2,453.3 L183.5,452.7 L183.8,452.2 L184.0,451.7 L184.2,451.3 L184.5,450.8 L184.8,450.3 L185.0,449.9 L185.2,449.5 L185.5,449.1 L185.8,448.7 L186.0,448.3 L186.2,448.0 L186.5,447.6 L186.8,447.3 L187.0,446.9 L187.2,446.6 L187.5,446.3 L187.8,446.0 L188.0,445.7 L188.2,445.4 L188.5,445.2 L188.8,444.9 L189.0,444.7 L189.2,444.4 L189.5,444.2 L189.8,443.9 L190.0,443.7 L190.2,443.5 L190.5,443.3 L190.8,443.1 L191.0,442.9 L191.2,442.7 L191.5,442.5 L191.8,442.3 L192.0,442.1 L192.2,442.0 L192.5,441.8 L192.8,441.6 L193.0,441.5 L193.2,441.3 L193.5,441.2 L193.8,441.0 L194.0,440.9 L194.2,440.8 L194.5,440.6 L194.8,440.5 L195.0,440.4 L195.2,440.3 L195.5,440.1 L195.8,440.0 L196.0,439.9 L196.2,439.8 L196.5,439.7 L196.8,439.6 L197.0,439.5 L197.2,439.4 L197.5,439.3 L197.8,439.2 L198.0,439.1 L198.2,439.0 L198.5,438.9 L198.8,438.9 L199.0,438.8 L199.2,438.7 L199.5,438.6 L199.8,438.6 L200.0,438.5 L200.2,438.4 L200.5,438.3 L200.8,438.3 L202.5,437.8 L204.5,437.4 L206.5,437.1 L208.5,436.8 L210.5,436.5 L212.5,436.3 L214.5,436.2 L216.5,436.0 L218.5,435.9 L220.5,435.7 L222.5,435.6 L224.5,435.6 L226.5,435.5 L228.5,435.4 L230.5,435.3 L232.5,435.3 L234.5,435.2 L236.5,435.2 L238.5,435.1 L240.5,435.1 L242.5,435.1 L244.5,435.0 L246.5,435.0 L248.5,435.0 L250.5,435.0 L252.5,434.9 L254.5,434.9 L256.5,434.9 L257.5,434.9" fill="none" stroke="#77AC30" stroke-width="2.2" stroke-linejoin="round" stroke-linecap="butt" />
<path d="M30.5,434.7 L32.5,434.7 L34.5,434.7 L36.5,434.7 L38.5,434.7 L40.5,434.7 L42.5,434.7 L44.5,434.7 L46.5,434.7 L48.5,434.8 L50.5,434.8 L52.5,434.8 L54.5,434.8 L56.5,434.8 L58.5,434.8 L60.5,434.8 L62.5,434.8 L64.5,434.8 L66.5,434.8 L68.5,434.8 L70.5,434.8 L72.5,434.8 L74.5,434.9 L76.5,434.9 L78.5,434.9 L80.5,434.9 L82.5,434.9 L84.5,434.9 L86.5,434.9 L88.5,435.0 L90.5,435.0 L92.5,435.0 L94.5,435.0 L96.5,435.0 L98.5,435.1 L100.5,435.1 L102.5,435.1 L104.5,435.2 L106.5,435.2 L108.5,435.2 L110.5,435.3 L112.5,435.3 L114.5,435.4 L116.5,435.5 L118.5,435.5 L120.5,435.6 L122.5,435.7 L124.5,435.8 L126.5,435.9 L128.5,436.0 L130.5,436.1 L132.5,436.3 L134.5,436.4 L136.5,436.6 L138.5,436.9 L140.5,437.1 L142.5,437.4 L144.5,437.8 L146.5,438.2 L148.5,438.7 L150.5,439.3 L151.2,439.5 L151.5,439.6 L151.8,439.7 L152.0,439.8 L152.2,439.9 L152.5,440.0 L152.8,440.1 L153.0,440.2 L153.2,440.3 L153.5,440.4 L153.8,440.5 L154.0,440.6 L154.2,440.7 L154.5,440.8 L154.8,441.0 L155.0,441.1 L155.2,441.2 L155.5,441.3 L155.8,441.5 L156.0,441.6 L156.2,441.7 L156.5,441.9 L156.8,442.0 L157.0,442.2 L157.2,442.3 L157.5,442.5 L157.8,442.6 L158.0,442.8 L158.2,443.0 L158.5,443.1 L158.8,443.3 L159.0,443.5 L159.2,443.7 L159.5,443.9 L159.8,444.1 L160.0,444.3 L160.2,444.5 L160.5,444.7 L160.8,444.9 L161.0,445.2 L161.2,445.4 L161.5,445.7 L161.8,445.9 L162.0,446.2 L162.2,446.4 L162.5,446.7 L162.8,447.0 L163.0,447.2 L163.2,447.5 L163.5,447.8 L163.8,448.2 L164.0,448.5 L164.2,448.8 L164.5,449.1 L164.8,449.5 L165.0,449.8 L165.2,450.2 L165.5,450.6 L165.8,451.0 L166.0,451.4 L166.2,451.8 L166.5,452.2 L166.8,452.7 L167.0,453.1 L167.2,453.6 L167.5,454.1 L167.8,454.6 L168.0,455.1 L168.2,455.6 L168.5,456.2 L168.8,456.7 L169.0,457.3 L169.2,457.9 L169.5,458.5 L169.8,459.1 L170.0,459.8 L170.2,460.5 L170.5,461.1 L170.8,461.9 L171.0,462.6 L171.2,463.4 L171.5,464.2 L171.8,465.0 L172.0,465.8 L172.2,466.7 L172.5,467.6 L172.8,468.5 L173.0,469.4 L173.2,470.4 L173.5,471.4 L173.8,472.5 L174.0,473.6 L174.2,474.7 L174.5,475.9 L174.8,477.1 L175.0,478.3 L175.2,479.6 L175.5,480.9 L175.8,482.3 L176.0,483.7 L176.2,485.1 L176.5,486.6 L176.8,488.1 L177.0,489.7 L177.2,491.3 L177.5,492.9 L177.8,494.6 L178.0,496.2 L178.2,497.8 L178.5,499.5 L178.8,501.0 L179.0,502.5 L179.2,503.9 L179.5,505.2 L179.8,506.3 L180.0,507.2 L180.2,507.9 L180.5,508.4 L180.8,508.7 L181.0,508.8 L181.2,508.9 L181.5,508.8 L181.8,508.6 L182.0,508.2 L182.2,507.6 L182.5,506.8 L182.8,505.8 L183.0,504.7 L183.2,503.4 L183.5,501.9 L183.8,500.4 L184.0,498.8 L184.2,497.2 L184.5,495.5 L184.8,493.9 L185.0,492.3 L185.2,490.7 L185.5,489.1 L185.8,487.5 L186.0,486.0 L186.2,484.5 L186.5,483.1 L186.8,481.7 L187.0,480.4 L187.2,479.1 L187.5,477.8 L187.8,476.6 L188.0,475.4 L188.2,474.3 L188.5,473.1 L188.8,472.1 L189.0,471.0 L189.2,470.0 L189.5,469.1 L189.8,468.1 L190.0,467.2 L190.2,466.3 L190.5,465.5 L190.8,464.6 L191.0,463.8 L191.2,463.1 L191.5,462.3 L191.8,461.6 L192.0,460.9 L192.2,460.2 L192.5,459.5 L192.8,458.9 L193.0,458.2 L193.2,457.6 L193.5,457.1 L193.8,456.5 L194.0,455.9 L194.2,455.4 L194.5,454.9 L194.8,454.4 L195.0,453.9 L195.2,453.4 L195.5,452.9 L195.8,452.5 L196.0,452.1 L196.2,451.6 L196.5,451.2 L196.8,450.8 L197.0,450.4 L197.2,450.1 L197.5,449.7 L197.8,449.3 L198.0,449.0 L198.2,448.7 L198.5,448.3 L198.8,448.0 L199.0,447.7 L199.2,447.4 L199.5,447.1 L199.8,446.9 L200.0,446.6 L200.2,446.3 L200.5,446.1 L200.8,445.8 L201.0,445.6 L201.2,445.3 L201.5,445.1 L201.8,444.9 L202.0,444.6 L202.2,444.4 L202.5,444.2 L202.8,444.0 L203.0,443.8 L203.2,443.6 L203.5,443.4 L203.8,443.3 L204.0,443.1 L204.2,442.9 L204.5,442.7 L204.8,442.6 L205.0,442.4 L205.2,442.3 L205.5,442.1 L205.8,442.0 L206.0,441.8 L206.2,441.7 L206.5,441.5 L206.8,441.4 L207.0,441.3 L207.2,441.1 L207.5,441.0 L207.8,440.9 L208.0,440.8 L208.2,440.7 L208.5,440.6 L208.8,440.4 L209.0,440.3 L209.2,440.2 L209.5,440.1 L209.8,440.0 L210.0,439.9 L210.2,439.8 L210.5,439.8 L210.8,439.7 L211.0,439.6 L212.5,439.1 L214.5,438.5 L216.5,438.1 L218.5,437.7 L220.5,437.3 L222.5,437.0 L224.5,436.8 L226.5,436.6 L228.5,436.4 L230.5,436.2 L232.5,436.1 L234.5,436.0 L236.5,435.8 L238.5,435.7 L240.5,435.7 L242.5,435.6 L244.5,435.5 L246.5,435.4 L248.5,435.4 L250.5,435.3 L252.5,435.3 L254.5,435.2 L256.5,435.2 L257.5,435.2" fill="none" stroke="#000000" stroke-width="2.2" stroke-linejoin="round" stroke-linecap="butt" />
</g>
<text x="30.50" y="552.36" font-size="6.8" font-weight="bold" fill="#000" text-anchor="middle" font-family="Liberation Sans, sans-serif" stroke="#000" stroke-width="0.15" >100</text>
<text x="58.90" y="552.36" font-size="6.8" font-weight="bold" fill="#000" text-anchor="middle" font-family="Liberation Sans, sans-serif" stroke="#000" stroke-width="0.15" >150</text>
<text x="87.30" y="552.36" font-size="6.8" font-weight="bold" fill="#000" text-anchor="middle" font-family="Liberation Sans, sans-serif" stroke="#000" stroke-width="0.15" >200</text>
<text x="115.70" y="552.36" font-size="6.8" font-weight="bold" fill="#000" text-anchor="middle" font-family="Liberation Sans, sans-serif" stroke="#000" stroke-width="0.15" >250</text>
<text x="144.10" y="552.36" font-size="6.8" font-weight="bold" fill="#000" text-anchor="middle" font-family="Liberation Sans, sans-serif" stroke="#000" stroke-width="0.15" >300</text>
<text x="172.50" y="552.36" font-size="6.8" font-weight="bold" fill="#000" text-anchor="middle" font-family="Liberation Sans, sans-serif" stroke="#000" stroke-width="0.15" >350</text>
<text x="200.90" y="552.36" font-size="6.8" font-weight="bold" fill="#000" text-anchor="middle" font-family="Liberation Sans, sans-serif" stroke="#000" stroke-width="0.15" >400</text>
<text x="229.30" y="552.36" font-size="6.8" font-weight="bold" fill="#000" text-anchor="middle" font-family="Liberation Sans, sans-serif" stroke="#000" stroke-width="0.15" >450</text>
<text x="257.70" y="552.36" font-size="6.8" font-weight="bold" fill="#000" text-anchor="middle" font-family="Liberation Sans, sans-serif" stroke="#000" stroke-width="0.15" >500</text>
<text x="28.40" y="437.00" font-size="6.8" font-weight="bold" fill="#000" text-anchor="end" font-family="Liberation Sans, sans-serif" stroke="#000" stroke-width="0.15" >0</text>
<text x="28.40" y="455.11" font-size="6.8" font-weight="bold" fill="#000" text-anchor="end" font-family="Liberation Sans, sans-serif" stroke="#000" stroke-width="0.15" >-5</text>
<text x="28.40" y="473.22" font-size="6.8" font-weight="bold" fill="#000" text-anchor="end" font-family="Liberation Sans, sans-serif" stroke="#000" stroke-width="0.15" >-10</text>
<text x="28.40" y="491.33" font-size="6.8" font-weight="bold" fill="#000" text-anchor="end" font-family="Liberation Sans, sans-serif" stroke="#000" stroke-width="0.15" >-15</text>
<text x="28.40" y="509.44" font-size="6.8" font-weight="bold" fill="#000" text-anchor="end" font-family="Liberation Sans, sans-serif" stroke="#000" stroke-width="0.15" >-20</text>
<text x="28.40" y="527.55" font-size="6.8" font-weight="bold" fill="#000" text-anchor="end" font-family="Liberation Sans, sans-serif" stroke="#000" stroke-width="0.15" >-25</text>
<text x="28.40" y="545.66" font-size="6.8" font-weight="bold" fill="#000" text-anchor="end" font-family="Liberation Sans, sans-serif" stroke="#000" stroke-width="0.15" >-30</text>
<text x="144.00" y="561.06" font-size="6.8" font-weight="bold" fill="#000" text-anchor="middle" font-family="Liberation Sans, sans-serif" stroke="#000" stroke-width="0.15" textLength="55.0" lengthAdjust="spacingAndGlyphs" >Frequency [MHz]</text>
<text transform="translate(13.3,488.9) rotate(-90)" font-size="7.3" font-weight="bold" text-anchor="middle" font-family="Liberation Sans, sans-serif">S<tspan font-size="4.8" dy="2">11</tspan><tspan dy="-2"> [dB]</tspan></text>
<text x="144.20" y="429.80" font-size="10.8" font-weight="bold" fill="#000" text-anchor="middle" font-family="Liberation Sans, sans-serif" stroke="#000" stroke-width="0.15" textLength="47.0" lengthAdjust="spacingAndGlyphs" >SMV1255</text>
<rect x="211.5" y="475.3" width="33.8" height="62" fill="#fff" stroke="#333" stroke-width="0.7"/>
<path d="M213.1,481.3 H220.1" stroke="#0072BD" stroke-width="1.8"/>
<text x="221.1" y="483.6" font-size="6.4" font-weight="bold" font-family="Liberation Sans, sans-serif" textLength="21.6" lengthAdjust="spacingAndGlyphs" stroke="#000" stroke-width="0.15">V<tspan font-size="4.8" dy="1.9">r</tspan><tspan dy="-1.9"> = 0 V</tspan></text>
<path d="M213.1,491.5 H220.1" stroke="#D95319" stroke-width="1.8"/>
<text x="221.1" y="493.8" font-size="6.4" font-weight="bold" font-family="Liberation Sans, sans-serif" textLength="21.6" lengthAdjust="spacingAndGlyphs" stroke="#000" stroke-width="0.15">V<tspan font-size="4.8" dy="1.9">r</tspan><tspan dy="-1.9"> = 1 V</tspan></text>
<path d="M213.1,501.6 H220.1" stroke="#EDB120" stroke-width="1.8"/>
<text x="221.1" y="503.9" font-size="6.4" font-weight="bold" font-family="Liberation Sans, sans-serif" textLength="21.6" lengthAdjust="spacingAndGlyphs" stroke="#000" stroke-width="0.15">V<tspan font-size="4.8" dy="1.9">r</tspan><tspan dy="-1.9"> = 2 V</tspan></text>
<path d="M213.1,511.5 H220.1" stroke="#7E2F8E" stroke-width="1.8"/>
<text x="221.1" y="513.8" font-size="6.4" font-weight="bold" font-family="Liberation Sans, sans-serif" textLength="21.6" lengthAdjust="spacingAndGlyphs" stroke="#000" stroke-width="0.15">V<tspan font-size="4.8" dy="1.9">r</tspan><tspan dy="-1.9"> = 3 V</tspan></text>
<path d="M213.1,521.4 H220.1" stroke="#77AC30" stroke-width="1.8"/>
<text x="221.1" y="523.7" font-size="6.4" font-weight="bold" font-family="Liberation Sans, sans-serif" textLength="21.6" lengthAdjust="spacingAndGlyphs" stroke="#000" stroke-width="0.15">V<tspan font-size="4.8" dy="1.9">r</tspan><tspan dy="-1.9"> = 4 V</tspan></text>
<path d="M213.1,531.3 H220.1" stroke="#000000" stroke-width="1.8"/>
<text x="221.1" y="533.6" font-size="6.4" font-weight="bold" font-family="Liberation Sans, sans-serif" textLength="21.6" lengthAdjust="spacingAndGlyphs" stroke="#000" stroke-width="0.15">V<tspan font-size="4.8" dy="1.9">r</tspan><tspan dy="-1.9"> = 5 V</tspan></text>
<text x="11.50" y="417.50" font-size="21" font-weight="bold" fill="#000" text-anchor="start" font-family="DejaVu Sans, Liberation Sans, sans-serif" stroke="#000" stroke-width="0.15" >e)</text>
</g>
<g id="chartE2">
<path d="M286.00,433.9 V541.48 M314.05,433.9 V541.48 M342.10,433.9 V541.48 M370.15,433.9 V541.48 M398.20,433.9 V541.48 M426.25,433.9 V541.48 M454.30,433.9 V541.48 M482.35,433.9 V541.48 M510.40,433.9 V541.48 M286,433.90 H510.40 M286,451.83 H510.40 M286,469.76 H510.40 M286,487.69 H510.40 M286,505.62 H510.40 M286,523.55 H510.40 M286,541.48 H510.40" stroke="#606060" stroke-width="0.75" fill="none" opacity="0.85"/>
<rect x="286" y="433.9" width="224.40" height="107.58" fill="none" stroke="#666" stroke-width="0.75"/>
<g clip-path="url(#clipE2)">
<path d="M286.0,434.0 L288.0,434.0 L290.0,434.0 L292.0,434.0 L294.0,434.1 L296.0,434.1 L298.0,434.1 L300.0,434.1 L302.0,434.2 L302.8,434.2 L303.0,434.2 L303.2,434.2 L303.5,434.2 L303.8,434.2 L304.0,434.2 L304.2,434.2 L304.5,434.2 L304.8,434.3 L305.0,434.3 L305.2,434.3 L305.5,434.3 L305.8,434.3 L306.0,434.3 L306.2,434.3 L306.5,434.3 L306.8,434.3 L307.0,434.3 L307.2,434.3 L307.5,434.4 L307.8,434.4 L308.0,434.4 L308.2,434.4 L308.5,434.4 L308.8,434.4 L309.0,434.4 L309.2,434.4 L309.5,434.5 L309.8,434.5 L310.0,434.5 L310.2,434.5 L310.5,434.5 L310.8,434.5 L311.0,434.6 L311.2,434.6 L311.5,434.6 L311.8,434.6 L312.0,434.6 L312.2,434.7 L312.5,434.7 L312.8,434.7 L313.0,434.7 L313.2,434.7 L313.5,434.8 L313.8,434.8 L314.0,434.8 L314.2,434.9 L314.5,434.9 L314.8,434.9 L315.0,435.0 L315.2,435.0 L315.5,435.0 L315.8,435.1 L316.0,435.1 L316.2,435.2 L316.5,435.2 L316.8,435.3 L317.0,435.3 L317.2,435.4 L317.5,435.4 L317.8,435.5 L318.0,435.5 L318.2,435.6 L318.5,435.7 L318.8,435.8 L319.0,435.8 L319.2,435.9 L319.5,436.0 L319.8,436.1 L320.0,436.2 L320.2,436.3 L320.5,436.4 L320.8,436.5 L321.0,436.7 L321.2,436.8 L321.5,436.9 L321.8,437.1 L322.0,437.3 L322.2,437.5 L322.5,437.6 L322.8,437.9 L323.0,438.1 L323.2,438.3 L323.5,438.6 L323.8,438.9 L324.0,439.2 L324.2,439.5 L324.5,439.8 L324.8,440.2 L325.0,440.6 L325.2,441.1 L325.5,441.6 L325.8,442.1 L326.0,442.7 L326.2,443.4 L326.5,444.1 L326.8,444.8 L327.0,445.7 L327.2,446.6 L327.5,447.6 L327.8,448.7 L328.0,450.0 L328.2,451.4 L328.5,452.9 L328.8,454.5 L329.0,456.4 L329.2,458.5 L329.5,460.8 L329.8,463.3 L330.0,466.2 L330.2,469.4 L330.5,473.1 L330.8,477.3 L331.0,482.0 L331.2,487.6 L331.5,494.1 L331.8,501.8 L332.0,510.9 L332.2,520.9 L332.5,529.0 L332.8,530.7 L333.0,526.3 L333.2,516.9 L333.5,507.1 L333.8,498.5 L334.0,491.4 L334.2,485.3 L334.5,480.1 L334.8,475.5 L335.0,471.6 L335.2,468.1 L335.5,465.0 L335.8,462.3 L336.0,459.8 L336.2,457.6 L336.5,455.6 L336.8,453.9 L337.0,452.2 L337.2,450.8 L337.5,449.5 L337.8,448.3 L338.0,447.2 L338.2,446.2 L338.5,445.3 L338.8,444.5 L339.0,443.8 L339.2,443.1 L339.5,442.5 L339.8,441.9 L340.0,441.4 L340.2,440.9 L340.5,440.5 L340.8,440.1 L341.0,439.7 L341.2,439.3 L341.5,439.0 L341.8,438.7 L342.0,438.5 L342.2,438.2 L342.5,438.0 L342.8,437.8 L343.0,437.6 L343.2,437.4 L343.5,437.2 L343.8,437.0 L344.0,436.9 L344.2,436.7 L344.5,436.6 L344.8,436.5 L345.0,436.4 L345.2,436.3 L345.5,436.2 L345.8,436.1 L346.0,436.0 L346.2,435.9 L346.5,435.8 L346.8,435.7 L347.0,435.6 L347.2,435.6 L347.5,435.5 L347.8,435.5 L348.0,435.4 L348.2,435.3 L348.5,435.3 L348.8,435.2 L349.0,435.2 L349.2,435.1 L349.5,435.1 L349.8,435.1 L350.0,435.0 L350.2,435.0 L350.5,434.9 L350.8,434.9 L351.0,434.9 L351.2,434.8 L351.5,434.8 L351.8,434.8 L352.0,434.8 L352.2,434.7 L352.5,434.7 L352.8,434.7 L353.0,434.7 L353.2,434.6 L353.5,434.6 L353.8,434.6 L354.0,434.6 L354.2,434.6 L354.5,434.5 L354.8,434.5 L355.0,434.5 L355.2,434.5 L355.5,434.5 L355.8,434.5 L356.0,434.4 L356.2,434.4 L356.5,434.4 L356.8,434.4 L357.0,434.4 L357.2,434.4 L357.5,434.4 L357.8,434.4 L358.0,434.4 L358.2,434.3 L358.5,434.3 L358.8,434.3 L359.0,434.3 L359.2,434.3 L359.5,434.3 L359.8,434.3 L360.0,434.3 L360.2,434.3 L360.5,434.3 L360.8,434.3 L361.0,434.2 L361.2,434.2 L361.5,434.2 L361.8,434.2 L362.0,434.2 L362.2,434.2 L362.5,434.2 L364.0,434.2 L366.0,434.1 L368.0,434.1 L370.0,434.1 L372.0,434.1 L374.0,434.0 L376.0,434.0 L378.0,434.0 L380.0,434.0 L382.0,434.0 L384.0,434.0 L386.0,434.0 L388.0,434.0 L390.0,434.0 L392.0,434.0 L394.0,434.0 L396.0,433.9 L398.0,433.9 L400.0,433.9 L402.0,433.9 L404.0,433.9 L406.0,433.9 L408.0,433.9 L410.0,433.9 L412.0,433.9 L414.0,433.9 L416.0,433.9 L418.0,433.9 L420.0,433.9 L422.0,433.9 L424.0,433.9 L426.0,433.9 L428.0,433.9 L430.0,433.9 L432.0,433.9 L434.0,433.9 L436.0,433.9 L438.0,433.9 L440.0,433.9 L442.0,433.9 L444.0,433.9 L446.0,433.9 L448.0,433.9 L450.0,433.9 L452.0,433.9 L454.0,433.9 L456.0,433.9 L458.0,433.9 L460.0,433.9 L462.0,433.9 L464.0,433.9 L466.0,433.9 L468.0,433.9 L470.0,433.9 L472.0,433.9 L474.0,433.9 L476.0,433.9 L478.0,433.9 L480.0,433.9 L482.0,433.9 L484.0,433.9 L486.0,433.9 L488.0,433.9 L490.0,433.9 L492.0,433.9 L494.0,433.9 L496.0,433.9 L498.0,433.9 L500.0,433.9 L502.0,433.9 L504.0,433.9 L506.0,433.9 L508.0,433.9 L510.0,433.9 L510.2,433.9" fill="none" stroke="#0072BD" stroke-width="2.2" stroke-linejoin="round" stroke-linecap="butt" />
<path d="M286.0,433.9 L288.0,433.9 L290.0,433.9 L292.0,434.0 L294.0,434.0 L296.0,434.0 L298.0,434.0 L300.0,434.0 L302.0,434.0 L304.0,434.0 L306.0,434.0 L308.0,434.0 L310.0,434.0 L312.0,434.0 L314.0,434.1 L316.0,434.1 L318.0,434.1 L320.0,434.1 L322.0,434.2 L324.0,434.2 L324.8,434.2 L325.0,434.2 L325.2,434.2 L325.5,434.2 L325.8,434.3 L326.0,434.3 L326.2,434.3 L326.5,434.3 L326.8,434.3 L327.0,434.3 L327.2,434.3 L327.5,434.3 L327.8,434.3 L328.0,434.3 L328.2,434.3 L328.5,434.4 L328.8,434.4 L329.0,434.4 L329.2,434.4 L329.5,434.4 L329.8,434.4 L330.0,434.4 L330.2,434.4 L330.5,434.4 L330.8,434.5 L331.0,434.5 L331.2,434.5 L331.5,434.5 L331.8,434.5 L332.0,434.5 L332.2,434.6 L332.5,434.6 L332.8,434.6 L333.0,434.6 L333.2,434.6 L333.5,434.7 L333.8,434.7 L334.0,434.7 L334.2,434.7 L334.5,434.7 L334.8,434.8 L335.0,434.8 L335.2,434.8 L335.5,434.9 L335.8,434.9 L336.0,434.9 L336.2,435.0 L336.5,435.0 L336.8,435.0 L337.0,435.1 L337.2,435.1 L337.5,435.1 L337.8,435.2 L338.0,435.2 L338.2,435.3 L338.5,435.3 L338.8,435.4 L339.0,435.4 L339.2,435.5 L339.5,435.6 L339.8,435.6 L340.0,435.7 L340.2,435.8 L340.5,435.9 L340.8,435.9 L341.0,436.0 L341.2,436.1 L341.5,436.2 L341.8,436.3 L342.0,436.4 L342.2,436.5 L342.5,436.7 L342.8,436.8 L343.0,436.9 L343.2,437.1 L343.5,437.2 L343.8,437.4 L344.0,437.6 L344.2,437.8 L344.5,438.0 L344.8,438.2 L345.0,438.5 L345.2,438.7 L345.5,439.0 L345.8,439.3 L346.0,439.7 L346.2,440.0 L346.5,440.4 L346.8,440.8 L347.0,441.3 L347.2,441.8 L347.5,442.3 L347.8,442.9 L348.0,443.5 L348.2,444.2 L348.5,445.0 L348.8,445.8 L349.0,446.7 L349.2,447.7 L349.5,448.8 L349.8,450.0 L350.0,451.4 L350.2,452.8 L350.5,454.5 L350.8,456.2 L351.0,458.2 L351.2,460.4 L351.5,462.9 L351.8,465.6 L352.0,468.7 L352.2,472.1 L352.5,476.0 L352.8,480.5 L353.0,485.7 L353.2,491.7 L353.5,498.9 L353.8,507.7 L354.0,518.5 L354.2,530.7 L354.5,539.1 L354.8,538.2 L355.0,528.3 L355.2,516.2 L355.5,505.8 L355.8,497.4 L356.0,490.4 L356.2,484.6 L356.5,479.5 L356.8,475.2 L357.0,471.4 L357.2,468.0 L357.5,465.0 L357.8,462.4 L358.0,460.0 L358.2,457.8 L358.5,455.9 L358.8,454.1 L359.0,452.5 L359.2,451.1 L359.5,449.8 L359.8,448.6 L360.0,447.5 L360.2,446.5 L360.5,445.7 L360.8,444.8 L361.0,444.1 L361.2,443.4 L361.5,442.8 L361.8,442.2 L362.0,441.7 L362.2,441.2 L362.5,440.7 L362.8,440.3 L363.0,439.9 L363.2,439.6 L363.5,439.3 L363.8,439.0 L364.0,438.7 L364.2,438.4 L364.5,438.2 L364.8,438.0 L365.0,437.8 L365.2,437.6 L365.5,437.4 L365.8,437.2 L366.0,437.1 L366.2,436.9 L366.5,436.8 L366.8,436.6 L367.0,436.5 L367.2,436.4 L367.5,436.3 L367.8,436.2 L368.0,436.1 L368.2,436.0 L368.5,435.9 L368.8,435.8 L369.0,435.8 L369.2,435.7 L369.5,435.6 L369.8,435.6 L370.0,435.5 L370.2,435.4 L370.5,435.4 L370.8,435.3 L371.0,435.3 L371.2,435.2 L371.5,435.2 L371.8,435.1 L372.0,435.1 L372.2,435.1 L372.5,435.0 L372.8,435.0 L373.0,434.9 L373.2,434.9 L373.5,434.9 L373.8,434.9 L374.0,434.8 L374.2,434.8 L374.5,434.8 L374.8,434.7 L375.0,434.7 L375.2,434.7 L375.5,434.7 L375.8,434.7 L376.0,434.6 L376.2,434.6 L376.5,434.6 L376.8,434.6 L377.0,434.6 L377.2,434.5 L377.5,434.5 L377.8,434.5 L378.0,434.5 L378.2,434.5 L378.5,434.5 L378.8,434.4 L379.0,434.4 L379.2,434.4 L379.5,434.4 L379.8,434.4 L380.0,434.4 L380.2,434.4 L380.5,434.4 L380.8,434.4 L381.0,434.3 L381.2,434.3 L381.5,434.3 L381.8,434.3 L382.0,434.3 L382.2,434.3 L382.5,434.3 L382.8,434.3 L383.0,434.3 L383.2,434.3 L383.5,434.3 L383.8,434.2 L384.0,434.2 L384.2,434.2 L384.5,434.2 L386.0,434.2 L388.0,434.1 L390.0,434.1 L392.0,434.1 L394.0,434.1 L396.0,434.0 L398.0,434.0 L400.0,434.0 L402.0,434.0 L404.0,434.0 L406.0,434.0 L408.0,434.0 L410.0,434.0 L412.0,434.0 L414.0,434.0 L416.0,434.0 L418.0,434.0 L420.0,433.9 L422.0,433.9 L424.0,433.9 L426.0,433.9 L428.0,433.9 L430.0,433.9 L432.0,433.9 L434.0,433.9 L436.0,433.9 L438.0,433.9 L440.0,433.9 L442.0,433.9 L444.0,433.9 L446.0,433.9 L448.0,433.9 L450.0,433.9 L452.0,433.9 L454.0,433.9 L456.0,433.9 L458.0,433.9 L460.0,433.9 L462.0,433.9 L464.0,433.9 L466.0,433.9 L468.0,433.9 L470.0,433.9 L472.0,433.9 L474.0,433.9 L476.0,433.9 L478.0,433.9 L480.0,433.9 L482.0,433.9 L484.0,433.9 L486.0,433.9 L488.0,433.9 L490.0,433.9 L492.0,433.9 L494.0,433.9 L496.0,433.9 L498.0,433.9 L500.0,433.9 L502.0,433.9 L504.0,433.9 L506.0,433.9 L508.0,433.9 L510.0,433.9 L510.2,433.9" fill="none" stroke="#D95319" stroke-width="2.2" stroke-linejoin="round" stroke-linecap="butt" />
<path d="M286.0,433.9 L288.0,433.9 L290.0,433.9 L292.0,433.9 L294.0,433.9 L296.0,433.9 L298.0,433.9 L300.0,433.9 L302.0,433.9 L304.0,433.9 L306.0,434.0 L308.0,434.0 L310.0,434.0 L312.0,434.0 L314.0,434.0 L316.0,434.0 L318.0,434.0 L320.0,434.0 L322.0,434.0 L324.0,434.0 L326.0,434.0 L328.0,434.0 L330.0,434.1 L332.0,434.1 L334.0,434.1 L336.0,434.1 L338.0,434.2 L340.0,434.2 L342.0,434.3 L342.2,434.3 L342.5,434.3 L342.8,434.3 L343.0,434.3 L343.2,434.3 L343.5,434.3 L343.8,434.3 L344.0,434.3 L344.2,434.3 L344.5,434.3 L344.8,434.4 L345.0,434.4 L345.2,434.4 L345.5,434.4 L345.8,434.4 L346.0,434.4 L346.2,434.4 L346.5,434.4 L346.8,434.4 L347.0,434.5 L347.2,434.5 L347.5,434.5 L347.8,434.5 L348.0,434.5 L348.2,434.5 L348.5,434.6 L348.8,434.6 L349.0,434.6 L349.2,434.6 L349.5,434.6 L349.8,434.6 L350.0,434.7 L350.2,434.7 L350.5,434.7 L350.8,434.7 L351.0,434.8 L351.2,434.8 L351.5,434.8 L351.8,434.8 L352.0,434.9 L352.2,434.9 L352.5,434.9 L352.8,434.9 L353.0,435.0 L353.2,435.0 L353.5,435.1 L353.8,435.1 L354.0,435.1 L354.2,435.2 L354.5,435.2 L354.8,435.3 L355.0,435.3 L355.2,435.4 L355.5,435.4 L355.8,435.5 L356.0,435.5 L356.2,435.6 L356.5,435.6 L356.8,435.7 L357.0,435.8 L357.2,435.9 L357.5,435.9 L357.8,436.0 L358.0,436.1 L358.2,436.2 L358.5,436.3 L358.8,436.4 L359.0,436.5 L359.2,436.6 L359.5,436.7 L359.8,436.9 L360.0,437.0 L360.2,437.2 L360.5,437.3 L360.8,437.5 L361.0,437.7 L361.2,437.9 L361.5,438.1 L361.8,438.3 L362.0,438.5 L362.2,438.8 L362.5,439.0 L362.8,439.3 L363.0,439.7 L363.2,440.0 L363.5,440.4 L363.8,440.8 L364.0,441.2 L364.2,441.6 L364.5,442.1 L364.8,442.7 L365.0,443.3 L365.2,443.9 L365.5,444.6 L365.8,445.4 L366.0,446.2 L366.2,447.1 L366.5,448.1 L366.8,449.2 L367.0,450.3 L367.2,451.6 L367.5,453.0 L367.8,454.6 L368.0,456.3 L368.2,458.2 L368.5,460.3 L368.8,462.5 L369.0,465.1 L369.2,467.9 L369.5,471.0 L369.8,474.5 L370.0,478.4 L370.2,482.7 L370.5,487.7 L370.8,493.2 L371.0,499.3 L371.2,505.6 L371.5,511.5 L371.8,515.4 L372.0,516.4 L372.2,515.4 L372.5,511.5 L372.8,505.6 L373.0,499.3 L373.2,493.2 L373.5,487.7 L373.8,482.7 L374.0,478.4 L374.2,474.5 L374.5,471.0 L374.8,467.9 L375.0,465.1 L375.2,462.5 L375.5,460.3 L375.8,458.2 L376.0,456.3 L376.2,454.6 L376.5,453.0 L376.8,451.6 L377.0,450.3 L377.2,449.2 L377.5,448.1 L377.8,447.1 L378.0,446.2 L378.2,445.4 L378.5,444.6 L378.8,443.9 L379.0,443.3 L379.2,442.7 L379.5,442.1 L379.8,441.6 L380.0,441.2 L380.2,440.8 L380.5,440.4 L380.8,440.0 L381.0,439.7 L381.2,439.3 L381.5,439.0 L381.8,438.8 L382.0,438.5 L382.2,438.3 L382.5,438.1 L382.8,437.9 L383.0,437.7 L383.2,437.5 L383.5,437.3 L383.8,437.2 L384.0,437.0 L384.2,436.9 L384.5,436.7 L384.8,436.6 L385.0,436.5 L385.2,436.4 L385.5,436.3 L385.8,436.2 L386.0,436.1 L386.2,436.0 L386.5,435.9 L386.8,435.9 L387.0,435.8 L387.2,435.7 L387.5,435.6 L387.8,435.6 L388.0,435.5 L388.2,435.5 L388.5,435.4 L388.8,435.4 L389.0,435.3 L389.2,435.3 L389.5,435.2 L389.8,435.2 L390.0,435.1 L390.2,435.1 L390.5,435.1 L390.8,435.0 L391.0,435.0 L391.2,434.9 L391.5,434.9 L391.8,434.9 L392.0,434.9 L392.2,434.8 L392.5,434.8 L392.8,434.8 L393.0,434.8 L393.2,434.7 L393.5,434.7 L393.8,434.7 L394.0,434.7 L394.2,434.6 L394.5,434.6 L394.8,434.6 L395.0,434.6 L395.2,434.6 L395.5,434.6 L395.8,434.5 L396.0,434.5 L396.2,434.5 L396.5,434.5 L396.8,434.5 L397.0,434.5 L397.2,434.4 L397.5,434.4 L397.8,434.4 L398.0,434.4 L398.2,434.4 L398.5,434.4 L398.8,434.4 L399.0,434.4 L399.2,434.4 L399.5,434.3 L399.8,434.3 L400.0,434.3 L400.2,434.3 L400.5,434.3 L400.8,434.3 L401.0,434.3 L401.2,434.3 L401.5,434.3 L401.8,434.3 L402.0,434.3 L404.0,434.2 L406.0,434.2 L408.0,434.1 L410.0,434.1 L412.0,434.1 L414.0,434.1 L416.0,434.0 L418.0,434.0 L420.0,434.0 L422.0,434.0 L424.0,434.0 L426.0,434.0 L428.0,434.0 L430.0,434.0 L432.0,434.0 L434.0,434.0 L436.0,434.0 L438.0,434.0 L440.0,433.9 L442.0,433.9 L444.0,433.9 L446.0,433.9 L448.0,433.9 L450.0,433.9 L452.0,433.9 L454.0,433.9 L456.0,433.9 L458.0,433.9 L460.0,433.9 L462.0,433.9 L464.0,433.9 L466.0,433.9 L468.0,433.9 L470.0,433.9 L472.0,433.9 L474.0,433.9 L476.0,433.9 L478.0,433.9 L480.0,433.9 L482.0,433.9 L484.0,433.9 L486.0,433.9 L488.0,433.9 L490.0,433.9 L492.0,433.9 L494.0,433.9 L496.0,433.9 L498.0,433.9 L500.0,433.9 L502.0,433.9 L504.0,433.9 L506.0,433.9 L508.0,433.9 L510.0,433.9 L510.2,433.9" fill="none" stroke="#EDB120" stroke-width="2.2" stroke-linejoin="round" stroke-linecap="butt" />
<path d="M286.0,433.9 L288.0,433.9 L290.0,433.9 L292.0,433.9 L294.0,433.9 L296.0,433.9 L298.0,434.0 L300.0,434.0 L302.0,434.0 L304.0,434.0 L306.0,434.0 L308.0,434.0 L310.0,434.0 L312.0,434.0 L314.0,434.0 L316.0,434.0 L318.0,434.0 L320.0,434.0 L322.0,434.0 L324.0,434.0 L326.0,434.0 L328.0,434.0 L330.0,434.0 L332.0,434.1 L334.0,434.1 L336.0,434.1 L338.0,434.1 L340.0,434.1 L342.0,434.2 L344.0,434.2 L346.0,434.2 L348.0,434.3 L350.0,434.3 L352.0,434.4 L354.0,434.4 L356.0,434.5 L358.0,434.6 L358.8,434.7 L359.0,434.7 L359.2,434.7 L359.5,434.7 L359.8,434.7 L360.0,434.7 L360.2,434.8 L360.5,434.8 L360.8,434.8 L361.0,434.8 L361.2,434.8 L361.5,434.9 L361.8,434.9 L362.0,434.9 L362.2,434.9 L362.5,435.0 L362.8,435.0 L363.0,435.0 L363.2,435.0 L363.5,435.1 L363.8,435.1 L364.0,435.1 L364.2,435.1 L364.5,435.2 L364.8,435.2 L365.0,435.2 L365.2,435.3 L365.5,435.3 L365.8,435.3 L366.0,435.4 L366.2,435.4 L366.5,435.5 L366.8,435.5 L367.0,435.5 L367.2,435.6 L367.5,435.6 L367.8,435.7 L368.0,435.7 L368.2,435.8 L368.5,435.8 L368.8,435.9 L369.0,436.0 L369.2,436.0 L369.5,436.1 L369.8,436.1 L370.0,436.2 L370.2,436.3 L370.5,436.4 L370.8,436.4 L371.0,436.5 L371.2,436.6 L371.5,436.7 L371.8,436.8 L372.0,436.9 L372.2,437.0 L372.5,437.1 L372.8,437.2 L373.0,437.3 L373.2,437.5 L373.5,437.6 L373.8,437.7 L374.0,437.9 L374.2,438.0 L374.5,438.2 L374.8,438.4 L375.0,438.5 L375.2,438.7 L375.5,438.9 L375.8,439.1 L376.0,439.3 L376.2,439.6 L376.5,439.8 L376.8,440.1 L377.0,440.3 L377.2,440.6 L377.5,440.9 L377.8,441.3 L378.0,441.6 L378.2,442.0 L378.5,442.4 L378.8,442.8 L379.0,443.2 L379.2,443.7 L379.5,444.2 L379.8,444.7 L380.0,445.2 L380.2,445.8 L380.5,446.5 L380.8,447.1 L381.0,447.9 L381.2,448.6 L381.5,449.4 L381.8,450.3 L382.0,451.3 L382.2,452.3 L382.5,453.3 L382.8,454.5 L383.0,455.7 L383.2,457.0 L383.5,458.5 L383.8,460.0 L384.0,461.6 L384.2,463.4 L384.5,465.3 L384.8,467.3 L385.0,469.5 L385.2,471.8 L385.5,474.4 L385.8,477.2 L386.0,480.1 L386.2,483.3 L386.5,486.8 L386.8,490.4 L387.0,494.2 L387.2,498.1 L387.5,501.9 L387.8,505.1 L388.0,507.6 L388.2,508.9 L388.5,509.2 L388.8,508.9 L389.0,507.6 L389.2,505.1 L389.5,501.9 L389.8,498.1 L390.0,494.2 L390.2,490.4 L390.5,486.8 L390.8,483.3 L391.0,480.1 L391.2,477.2 L391.5,474.4 L391.8,471.8 L392.0,469.5 L392.2,467.3 L392.5,465.3 L392.8,463.4 L393.0,461.6 L393.2,460.0 L393.5,458.5 L393.8,457.0 L394.0,455.7 L394.2,454.5 L394.5,453.3 L394.8,452.3 L395.0,451.3 L395.2,450.3 L395.5,449.4 L395.8,448.6 L396.0,447.9 L396.2,447.1 L396.5,446.5 L396.8,445.8 L397.0,445.2 L397.2,444.7 L397.5,444.2 L397.8,443.7 L398.0,443.2 L398.2,442.8 L398.5,442.4 L398.8,442.0 L399.0,441.6 L399.2,441.3 L399.5,440.9 L399.8,440.6 L400.0,440.3 L400.2,440.1 L400.5,439.8 L400.8,439.6 L401.0,439.3 L401.2,439.1 L401.5,438.9 L401.8,438.7 L402.0,438.5 L402.2,438.4 L402.5,438.2 L402.8,438.0 L403.0,437.9 L403.2,437.7 L403.5,437.6 L403.8,437.5 L404.0,437.3 L404.2,437.2 L404.5,437.1 L404.8,437.0 L405.0,436.9 L405.2,436.8 L405.5,436.7 L405.8,436.6 L406.0,436.5 L406.2,436.4 L406.5,436.4 L406.8,436.3 L407.0,436.2 L407.2,436.1 L407.5,436.1 L407.8,436.0 L408.0,436.0 L408.2,435.9 L408.5,435.8 L408.8,435.8 L409.0,435.7 L409.2,435.7 L409.5,435.6 L409.8,435.6 L410.0,435.5 L410.2,435.5 L410.5,435.5 L410.8,435.4 L411.0,435.4 L411.2,435.3 L411.5,435.3 L411.8,435.3 L412.0,435.2 L412.2,435.2 L412.5,435.2 L412.8,435.1 L413.0,435.1 L413.2,435.1 L413.5,435.1 L413.8,435.0 L414.0,435.0 L414.2,435.0 L414.5,435.0 L414.8,434.9 L415.0,434.9 L415.2,434.9 L415.5,434.9 L415.8,434.8 L416.0,434.8 L416.2,434.8 L416.5,434.8 L416.8,434.8 L417.0,434.7 L417.2,434.7 L417.5,434.7 L417.8,434.7 L418.0,434.7 L418.2,434.7 L420.0,434.6 L422.0,434.5 L424.0,434.4 L426.0,434.3 L428.0,434.3 L430.0,434.2 L432.0,434.2 L434.0,434.2 L436.0,434.1 L438.0,434.1 L440.0,434.1 L442.0,434.1 L444.0,434.1 L446.0,434.1 L448.0,434.0 L450.0,434.0 L452.0,434.0 L454.0,434.0 L456.0,434.0 L458.0,434.0 L460.0,434.0 L462.0,434.0 L464.0,434.0 L466.0,434.0 L468.0,434.0 L470.0,434.0 L472.0,434.0 L474.0,434.0 L476.0,434.0 L478.0,434.0 L480.0,433.9 L482.0,433.9 L484.0,433.9 L486.0,433.9 L488.0,433.9 L490.0,433.9 L492.0,433.9 L494.0,433.9 L496.0,433.9 L498.0,433.9 L500.0,433.9 L502.0,433.9 L504.0,433.9 L506.0,433.9 L508.0,433.9 L510.0,433.9 L510.2,433.9" fill="none" stroke="#7E2F8E" stroke-width="2.2" stroke-linejoin="round" stroke-linecap="butt" />
<path d="M286.0,433.9 L288.0,433.9 L290.0,433.9 L292.0,433.9 L294.0,433.9 L296.0,433.9 L298.0,433.9 L300.0,433.9 L302.0,433.9 L304.0,433.9 L306.0,433.9 L308.0,433.9 L310.0,433.9 L312.0,433.9 L314.0,434.0 L316.0,434.0 L318.0,434.0 L320.0,434.0 L322.0,434.0 L324.0,434.0 L326.0,434.0 L328.0,434.0 L330.0,434.0 L332.0,434.0 L334.0,434.0 L336.0,434.0 L338.0,434.0 L340.0,434.0 L342.0,434.0 L344.0,434.0 L346.0,434.1 L348.0,434.1 L350.0,434.1 L352.0,434.1 L354.0,434.1 L356.0,434.2 L358.0,434.2 L360.0,434.2 L362.0,434.3 L364.0,434.3 L366.0,434.4 L368.0,434.4 L370.0,434.5 L371.8,434.6 L372.0,434.6 L372.2,434.6 L372.5,434.7 L372.8,434.7 L373.0,434.7 L373.2,434.7 L373.5,434.7 L373.8,434.7 L374.0,434.8 L374.2,434.8 L374.5,434.8 L374.8,434.8 L375.0,434.8 L375.2,434.9 L375.5,434.9 L375.8,434.9 L376.0,434.9 L376.2,435.0 L376.5,435.0 L376.8,435.0 L377.0,435.0 L377.2,435.1 L377.5,435.1 L377.8,435.1 L378.0,435.2 L378.2,435.2 L378.5,435.2 L378.8,435.3 L379.0,435.3 L379.2,435.3 L379.5,435.4 L379.8,435.4 L380.0,435.5 L380.2,435.5 L380.5,435.5 L380.8,435.6 L381.0,435.6 L381.2,435.7 L381.5,435.7 L381.8,435.8 L382.0,435.8 L382.2,435.9 L382.5,436.0 L382.8,436.0 L383.0,436.1 L383.2,436.2 L383.5,436.2 L383.8,436.3 L384.0,436.4 L384.2,436.5 L384.5,436.6 L384.8,436.6 L385.0,436.7 L385.2,436.8 L385.5,436.9 L385.8,437.0 L386.0,437.2 L386.2,437.3 L386.5,437.4 L386.8,437.5 L387.0,437.7 L387.2,437.8 L387.5,438.0 L387.8,438.1 L388.0,438.3 L388.2,438.5 L388.5,438.7 L388.8,438.9 L389.0,439.1 L389.2,439.3 L389.5,439.5 L389.8,439.8 L390.0,440.0 L390.2,440.3 L390.5,440.6 L390.8,440.9 L391.0,441.2 L391.2,441.6 L391.5,442.0 L391.8,442.4 L392.0,442.8 L392.2,443.2 L392.5,443.7 L392.8,444.2 L393.0,444.7 L393.2,445.3 L393.5,445.9 L393.8,446.6 L394.0,447.3 L394.2,448.0 L394.5,448.8 L394.8,449.7 L395.0,450.6 L395.2,451.6 L395.5,452.6 L395.8,453.7 L396.0,454.9 L396.2,456.2 L396.5,457.6 L396.8,459.1 L397.0,460.7 L397.2,462.4 L397.5,464.3 L397.8,466.2 L398.0,468.4 L398.2,470.7 L398.5,473.1 L398.8,475.8 L399.0,478.6 L399.2,481.6 L399.5,484.8 L399.8,488.2 L400.0,491.7 L400.2,495.1 L400.5,498.3 L400.8,501.0 L401.0,502.9 L401.2,503.9 L401.5,504.2 L401.8,503.9 L402.0,502.9 L402.2,501.0 L402.5,498.3 L402.8,495.1 L403.0,491.7 L403.2,488.2 L403.5,484.8 L403.8,481.6 L404.0,478.6 L404.2,475.8 L404.5,473.1 L404.8,470.7 L405.0,468.4 L405.2,466.2 L405.5,464.3 L405.8,462.4 L406.0,460.7 L406.2,459.1 L406.5,457.6 L406.8,456.2 L407.0,454.9 L407.2,453.7 L407.5,452.6 L407.8,451.6 L408.0,450.6 L408.2,449.7 L408.5,448.8 L408.8,448.0 L409.0,447.3 L409.2,446.6 L409.5,445.9 L409.8,445.3 L410.0,444.7 L410.2,444.2 L410.5,443.7 L410.8,443.2 L411.0,442.8 L411.2,442.4 L411.5,442.0 L411.8,441.6 L412.0,441.2 L412.2,440.9 L412.5,440.6 L412.8,440.3 L413.0,440.0 L413.2,439.8 L413.5,439.5 L413.8,439.3 L414.0,439.1 L414.2,438.9 L414.5,438.7 L414.8,438.5 L415.0,438.3 L415.2,438.1 L415.5,438.0 L415.8,437.8 L416.0,437.7 L416.2,437.5 L416.5,437.4 L416.8,437.3 L417.0,437.2 L417.2,437.0 L417.5,436.9 L417.8,436.8 L418.0,436.7 L418.2,436.6 L418.5,436.6 L418.8,436.5 L419.0,436.4 L419.2,436.3 L419.5,436.2 L419.8,436.2 L420.0,436.1 L420.2,436.0 L420.5,436.0 L420.8,435.9 L421.0,435.8 L421.2,435.8 L421.5,435.7 L421.8,435.7 L422.0,435.6 L422.2,435.6 L422.5,435.5 L422.8,435.5 L423.0,435.5 L423.2,435.4 L423.5,435.4 L423.8,435.3 L424.0,435.3 L424.2,435.3 L424.5,435.2 L424.8,435.2 L425.0,435.2 L425.2,435.1 L425.5,435.1 L425.8,435.1 L426.0,435.0 L426.2,435.0 L426.5,435.0 L426.8,435.0 L427.0,434.9 L427.2,434.9 L427.5,434.9 L427.8,434.9 L428.0,434.8 L428.2,434.8 L428.5,434.8 L428.8,434.8 L429.0,434.8 L429.2,434.7 L429.5,434.7 L429.8,434.7 L430.0,434.7 L430.2,434.7 L430.5,434.7 L430.8,434.6 L431.0,434.6 L431.2,434.6 L432.0,434.6 L434.0,434.5 L436.0,434.4 L438.0,434.3 L440.0,434.3 L442.0,434.2 L444.0,434.2 L446.0,434.2 L448.0,434.1 L450.0,434.1 L452.0,434.1 L454.0,434.1 L456.0,434.1 L458.0,434.1 L460.0,434.0 L462.0,434.0 L464.0,434.0 L466.0,434.0 L468.0,434.0 L470.0,434.0 L472.0,434.0 L474.0,434.0 L476.0,434.0 L478.0,434.0 L480.0,434.0 L482.0,434.0 L484.0,434.0 L486.0,434.0 L488.0,434.0 L490.0,434.0 L492.0,433.9 L494.0,433.9 L496.0,433.9 L498.0,433.9 L500.0,433.9 L502.0,433.9 L504.0,433.9 L506.0,433.9 L508.0,433.9 L510.0,433.9 L510.2,433.9" fill="none" stroke="#77AC30" stroke-width="2.2" stroke-linejoin="round" stroke-linecap="butt" />
<path d="M286.0,433.9 L288.0,433.9 L290.0,433.9 L292.0,433.9 L294.0,433.9 L296.0,433.9 L298.0,433.9 L300.0,433.9 L302.0,433.9 L304.0,434.0 L306.0,434.0 L308.0,434.0 L310.0,434.0 L312.0,434.0 L314.0,434.0 L316.0,434.0 L318.0,434.0 L320.0,434.0 L322.0,434.0 L324.0,434.0 L326.0,434.0 L328.0,434.0 L330.0,434.0 L332.0,434.0 L334.0,434.0 L336.0,434.0 L338.0,434.0 L340.0,434.0 L342.0,434.0 L344.0,434.1 L346.0,434.1 L348.0,434.1 L350.0,434.1 L352.0,434.1 L354.0,434.1 L356.0,434.2 L358.0,434.2 L360.0,434.2 L362.0,434.2 L364.0,434.3 L366.0,434.3 L368.0,434.4 L370.0,434.4 L372.0,434.5 L374.0,434.5 L376.0,434.6 L378.0,434.7 L380.0,434.9 L382.0,435.0 L382.2,435.1 L382.5,435.1 L382.8,435.1 L383.0,435.1 L383.2,435.2 L383.5,435.2 L383.8,435.2 L384.0,435.2 L384.2,435.3 L384.5,435.3 L384.8,435.3 L385.0,435.4 L385.2,435.4 L385.5,435.4 L385.8,435.5 L386.0,435.5 L386.2,435.5 L386.5,435.6 L386.8,435.6 L387.0,435.7 L387.2,435.7 L387.5,435.7 L387.8,435.8 L388.0,435.8 L388.2,435.9 L388.5,435.9 L388.8,436.0 L389.0,436.0 L389.2,436.1 L389.5,436.1 L389.8,436.2 L390.0,436.2 L390.2,436.3 L390.5,436.4 L390.8,436.4 L391.0,436.5 L391.2,436.6 L391.5,436.7 L391.8,436.7 L392.0,436.8 L392.2,436.9 L392.5,437.0 L392.8,437.1 L393.0,437.2 L393.2,437.3 L393.5,437.4 L393.8,437.5 L394.0,437.6 L394.2,437.7 L394.5,437.8 L394.8,437.9 L395.0,438.1 L395.2,438.2 L395.5,438.3 L395.8,438.5 L396.0,438.6 L396.2,438.8 L396.5,439.0 L396.8,439.1 L397.0,439.3 L397.2,439.5 L397.5,439.7 L397.8,439.9 L398.0,440.2 L398.2,440.4 L398.5,440.6 L398.8,440.9 L399.0,441.1 L399.2,441.4 L399.5,441.7 L399.8,442.0 L400.0,442.4 L400.2,442.7 L400.5,443.1 L400.8,443.4 L401.0,443.8 L401.2,444.2 L401.5,444.7 L401.8,445.2 L402.0,445.6 L402.2,446.2 L402.5,446.7 L402.8,447.3 L403.0,447.9 L403.2,448.5 L403.5,449.2 L403.8,449.9 L404.0,450.7 L404.2,451.5 L404.5,452.3 L404.8,453.2 L405.0,454.2 L405.2,455.2 L405.5,456.2 L405.8,457.3 L406.0,458.5 L406.2,459.8 L406.5,461.1 L406.8,462.6 L407.0,464.1 L407.2,465.6 L407.5,467.3 L407.8,469.1 L408.0,471.0 L408.2,473.0 L408.5,475.2 L408.8,477.4 L409.0,479.8 L409.2,482.3 L409.5,484.9 L409.8,487.6 L410.0,490.3 L410.2,493.0 L410.5,495.6 L410.8,497.9 L411.0,499.9 L411.2,501.4 L411.5,502.3 L411.8,502.7 L412.0,502.7 L412.2,502.4 L412.5,501.6 L412.8,500.3 L413.0,498.4 L413.2,496.1 L413.5,493.5 L413.8,490.8 L414.0,488.1 L414.2,485.4 L414.5,482.8 L414.8,480.3 L415.0,477.9 L415.2,475.6 L415.5,473.4 L415.8,471.4 L416.0,469.5 L416.2,467.7 L416.5,466.0 L416.8,464.4 L417.0,462.8 L417.2,461.4 L417.5,460.1 L417.8,458.8 L418.0,457.6 L418.2,456.4 L418.5,455.4 L418.8,454.4 L419.0,453.4 L419.2,452.5 L419.5,451.6 L419.8,450.8 L420.0,450.1 L420.2,449.3 L420.5,448.7 L420.8,448.0 L421.0,447.4 L421.2,446.8 L421.5,446.3 L421.8,445.7 L422.0,445.2 L422.2,444.8 L422.5,444.3 L422.8,443.9 L423.0,443.5 L423.2,443.1 L423.5,442.8 L423.8,442.4 L424.0,442.1 L424.2,441.8 L424.5,441.5 L424.8,441.2 L425.0,440.9 L425.2,440.7 L425.5,440.4 L425.8,440.2 L426.0,440.0 L426.2,439.8 L426.5,439.6 L426.8,439.4 L427.0,439.2 L427.2,439.0 L427.5,438.8 L427.8,438.7 L428.0,438.5 L428.2,438.4 L428.5,438.2 L428.8,438.1 L429.0,438.0 L429.2,437.8 L429.5,437.7 L429.8,437.6 L430.0,437.5 L430.2,437.4 L430.5,437.3 L430.8,437.2 L431.0,437.1 L431.2,437.0 L431.5,436.9 L431.8,436.8 L432.0,436.7 L432.2,436.7 L432.5,436.6 L432.8,436.5 L433.0,436.5 L433.2,436.4 L433.5,436.3 L433.8,436.3 L434.0,436.2 L434.2,436.1 L434.5,436.1 L434.8,436.0 L435.0,436.0 L435.2,435.9 L435.5,435.9 L435.8,435.8 L436.0,435.8 L436.2,435.7 L436.5,435.7 L436.8,435.7 L437.0,435.6 L437.2,435.6 L437.5,435.5 L437.8,435.5 L438.0,435.5 L438.2,435.4 L438.5,435.4 L438.8,435.4 L439.0,435.3 L439.2,435.3 L439.5,435.3 L439.8,435.2 L440.0,435.2 L440.2,435.2 L440.5,435.2 L440.8,435.1 L441.0,435.1 L441.2,435.1 L441.5,435.1 L441.8,435.0 L442.0,435.0 L444.0,434.9 L446.0,434.7 L448.0,434.6 L450.0,434.5 L452.0,434.5 L454.0,434.4 L456.0,434.4 L458.0,434.3 L460.0,434.3 L462.0,434.2 L464.0,434.2 L466.0,434.2 L468.0,434.2 L470.0,434.1 L472.0,434.1 L474.0,434.1 L476.0,434.1 L478.0,434.1 L480.0,434.1 L482.0,434.0 L484.0,434.0 L486.0,434.0 L488.0,434.0 L490.0,434.0 L492.0,434.0 L494.0,434.0 L496.0,434.0 L498.0,434.0 L500.0,434.0 L502.0,434.0 L504.0,434.0 L506.0,434.0 L508.0,434.0 L510.0,434.0 L510.2,434.0" fill="none" stroke="#000000" stroke-width="2.2" stroke-linejoin="round" stroke-linecap="butt" />
</g>
<text x="286.00" y="550.38" font-size="6.5" font-weight="bold" fill="#000" text-anchor="middle" font-family="Liberation Sans, sans-serif" stroke="#000" stroke-width="0.15" >100</text>
<text x="314.05" y="550.38" font-size="6.5" font-weight="bold" fill="#000" text-anchor="middle" font-family="Liberation Sans, sans-serif" stroke="#000" stroke-width="0.15" >150</text>
<text x="342.10" y="550.38" font-size="6.5" font-weight="bold" fill="#000" text-anchor="middle" font-family="Liberation Sans, sans-serif" stroke="#000" stroke-width="0.15" >200</text>
<text x="370.15" y="550.38" font-size="6.5" font-weight="bold" fill="#000" text-anchor="middle" font-family="Liberation Sans, sans-serif" stroke="#000" stroke-width="0.15" >250</text>
<text x="398.20" y="550.38" font-size="6.5" font-weight="bold" fill="#000" text-anchor="middle" font-family="Liberation Sans, sans-serif" stroke="#000" stroke-width="0.15" >300</text>
<text x="426.25" y="550.38" font-size="6.5" font-weight="bold" fill="#000" text-anchor="middle" font-family="Liberation Sans, sans-serif" stroke="#000" stroke-width="0.15" >350</text>
<text x="454.30" y="550.38" font-size="6.5" font-weight="bold" fill="#000" text-anchor="middle" font-family="Liberation Sans, sans-serif" stroke="#000" stroke-width="0.15" >400</text>
<text x="482.35" y="550.38" font-size="6.5" font-weight="bold" fill="#000" text-anchor="middle" font-family="Liberation Sans, sans-serif" stroke="#000" stroke-width="0.15" >450</text>
<text x="510.40" y="550.38" font-size="6.5" font-weight="bold" fill="#000" text-anchor="middle" font-family="Liberation Sans, sans-serif" stroke="#000" stroke-width="0.15" >500</text>
<text x="284.00" y="436.30" font-size="6.5" font-weight="bold" fill="#000" text-anchor="end" font-family="Liberation Sans, sans-serif" stroke="#000" stroke-width="0.15" >0</text>
<text x="284.00" y="454.23" font-size="6.5" font-weight="bold" fill="#000" text-anchor="end" font-family="Liberation Sans, sans-serif" stroke="#000" stroke-width="0.15" >-5</text>
<text x="284.00" y="472.16" font-size="6.5" font-weight="bold" fill="#000" text-anchor="end" font-family="Liberation Sans, sans-serif" stroke="#000" stroke-width="0.15" >-10</text>
<text x="284.00" y="490.09" font-size="6.5" font-weight="bold" fill="#000" text-anchor="end" font-family="Liberation Sans, sans-serif" stroke="#000" stroke-width="0.15" >-15</text>
<text x="284.00" y="508.02" font-size="6.5" font-weight="bold" fill="#000" text-anchor="end" font-family="Liberation Sans, sans-serif" stroke="#000" stroke-width="0.15" >-20</text>
<text x="284.00" y="525.95" font-size="6.5" font-weight="bold" fill="#000" text-anchor="end" font-family="Liberation Sans, sans-serif" stroke="#000" stroke-width="0.15" >-25</text>
<text x="284.00" y="543.88" font-size="6.5" font-weight="bold" fill="#000" text-anchor="end" font-family="Liberation Sans, sans-serif" stroke="#000" stroke-width="0.15" >-30</text>
<text x="398.00" y="559.28" font-size="6.8" font-weight="bold" fill="#000" text-anchor="middle" font-family="Liberation Sans, sans-serif" stroke="#000" stroke-width="0.15" textLength="55.0" lengthAdjust="spacingAndGlyphs" >Frequency [MHz]</text>
<text transform="translate(270.3,487.7) rotate(-90)" font-size="6.4" font-weight="bold" text-anchor="middle" font-family="Liberation Sans, sans-serif">S<tspan font-size="4.8" dy="2">11</tspan><tspan dy="-2"> [dB]</tspan></text>
<text x="398.00" y="429.10" font-size="10.8" font-weight="bold" fill="#000" text-anchor="middle" font-family="Liberation Sans, sans-serif" stroke="#000" stroke-width="0.15" textLength="46.2" lengthAdjust="spacingAndGlyphs" >SMV1236</text>
<rect x="465.1" y="475.6" width="31.5" height="60.1" fill="#fff" stroke="#333" stroke-width="0.7"/>
<path d="M466.70000000000005,480.5 H473.70000000000005" stroke="#0072BD" stroke-width="1.8"/>
<text x="474.70000000000005" y="482.8" font-size="6.4" font-weight="bold" font-family="Liberation Sans, sans-serif" textLength="21.6" lengthAdjust="spacingAndGlyphs" stroke="#000" stroke-width="0.15">V<tspan font-size="4.8" dy="1.9">r</tspan><tspan dy="-1.9"> = 0 V</tspan></text>
<path d="M466.70000000000005,490 H473.70000000000005" stroke="#D95319" stroke-width="1.8"/>
<text x="474.70000000000005" y="492.3" font-size="6.4" font-weight="bold" font-family="Liberation Sans, sans-serif" textLength="21.6" lengthAdjust="spacingAndGlyphs" stroke="#000" stroke-width="0.15">V<tspan font-size="4.8" dy="1.9">r</tspan><tspan dy="-1.9"> = 1 V</tspan></text>
<path d="M466.70000000000005,499.6 H473.70000000000005" stroke="#EDB120" stroke-width="1.8"/>
<text x="474.70000000000005" y="501.9" font-size="6.4" font-weight="bold" font-family="Liberation Sans, sans-serif" textLength="21.6" lengthAdjust="spacingAndGlyphs" stroke="#000" stroke-width="0.15">V<tspan font-size="4.8" dy="1.9">r</tspan><tspan dy="-1.9"> = 2 V</tspan></text>
<path d="M466.70000000000005,509.7 H473.70000000000005" stroke="#7E2F8E" stroke-width="1.8"/>
<text x="474.70000000000005" y="512.0" font-size="6.4" font-weight="bold" font-family="Liberation Sans, sans-serif" textLength="21.6" lengthAdjust="spacingAndGlyphs" stroke="#000" stroke-width="0.15">V<tspan font-size="4.8" dy="1.9">r</tspan><tspan dy="-1.9"> = 3 V</tspan></text>
<path d="M466.70000000000005,519.3 H473.70000000000005" stroke="#77AC30" stroke-width="1.8"/>
<text x="474.70000000000005" y="521.6" font-size="6.4" font-weight="bold" font-family="Liberation Sans, sans-serif" textLength="21.6" lengthAdjust="spacingAndGlyphs" stroke="#000" stroke-width="0.15">V<tspan font-size="4.8" dy="1.9">r</tspan><tspan dy="-1.9"> = 4 V</tspan></text>
<path d="M466.70000000000005,529.4 H473.70000000000005" stroke="#000000" stroke-width="1.8"/>
<text x="474.70000000000005" y="531.7" font-size="6.4" font-weight="bold" font-family="Liberation Sans, sans-serif" textLength="21.6" lengthAdjust="spacingAndGlyphs" stroke="#000" stroke-width="0.15">V<tspan font-size="4.8" dy="1.9">r</tspan><tspan dy="-1.9"> = 5 V</tspan></text>
</g>
<g id="smith">
<g clip-path="url(#clipS)" fill="none" stroke="#969696" stroke-width="0.42">
<circle cx="442.80" cy="304.6" r="59.00"/>
<circle cx="454.60" cy="304.6" r="47.20"/>
<circle cx="466.40" cy="304.6" r="35.40"/>
<circle cx="478.20" cy="304.6" r="23.60"/>
<circle cx="490.00" cy="304.6" r="11.80"/>
<circle cx="499.52" cy="304.6" r="2.28"/>
<circle cx="501.80" cy="-49.40" r="354.00"/>
<circle cx="501.80" cy="658.60" r="354.00"/>
<circle cx="501.80" cy="163.00" r="141.60"/>
<circle cx="501.80" cy="446.20" r="141.60"/>
<circle cx="501.80" cy="233.80" r="70.80"/>
<circle cx="501.80" cy="375.40" r="70.80"/>
<circle cx="501.80" cy="269.20" r="35.40"/>
<circle cx="501.80" cy="340.00" r="35.40"/>
<circle cx="501.80" cy="290.44" r="14.16"/>
<circle cx="501.80" cy="318.76" r="14.16"/>
<circle cx="501.80" cy="302.24" r="2.36"/>
<circle cx="501.80" cy="306.96" r="2.36"/>
<path d="M360.2,304.6 H501.8"/>
</g>
<circle cx="431.0" cy="304.6" r="70.8" fill="none" stroke="#6a6a6a" stroke-width="0.7"/>
<text x="431.70" y="229.00" font-size="8" font-weight="bold" fill="#000" text-anchor="middle" font-family="Liberation Sans, sans-serif" stroke="#000" stroke-width="0.15" >+j1</text>
<text x="379.80" y="245.60" font-size="8" font-weight="bold" fill="#000" text-anchor="middle" font-family="Liberation Sans, sans-serif" stroke="#000" stroke-width="0.15" >+j0.5</text>
<text x="477.40" y="245.60" font-size="8" font-weight="bold" fill="#000" text-anchor="middle" font-family="Liberation Sans, sans-serif" stroke="#000" stroke-width="0.15" >+j2</text>
<text x="355.60" y="277.00" font-size="8" font-weight="bold" fill="#000" text-anchor="middle" font-family="Liberation Sans, sans-serif" stroke="#000" stroke-width="0.15" >+j0.2</text>
<text x="504.00" y="277.00" font-size="8" font-weight="bold" fill="#000" text-anchor="middle" font-family="Liberation Sans, sans-serif" stroke="#000" stroke-width="0.15" >+j5</text>
<text x="511.00" y="298.50" font-size="8" font-weight="bold" fill="#000" text-anchor="middle" font-family="Liberation Sans, sans-serif" stroke="#000" stroke-width="0.15" >+j30</text>
<text x="510.50" y="308.80" font-size="11" font-weight="bold" fill="#000" text-anchor="middle" font-family="Liberation Sans, sans-serif" stroke="#000" stroke-width="0.15" >∞</text>
<text x="511.00" y="316.60" font-size="8" font-weight="bold" fill="#000" text-anchor="middle" font-family="Liberation Sans, sans-serif" stroke="#000" stroke-width="0.15" >-j30</text>
<text x="354.00" y="308.00" font-size="8" font-weight="bold" fill="#000" text-anchor="middle" font-family="Liberation Sans, sans-serif" stroke="#000" stroke-width="0.15" >0.0</text>
<text x="355.60" y="337.70" font-size="8" font-weight="bold" fill="#000" text-anchor="middle" font-family="Liberation Sans, sans-serif" stroke="#000" stroke-width="0.15" >-j0.2</text>
<text x="502.60" y="337.70" font-size="8" font-weight="bold" fill="#000" text-anchor="middle" font-family="Liberation Sans, sans-serif" stroke="#000" stroke-width="0.15" >-j5</text>
<text x="379.80" y="369.50" font-size="8" font-weight="bold" fill="#000" text-anchor="middle" font-family="Liberation Sans, sans-serif" stroke="#000" stroke-width="0.15" >-j0.5</text>
<text x="477.40" y="369.50" font-size="8" font-weight="bold" fill="#000" text-anchor="middle" font-family="Liberation Sans, sans-serif" stroke="#000" stroke-width="0.15" >-j2</text>
<text x="431.70" y="385.80" font-size="8" font-weight="bold" fill="#000" text-anchor="middle" font-family="Liberation Sans, sans-serif" stroke="#000" stroke-width="0.15" >-j1</text>
<path d="M369.0,270.2 L370.2,268.2 L371.4,266.2 L372.7,264.3 L374.0,262.4 L375.5,260.5 L376.9,258.7 L378.5,257.0 L380.1,255.3 L381.7,253.6 L383.4,252.0 L385.2,250.5 L387.0,249.0 L388.8,247.6 L390.7,246.2 L392.7,244.9 L394.7,243.7 L396.7,242.6 L398.8,241.5 L400.9,240.5 L403.0,239.6 L405.2,238.7 L407.4,237.9 L409.6,237.2 L411.8,236.6 L414.1,236.1 L416.4,235.6 L418.7,235.2 L421.0,234.9 L423.3,234.6 L425.6,234.4 L427.9,234.3 L430.2,234.3 L432.5,234.4 L434.8,234.5 L437.1,234.7 L439.4,235.0 L441.7,235.3 L444.0,235.8 L446.2,236.3 L448.5,236.8 L450.7,237.5 L452.8,238.2 L455.0,239.0 L457.1,239.9 L459.2,240.8 L461.3,241.8 L463.3,242.9 L465.3,244.0 L467.3,245.2 L469.2,246.4 L471.1,247.7 L473.0,249.1 L474.8,250.5 L476.5,252.0 L478.2,253.5 L479.9,255.1 L481.5,256.7 L483.0,258.4 L484.5,260.1 L486.0,261.9 L487.3,263.7 L488.7,265.6 L489.9,267.5 L491.1,269.5 L492.2,271.5 L493.3,273.5 L494.3,275.6 L495.2,277.7 L496.0,279.8 L496.8,282.0 L497.5,284.1 L498.2,286.3 L498.7,288.6 L499.2,290.8 L499.6,293.1 L500.0,295.3 L500.2,297.6 L500.4,299.9 L500.6,302.2" fill="none" stroke="#0072BD" stroke-width="2.4" stroke-linejoin="round" stroke-linecap="butt" />
<ellipse cx="397" cy="271" rx="19.5" ry="19.5" fill="none" stroke="#0072BD" stroke-width="2.3"/>
<path d="M369.0,270.2 L370.2,268.2 L371.4,266.2 L372.7,264.3 L374.0,262.4 L375.5,260.5 L376.9,258.7 L378.5,257.0 L380.1,255.3 L381.7,253.6 L383.4,252.0 L385.2,250.5 L387.0,249.0 L388.8,247.6 L390.7,246.2 L392.7,244.9 L394.7,243.7 L396.7,242.6 L398.8,241.5 L400.9,240.5 L403.0,239.6 L405.2,238.7 L407.4,237.9 L409.6,237.2 L411.8,236.6 L414.1,236.1 L416.4,235.6 L418.7,235.2 L421.0,234.9 L423.3,234.6 L425.6,234.4 L427.9,234.3 L430.2,234.3 L432.5,234.4 L434.8,234.5 L437.1,234.7 L439.4,235.0 L441.7,235.3 L444.0,235.8 L446.2,236.3 L448.5,236.8 L450.7,237.5 L452.8,238.2 L455.0,239.0 L457.1,239.9 L459.2,240.8 L461.3,241.8 L463.3,242.9 L465.3,244.0 L467.3,245.2 L469.2,246.4 L471.1,247.7 L473.0,249.1 L474.8,250.5 L476.5,252.0 L478.2,253.5 L479.9,255.1 L481.5,256.7 L483.0,258.4 L484.5,260.1 L486.0,261.9 L487.3,263.7 L488.7,265.6 L489.9,267.5 L491.1,269.5 L492.2,271.5 L493.3,273.5 L494.3,275.6 L495.2,277.7 L496.0,279.8 L496.8,282.0 L497.5,284.1 L498.2,286.3 L498.7,288.6 L499.2,290.8 L499.6,293.1 L500.0,295.3 L500.2,297.6 L500.4,299.9 L500.6,302.2" fill="none" stroke="#D95319" stroke-width="2.4" stroke-linejoin="round" stroke-linecap="butt" />
<ellipse cx="408.7" cy="268.3" rx="23" ry="23" fill="none" stroke="#D95319" stroke-width="2.3"/>
<path d="M369.0,270.2 L370.2,268.2 L371.4,266.2 L372.7,264.3 L374.0,262.4 L375.5,260.5 L376.9,258.7 L378.5,257.0 L380.1,255.3 L381.7,253.6 L383.4,252.0 L385.2,250.5 L387.0,249.0 L388.8,247.6 L390.7,246.2 L392.7,244.9 L394.7,243.7 L396.7,242.6 L398.8,241.5 L400.9,240.5 L403.0,239.6 L405.2,238.7 L407.4,238.0 L409.6,237.3 L411.9,236.7 L414.1,236.1 L416.4,235.6 L418.7,235.2 L421.0,234.9 L423.3,234.7 L425.6,234.5 L427.9,234.4 L430.2,234.4 L432.5,234.5 L434.8,234.6 L437.1,234.8 L439.4,235.1 L441.7,235.5 L443.9,235.9 L446.2,236.4 L448.4,237.0 L450.6,237.6 L452.8,238.4 L454.9,239.2 L457.1,240.0 L459.2,241.0 L461.2,242.0 L463.2,243.0 L465.2,244.2 L467.2,245.4 L469.1,246.6 L471.0,247.9 L472.8,249.2 L474.6,250.6 L476.4,252.1 L478.1,253.6 L479.7,255.2 L481.3,256.8 L482.9,258.5 L484.4,260.2 L485.8,262.0 L487.2,263.9 L488.5,265.7 L489.7,267.6 L490.9,269.6 L492.0,271.6 L493.1,273.6 L494.1,275.7 L495.0,277.8 L495.9,279.9 L496.6,282.0 L497.3,284.2 L498.0,286.4 L498.5,288.6 L499.0,290.8 L499.4,293.1 L499.8,295.4 L500.0,297.6 L500.2,299.9 L500.4,302.2" fill="none" stroke="#EDB120" stroke-width="2.4" stroke-linejoin="round" stroke-linecap="butt" />
<ellipse cx="425.5" cy="270.7" rx="30.5" ry="31.5" fill="none" stroke="#EDB120" stroke-width="2.3"/>
<path d="M369.1,270.3 L370.1,268.4 L371.2,266.6 L372.4,264.9 L373.6,263.1 L374.9,261.4 L376.2,259.8 L377.6,258.1 L379.0,256.6 L380.4,255.0 L382.0,253.5 L383.5,252.1 L385.1,250.7 L386.7,249.3 L388.4,248.0 L390.1,246.8 L391.9,245.6 L393.6,244.5 L395.5,243.4 L397.4,242.4 L399.3,241.5 L401.2,240.7 L403.2,239.9 L405.2,239.2 L407.2,238.5 L409.2,237.9 L411.2,237.3 L413.2,236.9 L415.3,236.4 L417.4,236.1 L419.4,235.8 L421.5,235.5 L423.6,235.4 L425.7,235.2 L427.7,235.2 L429.8,235.2 L431.9,235.3 L434.0,235.4 L436.0,235.6 L438.1,235.9 L440.1,236.2 L442.2,236.6 L444.2,237.0 L446.2,237.5 L448.2,238.1 L450.1,238.7 L452.1,239.4 L454.0,240.1 L455.9,240.9 L457.7,241.8 L459.6,242.6 L461.4,243.5 L463.3,244.4 L465.1,245.4 L466.8,246.4 L468.5,247.5 L470.2,248.7 L471.9,249.9 L473.5,251.1 L475.1,252.4 L476.6,253.8 L478.1,255.2 L479.6,256.6 L481.0,258.1 L482.4,259.6 L483.7,261.1 L485.0,262.7 L486.2,264.4 L487.4,266.0 L488.5,267.7 L489.6,269.5 L490.6,271.3 L491.6,273.1 L492.5,274.9 L493.4,276.7 L494.2,278.6 L494.9,280.5 L495.6,282.4 L496.2,284.4 L496.8,286.3" fill="none" stroke="#7E2F8E" stroke-width="2.4" stroke-linejoin="round" stroke-linecap="butt" />
<ellipse cx="439.7" cy="274.1" rx="31.5" ry="36.3" fill="none" stroke="#7E2F8E" stroke-width="2.3"/>
<path d="M369.1,270.3 L370.1,268.5 L371.2,266.8 L372.3,265.1 L373.4,263.4 L374.7,261.7 L375.9,260.1 L377.2,258.6 L378.6,257.0 L380.0,255.5 L381.4,254.1 L382.9,252.7 L384.4,251.3 L385.9,250.0 L387.5,248.7 L389.2,247.5 L390.8,246.3 L392.5,245.2 L394.3,244.1 L396.1,243.2 L397.9,242.3 L399.8,241.5 L401.7,240.7 L403.6,240.0 L405.5,239.3 L407.4,238.7 L409.3,238.1 L411.3,237.6 L413.3,237.2 L415.2,236.8 L417.2,236.5 L419.2,236.2 L421.2,236.0 L423.2,235.9 L425.2,235.8 L427.2,235.7 L429.2,235.8 L431.1,235.8 L433.1,236.0 L435.1,236.2 L437.1,236.4 L439.0,236.7 L440.9,237.1 L442.9,237.5 L444.8,238.0 L446.7,238.5 L448.5,239.1 L450.4,239.7 L452.2,240.4 L454.0,241.1 L455.8,241.8 L457.6,242.6 L459.4,243.4 L461.2,244.2 L462.9,245.1 L464.6,246.1 L466.3,247.1 L467.9,248.1 L469.5,249.2 L471.1,250.3 L472.7,251.5 L474.2,252.7 L475.7,254.0 L477.1,255.3 L478.5,256.6 L479.9,258.0 L481.2,259.5 L482.5,260.9 L483.7,262.4 L484.9,264.0 L486.0,265.5 L487.1,267.1 L488.2,268.8 L489.2,270.4 L490.2,272.1 L491.1,273.8 L491.9,275.6 L492.8,277.4 L493.5,279.1 L494.2,281.0" fill="none" stroke="#77AC30" stroke-width="2.4" stroke-linejoin="round" stroke-linecap="butt" />
<ellipse cx="440.6" cy="275.0" rx="32.6" ry="37.6" fill="none" stroke="#77AC30" stroke-width="2.3"/>
<path d="M369.1,270.3 L370.1,268.5 L371.1,266.8 L372.2,265.2 L373.3,263.5 L374.5,261.9 L375.7,260.3 L377.0,258.8 L378.3,257.3 L379.7,255.8 L381.1,254.4 L382.5,253.0 L384.0,251.7 L385.5,250.4 L387.0,249.1 L388.6,247.9 L390.2,246.7 L391.9,245.6 L393.6,244.6 L395.4,243.7 L397.1,242.8 L399.0,242.0 L400.8,241.2 L402.6,240.5 L404.5,239.9 L406.4,239.3 L408.3,238.8 L410.2,238.3 L412.1,237.8 L414.0,237.5 L415.9,237.1 L417.9,236.9 L419.8,236.7 L421.7,236.5 L423.7,236.4 L425.6,236.4 L427.5,236.4 L429.5,236.4 L431.4,236.5 L433.3,236.7 L435.2,236.9 L437.1,237.2 L439.0,237.5 L440.8,237.9 L442.7,238.4 L444.5,238.8 L446.3,239.4 L448.1,240.0 L449.9,240.6 L451.7,241.3 L453.4,241.9 L455.2,242.6 L456.9,243.3 L458.7,244.0 L460.4,244.8 L462.0,245.7 L463.7,246.6 L465.3,247.5 L466.9,248.5 L468.5,249.5 L470.0,250.6 L471.5,251.7 L473.0,252.9 L474.4,254.1 L475.8,255.3 L477.2,256.6 L478.5,257.9 L479.8,259.3 L481.1,260.7 L482.3,262.1 L483.5,263.6 L484.6,265.1 L485.7,266.6 L486.7,268.1 L487.7,269.7 L488.7,271.3 L489.6,273.0 L490.5,274.6 L491.3,276.3 L492.1,278.0" fill="none" stroke="#000000" stroke-width="2.8" stroke-linejoin="round" stroke-linecap="butt" />
<ellipse cx="441.4" cy="276" rx="33.7" ry="39" fill="none" stroke="#000000" stroke-width="2.3"/>
<text transform="translate(384.4,303.2) rotate(-90)" font-size="8" font-weight="bold" font-family="Liberation Sans, sans-serif" text-anchor="start">0.2</text>
<text transform="translate(406.9,303.2) rotate(-90)" font-size="8" font-weight="bold" font-family="Liberation Sans, sans-serif" text-anchor="start">0.5</text>
<text transform="translate(429.4,303.2) rotate(-90)" font-size="8" font-weight="bold" font-family="Liberation Sans, sans-serif" text-anchor="start">1</text>
<text transform="translate(453.59999999999997,303.2) rotate(-90)" font-size="8" font-weight="bold" font-family="Liberation Sans, sans-serif" text-anchor="start">2</text>
<text transform="translate(477.9,303.2) rotate(-90)" font-size="8" font-weight="bold" font-family="Liberation Sans, sans-serif" text-anchor="start">5</text>
<text transform="translate(497.59999999999997,303.2) rotate(-90)" font-size="8" font-weight="bold" font-family="Liberation Sans, sans-serif" text-anchor="start">30</text>
<path d="M413.7,276.9 L413.7,284.5 M410.4,278.8 L417.0,282.6 M410.4,282.6 L417.0,278.8 " stroke="#0072BD" stroke-width="1.4" fill="none"/>
<path d="M423.0,281.2 L423.0,288.8 M419.7,283.1 L426.3,286.9 M419.7,286.9 L426.3,283.1 " stroke="#D95319" stroke-width="1.4" fill="none"/>
<path d="M430.8,299.2 L430.8,305.6 M428.0,300.8 L433.6,304.0 M428.0,304.0 L433.6,300.8 " stroke="#EDB120" stroke-width="1.4" fill="none"/>
<path d="M430.9,307.0 L430.9,315.4 M427.3,309.1 L434.5,313.3 M427.3,313.3 L434.5,309.1 " stroke="#000000" stroke-width="1.4" fill="none"/>
<rect x="368.4" y="274" width="23.6" height="7.8" fill="#fff" stroke="#222" stroke-width="0.7"/>
<text x="380.20" y="279.60" font-size="4.3" font-weight="bold" fill="#000" text-anchor="middle" font-family="Liberation Sans, sans-serif" stroke="#000" stroke-width="0.15" textLength="15.0" lengthAdjust="spacingAndGlyphs" >100 MHz</text>
<rect x="475.6" y="307.7" width="24.4" height="7.9" fill="#fff" stroke="#222" stroke-width="0.7"/>
<text x="487.80" y="313.40" font-size="4.3" font-weight="bold" fill="#000" text-anchor="middle" font-family="Liberation Sans, sans-serif" stroke="#000" stroke-width="0.15" textLength="15.0" lengthAdjust="spacingAndGlyphs" >700 MHz</text>
<rect x="398.6" y="327.2" width="68.2" height="31" fill="#fff" stroke="#333" stroke-width="0.7"/>
<path d="M399.9,331.9 H408.2" stroke="#0072BD" stroke-width="2"/>
<text x="408.6" y="334.3" font-size="6.6" font-weight="bold" font-family="Liberation Sans, sans-serif" textLength="21.8" lengthAdjust="spacingAndGlyphs" stroke="#000" stroke-width="0.15">V<tspan font-size="4.9" dy="1.9">r</tspan><tspan dy="-1.9"> = 0 V</tspan></text>
<path d="M399.9,342.3 H408.2" stroke="#D95319" stroke-width="2"/>
<text x="408.6" y="344.7" font-size="6.6" font-weight="bold" font-family="Liberation Sans, sans-serif" textLength="21.8" lengthAdjust="spacingAndGlyphs" stroke="#000" stroke-width="0.15">V<tspan font-size="4.9" dy="1.9">r</tspan><tspan dy="-1.9"> = 1 V</tspan></text>
<path d="M399.9,352.7 H408.2" stroke="#EDB120" stroke-width="2"/>
<text x="408.6" y="355.1" font-size="6.6" font-weight="bold" font-family="Liberation Sans, sans-serif" textLength="21.8" lengthAdjust="spacingAndGlyphs" stroke="#000" stroke-width="0.15">V<tspan font-size="4.9" dy="1.9">r</tspan><tspan dy="-1.9"> = 2 V</tspan></text>
<path d="M434.2,331.9 H442.5" stroke="#7E2F8E" stroke-width="2"/>
<text x="443.2" y="334.3" font-size="6.6" font-weight="bold" font-family="Liberation Sans, sans-serif" textLength="21.8" lengthAdjust="spacingAndGlyphs" stroke="#000" stroke-width="0.15">V<tspan font-size="4.9" dy="1.9">r</tspan><tspan dy="-1.9"> = 3 V</tspan></text>
<path d="M434.2,342.3 H442.5" stroke="#77AC30" stroke-width="2"/>
<text x="443.2" y="344.7" font-size="6.6" font-weight="bold" font-family="Liberation Sans, sans-serif" textLength="21.8" lengthAdjust="spacingAndGlyphs" stroke="#000" stroke-width="0.15">V<tspan font-size="4.9" dy="1.9">r</tspan><tspan dy="-1.9"> = 4 V</tspan></text>
<path d="M434.2,352.7 H442.5" stroke="#000000" stroke-width="2"/>
<text x="443.2" y="355.1" font-size="6.6" font-weight="bold" font-family="Liberation Sans, sans-serif" textLength="21.8" lengthAdjust="spacingAndGlyphs" stroke="#000" stroke-width="0.15">V<tspan font-size="4.9" dy="1.9">r</tspan><tspan dy="-1.9"> = 5 V</tspan></text>
<text x="431.90" y="218.80" font-size="11.2" font-weight="bold" fill="#000" text-anchor="middle" font-family="Liberation Sans, sans-serif" stroke="#000" stroke-width="0.15" textLength="49.0" lengthAdjust="spacingAndGlyphs" >SMV1249</text>
<text x="352.60" y="212.50" font-size="21" font-weight="bold" fill="#000" text-anchor="start" font-family="DejaVu Sans, Liberation Sans, sans-serif" stroke="#000" stroke-width="0.15" >d)</text>
</g>
<g id="circuit" stroke="#000" stroke-width="1.8" fill="none" stroke-linecap="round" stroke-linejoin="round">
<path d="M57,96.5 H123.6 M128.4,96.5 H177 V140.8 H152.4 M146.6,140.8 H116 M90,140.8 H57 V96.5"/>
<path d="M123.4,88.6 V104.8 M128,88.6 V104.8" stroke-width="2"/>
<path d="M9.6,118.8 H17.5 C17.5,112 25.5,112 25.8,118.8 C26,112 33.8,112 34,118.8 C34.2,112 42,112 42.2,118.8 C42.4,112 50.2,112 50.4,118.8 H57"/>
<path d="M90,140.8 L92.3,136 L96.6,146 L100.9,136 L105.2,146 L109.5,136 L113.8,146 L116,140.8" stroke-width="1.6"/>
<path d="M91.8,149.6 L122,135" stroke-width="1.6"/>
<path d="M124.6,133.7 L118.2,134.3 L120.6,138.8 Z" fill="#000" stroke-width="0.8"/>
<path d="M146.8,132.8 V148.6 M151.7,132.8 V148.6" stroke-width="2"/>
<path d="M140.8,148.4 L162.4,134.8" stroke-width="1.6"/>
<path d="M165,133.1 L158.6,134.4 L161.4,138.7 Z" fill="#000" stroke-width="0.8"/>
</g>
<text x="14.4" y="81.3" font-size="21" font-weight="bold" font-family="DejaVu Sans, Liberation Sans, sans-serif">a)</text>
<text x="125" y="82.2" font-size="19" font-family="Liberation Serif, DejaVu Serif, serif" font-weight="bold" font-style="italic" stroke="#000" stroke-width="0.35" textLength="23" lengthAdjust="spacingAndGlyphs">C<tspan dy="5">p</tspan></text>
<text x="20.5" y="135" font-size="19" font-family="Liberation Serif, DejaVu Serif, serif" font-weight="bold" font-style="italic" stroke="#000" stroke-width="0.35" textLength="27" lengthAdjust="spacingAndGlyphs">L<tspan dy="4.5">s</tspan></text>
<text x="67.6" y="127.4" font-size="19" font-family="Liberation Serif, DejaVu Serif, serif" font-weight="bold" font-style="italic" stroke="#000" stroke-width="0.35" textLength="58.5" lengthAdjust="spacingAndGlyphs">R<tspan dy="4.5">s</tspan><tspan dy="-4.5">(V</tspan><tspan dy="4.5">r</tspan><tspan dy="-4.5">)</tspan></text>
<text x="130.2" y="164.9" font-size="19" font-family="Liberation Serif, DejaVu Serif, serif" font-weight="bold" font-style="italic" stroke="#000" stroke-width="0.35" textLength="57" lengthAdjust="spacingAndGlyphs">C<tspan dy="4.5">d</tspan><tspan dy="-4.5">(V</tspan><tspan dy="4.5">r</tspan><tspan dy="-4.5">)</tspan></text>
<text x="177" y="20.5" font-size="21" font-weight="bold" font-family="DejaVu Sans, Liberation Sans, sans-serif">b)</text>
<defs>
<linearGradient id="gbgA" x1="0" y1="1" x2="1" y2="0"><stop offset="0" stop-color="#c6c6c2"/><stop offset="1" stop-color="#dadad6"/></linearGradient>
<linearGradient id="gbgB" x1="0" y1="0" x2="1" y2="1"><stop offset="0" stop-color="#d4d8da"/><stop offset="0.5" stop-color="#d8d8d4"/><stop offset="1" stop-color="#cacac6"/></linearGradient>
<linearGradient id="grn2" x1="1" y1="0" x2="0" y2="1"><stop offset="0" stop-color="#1f7e47"/><stop offset="0.5" stop-color="#1c7643"/><stop offset="1" stop-color="#17683c"/></linearGradient>
<radialGradient id="gbg1" cx="0.5" cy="0.5" r="0.75"><stop offset="0" stop-color="#d2d2ce"/><stop offset="1" stop-color="#bdbdb9"/></radialGradient>
<linearGradient id="rim1" x1="0" y1="0" x2="1" y2="0"><stop offset="0" stop-color="#5a3a22"/><stop offset="0.5" stop-color="#7a5a3a"/><stop offset="1" stop-color="#c9a878"/></linearGradient>
<linearGradient id="hole1" x1="0" y1="0" x2="1" y2="1"><stop offset="0" stop-color="#4a3222"/><stop offset="0.5" stop-color="#7a5c40"/><stop offset="1" stop-color="#b8a488"/></linearGradient>
<linearGradient id="rim2" x1="0" y1="0" x2="1" y2="1"><stop offset="0" stop-color="#d8d08a"/><stop offset="1" stop-color="#c8c080"/></linearGradient>
</defs>
<g clip-path="url(#clipP1)">
<rect x="207" y="1" width="153" height="152" fill="url(#gbgA)"/>
<g filter="url(#b06)">
<ellipse cx="281.8" cy="76.2" rx="76.2" ry="74.4" fill="url(#rim1)"/>
<ellipse cx="282.6" cy="75.6" rx="74" ry="72.6" fill="#1a7050"/>
<ellipse cx="283" cy="76.5" rx="50.5" ry="49.5" fill="#196e4e" stroke="#155e40" stroke-width="1"/>
<ellipse cx="283.4" cy="77.2" rx="36.2" ry="35.6" fill="#14553a"/>
<ellipse cx="283.6" cy="77.5" rx="34" ry="33.4" fill="url(#hole1)"/>
<ellipse cx="284" cy="77.8" rx="32.2" ry="31.7" fill="#d3d3cf"/>
<circle cx="333.3" cy="56.2" r="1" fill="#0a2a1a"/><circle cx="232.7" cy="96.4" r="1" fill="#0a2a1a"/>
</g>
<g fill="#e8f0ea" font-family="Liberation Sans, sans-serif" font-size="2.6" text-anchor="middle" opacity="0.85">
<text x="283.5" y="8">Meta</text><text x="283.5" y="12">surface</text>
<text x="283.5" y="117.5" font-size="2">ONERA - DEMR - 2021 - V1.0 - SMV1249</text>
<text transform="translate(257,136) rotate(14)" font-size="6.2" font-style="italic" letter-spacing="0.4">ONERA</text>
<text transform="translate(318,138) rotate(-22)" font-size="4.6" font-style="italic">Lemie</text>
</g>
<path d="M238,135 L272,144 M243,139 L270,146.5 M296,131 L301,143 L306,134 L299,139 L309,141" stroke="#e8f0ea" stroke-width="0.5" fill="none" opacity="0.8"/>
<g fill="none" stroke-width="1.7" filter="url(#b03)">
<path d="M281.9,25 L284.9,27.2 M284.0,24.4 L282.7,27.6" stroke="#9ad0b8" stroke-width="0.7"/>
<path d="M281.09999999999997,129.5 L284.09999999999997,131.7 M283.2,128.9 L281.9,132.1" stroke="#9ad0b8" stroke-width="0.7"/>
<path d="M230.70000000000002,76.5 L233.70000000000002,78.7 M232.8,75.9 L231.5,79.1" stroke="#9ad0b8" stroke-width="0.7"/>
<path d="M335.2,76.8 L338.2,79.0 M337.3,76.2 L336.0,79.39999999999999" stroke="#9ad0b8" stroke-width="0.7"/>
<path d="M244.8,37.6 L247.8,39.800000000000004 M246.9,37.0 L245.6,40.2" stroke="#9ad0b8" stroke-width="0.7"/>
<path d="M320.7,38 L323.7,40.2 M322.8,37.4 L321.5,40.6" stroke="#9ad0b8" stroke-width="0.7"/>
<path d="M244.6,113.8 L247.6,116.0 M246.7,113.2 L245.39999999999998,116.39999999999999" stroke="#9ad0b8" stroke-width="0.7"/>
<path d="M320.7,114 L323.7,116.2 M322.8,113.4 L321.5,116.6" stroke="#9ad0b8" stroke-width="0.7"/>
<ellipse cx="283.5" cy="26" rx="4.6" ry="8.2" stroke="#e6d61c"/>
<ellipse cx="282.7" cy="130.5" rx="4.6" ry="8.2" stroke="#e6d61c"/>
<ellipse cx="232.3" cy="77.5" rx="8" ry="4.8" stroke="#e6d61c"/>
<ellipse cx="336.8" cy="77.8" rx="8" ry="4.8" stroke="#e6d61c"/>
<ellipse cx="246.4" cy="38.6" rx="7.8" ry="5" stroke="#e5432b" transform="rotate(40 246.4 38.6)"/>
<ellipse cx="322.3" cy="39" rx="7.8" ry="5" stroke="#e5432b" transform="rotate(-40 322.3 39)"/>
<ellipse cx="246.2" cy="114.8" rx="7.8" ry="5" stroke="#e5432b" transform="rotate(-40 246.2 114.8)"/>
<ellipse cx="322.3" cy="115" rx="7.8" ry="5" stroke="#e5432b" transform="rotate(40 322.3 115)"/>
</g>
</g>
<text x="212.30" y="17.20" font-size="16" font-weight="bold" fill="#ffffff" text-anchor="start" font-family="Liberation Sans, sans-serif" textLength="34.0" lengthAdjust="spacingAndGlyphs" opacity="0.92">TOP</text>
<g clip-path="url(#clipP2)">
<rect x="364" y="20" width="152" height="152" fill="url(#gbgB)"/>
<g filter="url(#b06)">
<ellipse cx="438.4" cy="96.6" rx="74.2" ry="71.4" fill="#2a2a1e"/>
<ellipse cx="439.7" cy="94" rx="74.2" ry="71.3" fill="#cdc67c"/>
<ellipse cx="440.4" cy="94.6" rx="72.5" ry="69.6" fill="url(#grn2)"/>
<ellipse cx="439.2" cy="98.1" rx="34" ry="29.3" fill="#dcd690"/>
<ellipse cx="440.4" cy="97.1" rx="31.8" ry="27.3" fill="#4c4a3a"/>
<ellipse cx="438.8" cy="98.7" rx="30.8" ry="26.3" fill="#d6d6d2"/>
<circle cx="390.5" cy="74.5" r="1" fill="#0a2a1a"/><circle cx="488.5" cy="117.5" r="1" fill="#0a2a1a"/>
</g>
<g fill="none" stroke-width="1.4" filter="url(#b03)">
<ellipse cx="440.7" cy="54" rx="2.2" ry="1.6" fill="#7a7a30" stroke="none"/>
<ellipse cx="439" cy="137.5" rx="2.2" ry="1.6" fill="#7a7a30" stroke="none"/>
<ellipse cx="397.9" cy="95.5" rx="2.2" ry="1.6" fill="#7a7a30" stroke="none"/>
<ellipse cx="481.5" cy="97.5" rx="2.2" ry="1.6" fill="#7a7a30" stroke="none"/>
<ellipse cx="440.7" cy="54" rx="8" ry="4.8" stroke="#c8b0f0"/>
<ellipse cx="439" cy="137.5" rx="8" ry="4.8" stroke="#c8b0f0"/>
<ellipse cx="397.9" cy="95.5" rx="5" ry="7.8" stroke="#c8b0f0"/>
<ellipse cx="481.5" cy="97.5" rx="5" ry="7.8" stroke="#c8b0f0"/>
<ellipse cx="440.7" cy="45" rx="3.4" ry="2.2" stroke="#1f9bd8"/>
<ellipse cx="439.4" cy="147" rx="3.4" ry="2.2" stroke="#1f9bd8"/>
<ellipse cx="388.3" cy="95.6" rx="2.2" ry="3.4" stroke="#1f9bd8"/>
<ellipse cx="491.2" cy="98" rx="2.2" ry="3.4" stroke="#1f9bd8"/>
</g>
</g>
<text x="367.50" y="169.20" font-size="16.8" font-weight="bold" fill="#ffffff" text-anchor="start" font-family="Liberation Sans, sans-serif" textLength="75.0" lengthAdjust="spacingAndGlyphs" opacity="0.95">BOTTOM</text>
<rect x="208.8" y="155" width="70.4" height="16.3" rx="6" ry="6" fill="#f6b61e" stroke="#fad98a" stroke-width="1"/>
<text x="244.00" y="166.25" font-size="8.6" font-weight="bold" fill="#fff" text-anchor="middle" font-family="Liberation Sans, sans-serif" textLength="60.0" lengthAdjust="spacingAndGlyphs" >Varactor diodes</text>
<rect x="288" y="155" width="71.2" height="16.3" rx="6" ry="6" fill="#ee3a14" stroke="#f59a84" stroke-width="1"/>
<text x="323.60" y="166.25" font-size="8.6" font-weight="bold" fill="#fff" text-anchor="middle" font-family="Liberation Sans, sans-serif" textLength="35.0" lengthAdjust="spacingAndGlyphs" >Resistors</text>
<rect x="364.5" y="1.8" width="71.3" height="16.2" rx="6" ry="6" fill="#a97de8" stroke="#cdb4f3" stroke-width="1"/>
<text x="400.15" y="13.00" font-size="8.6" font-weight="bold" fill="#fff" text-anchor="middle" font-family="Liberation Sans, sans-serif" textLength="30.0" lengthAdjust="spacingAndGlyphs" >DC pads</text>
<rect x="444.3" y="1.8" width="71.5" height="16.2" rx="6" ry="6" fill="#0b79d8" stroke="#7ab6ea" stroke-width="1"/>
<text x="480.05" y="13.00" font-size="8.6" font-weight="bold" fill="#fff" text-anchor="middle" font-family="Liberation Sans, sans-serif" textLength="15.5" lengthAdjust="spacingAndGlyphs" >Vias</text>
</g>
</svg>
</body></html>
